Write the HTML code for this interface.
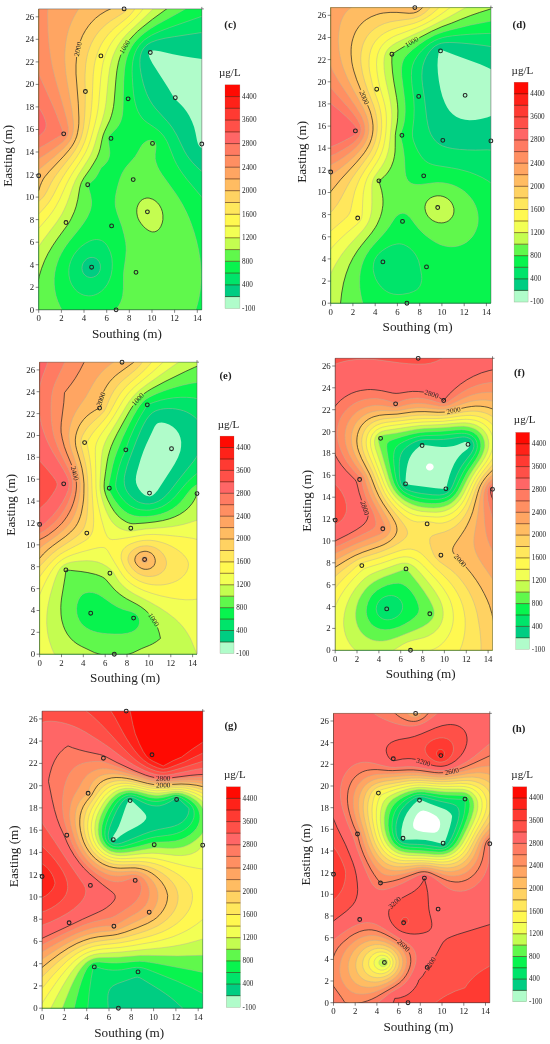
<!DOCTYPE html>
<html><head><meta charset="utf-8"><title>Contour maps</title>
<style>html,body{margin:0;padding:0;background:#fff}svg{display:block}text{font-family:"Liberation Serif",serif;fill:#222}</style>
</head><body>
<svg width="550" height="1044" viewBox="0 0 550 1044">
<rect width="550" height="1044" fill="#fff"/>
<clipPath id="cp0"><rect x="38.7" y="8.9" width="163.1" height="300.9"/></clipPath>
<g clip-path="url(#cp0)">
<rect x="38.7" y="8.9" width="163.1" height="300.9" fill="#fff"/>
<path fill="#b0fcca" fill-rule="evenodd" d="M36.4,311.3L203.8,311.3L203.8,6.1L36.4,6.1Z"/>
<path fill="#00cd82" fill-rule="evenodd" d="M36.4,311.3L203.8,311.3L203.8,149.1L201.5,148L200.4,147.2L199.2,146L198,144L197,140.6L195.5,132.7L194.1,127.1L192,121.4L189.2,115.8L186.7,111.8L183.7,107.8L180.7,104.5L175.3,99.2L174,97.7L167.9,87.5L152.5,63.5L150.3,59.2L149.3,57L148.7,54.7L148.6,53.6L148.8,52.5L149.1,51.9L150.3,50.9L152.5,50.4L154.8,50.5L160,51.3L173,54.3L182.1,56.1L191.3,57.6L203.8,59.3L203.8,6.1L36.4,6.1Z"/>
<path fill="#00e46a" fill-rule="evenodd" d="M36.4,311.3L203.8,311.3L203.8,173.1L199.2,169.2L195.8,166L192.4,162.4L189,158.2L186.7,154.9L184.4,151L176.7,135L172.6,128.2L170.1,124.8L167.3,121.4L156,109L152.5,104.5L150.3,100.9L148,96.6L146.5,93.2L144.9,88.6L143.4,83.9L142.1,78.5L140.9,72.8L140.1,67.2L139.9,62.6L140,59.3L140.4,55.9L141.4,52.5L142.4,50.2L143.9,48L146,45.7L148,44.1L151.4,42.2L157.1,40.1L165.1,38.2L174.2,36.7L203.8,32.2L203.8,6.1L36.4,6.1ZM89.9,277.4L87.7,276.9L86.5,276.3L85.4,275.5L83.9,274L83.1,272.7L82.3,270.6L82,268.3L82.2,266.1L82.8,263.8L83.4,262.7L85.1,260.4L86.5,259.2L87.7,258.4L89.9,257.6L92.2,257.4L93.3,257.5L95.3,258.1L96.8,259L97.9,260L99,261.5L99.6,262.7L100.3,264.9L100.4,268.3L99.9,270.6L99,272.5L98,274L96.8,275.2L95.4,276.2L93.3,277.1L91.1,277.5Z"/>
<path fill="#08f44e" fill-rule="evenodd" d="M36.4,311.3L203.8,311.3L203.8,199.6L186.7,179.1L182.4,173.4L179.4,168.9L176.7,164.4L174.2,159.3L168.6,145.1L167.1,141.7L165.2,138.4L163.7,136.1L160.8,132.7L158.2,130.3L154.8,127.7L147.1,122.5L144.3,120.3L142.1,118L139.7,114.6L137.9,111.2L136.6,107.8L135.3,103.3L134.3,98.8L133.5,93.2L132.8,85.2L132.3,77.3L132.1,71.7L132.3,66L132.8,61.5L133.7,57L134.8,53.6L136.2,50.2L138.2,46.8L140.8,43.4L143,41.2L146.9,38.1L150.3,36L154.8,33.6L159.4,31.6L169.6,27.6L203.8,15.6L203.8,6.1L36.4,6.1ZM85.4,295.5L83.1,294.9L80.8,293.9L77.4,291.7L75.4,289.8L74,288.1L71.7,284.5L70.6,282L69.8,279.6L68.9,275.1L68.8,270.6L69.1,267.2L69.6,264.9L70.6,261.6L71.5,259.3L73.9,254.8L77.4,250.2L80.8,246.8L85.4,243.4L89.9,241L92.2,240.2L94.5,239.7L96.8,239.5L99,239.8L101.3,240.5L102.5,241.1L104.2,242.3L105.9,244L107.2,245.7L108.5,248L110.5,252.5L111.9,258.1L112.3,263.8L112.1,269.4L111.1,275.1L109.6,279.6L107.5,284.1L104.7,288L101.3,291.3L97.9,293.6L95.6,294.6L93.3,295.4L91.1,295.8L88.8,295.9Z"/>
<path fill="#60f84c" fill-rule="evenodd" d="M36.4,311.3L62.7,311.3L60.2,306.7L57.7,301.1L55.9,295.4L54.8,289.8L54.2,284.1L54.2,278.5L54.8,272.8L55.9,267.2L57.3,262.7L59,258.1L61.2,253.6L63.7,249.2L66,245.7L69.3,241.2L79.4,228.8L83.6,223.1L87.2,217.5L89.8,211.8L90.6,209.6L91.3,206.2L91.5,203.9L91.5,200.5L90.6,194.9L87.7,184.7L88.8,184L92.2,181.3L95.4,177.9L97.6,174.5L100.5,168.9L101.3,167.8L104.9,164.4L106.8,162.1L107.6,161L108.7,158.7L109.4,156.4L109.8,153L109.6,149.7L108.3,140.6L108.4,138.4L108.7,137.2L109.3,136.1L110.4,134.6L116.6,128.2L119,124.8L120.2,122.5L121.1,120.3L122.3,115.8L123,109L123.8,80.7L124.6,69.4L125.4,63.8L126.7,58.1L128.2,53.6L130.3,49.1L133,44.6L136.6,40L141.2,35.6L146.9,31.1L151.4,28.1L157.1,24.6L176.3,14.1L190.2,6.1L36.4,6.1ZM115.7,311.3L195.3,311.3L197.4,304.5L199,297.7L200.2,290.9L201,283L201.2,275.1L200.9,267.2L200.1,259.3L198.6,250.2L196.9,242.3L194.4,233.3L191.8,225.4L189.3,218.6L186.3,211.8L182.8,205L179.5,199.4L175.8,193.7L162,174.5L159.2,170L157.5,166.6L155.9,162.1L155.2,158.7L155.2,154.2L156,147.4L156,145.1L155.7,144L155.3,142.9L154.5,141.7L153.7,141.1L152.8,140.6L151.4,140.2L149.1,140.3L146.9,141L144.6,142.4L142.9,144L141.2,146.3L137.4,153L135.2,156.4L132.4,159.8L127.3,165.5L124.7,168.9L122.1,173.4L120.2,177.9L118.1,184.7L116.4,191.5L115.6,196L115.2,200.5L115.2,203.9L115.6,207.3L117.1,212.9L121.8,226L124.1,234.4L125.7,242.3L126.1,246.8L126.2,250.2L125.7,257L123.7,271.7L123.5,276.2L123.4,288.7L122.7,295.4L121.9,298.8L120.7,302.2L118.9,305.6L116.1,309Z"/>
<path fill="#c4fd50" fill-rule="evenodd" d="M36.4,292L36.4,293.1L37.6,284.1L39.5,275.1L42,267.2L44.7,260.4L48,253.6L52.7,245.7L57.3,238.9L67.2,225.4L69.4,222L71.2,218.6L74.3,211.8L76.2,206.2L77.8,199.4L79.7,188.1L80.6,184.7L81.4,182.4L83.9,177.9L90.2,168.9L94.4,162.1L96.9,157.6L98.8,153L100.2,148.5L102,139.5L103.2,135L104.7,131.2L109.8,120.3L111.4,115.8L112.6,111.2L113.5,106.7L114.2,101.1L116,78.5L117.1,69.4L118.2,63.8L119.3,59.3L120.9,54.7L122.3,51.3L124.7,46.8L127.6,42.3L131.2,37.8L135.6,33.3L140,29.2L146.9,23.6L157.1,15.8L167.3,8.4L170,6.1L36.4,6.1ZM149.6,231L151.4,231.7L152.5,231.9L154.8,231.8L157.1,230.8L158.2,229.9L159.4,228.7L160.8,226.5L162.2,223.1L162.9,219.7L162.9,215.2L162.4,211.8L161.2,208.4L159.4,205.1L157.5,202.8L154.8,200.5L152.5,199.2L149.1,198.1L146.9,198L144.6,198.5L142.3,199.6L141.1,200.5L139.2,202.8L138,205L137.2,207.3L136.8,209.6L136.8,212.9L137.4,216.3L138.2,218.6L139.3,220.9L141.2,223.7L143.4,226.4L145.7,228.5L148,230.2Z"/>
<path fill="#f2ff54" fill-rule="evenodd" d="M36.4,249.1L36.4,249.7L43.1,240.1L56.8,222L61.5,214.8L64.2,209.6L66.7,203.9L68.8,198.3L72.6,187L75.5,180.2L78.6,174.5L88,159.8L90.5,155.3L92.5,150.8L94.5,145.1L98.1,132.7L102.2,120.3L104.3,112.4L105.4,106.7L106.2,101.1L108.3,78.5L109.7,68.3L110.7,63.8L111.9,59.3L113.5,54.7L115.5,50.2L117.9,45.7L120.1,42.3L122.6,38.9L125.5,35.5L129.9,31L144.4,17.4L155.9,6.1L36.4,6.1Z"/>
<path fill="#fff850" fill-rule="evenodd" d="M36.4,231L48.1,217.5L52.4,211.8L55.3,207.3L59.6,199.4L66.2,184.7L69.1,179L73,172.3L80.5,161L83.3,156.4L85.8,151.9L88.3,146.3L90.3,140.6L92.3,133.8L95,123.7L96.8,115.8L98,109L98.8,102.2L100.8,77.3L102,68.3L103.1,62.6L104.3,58.1L105.9,53.6L107.9,49.1L109.7,45.7L111.8,42.3L114.2,38.9L117,35.5L122.5,29.9L132.1,21.1L135.8,17.4L140.8,11.8L145.2,6.1L36.4,6.1Z"/>
<path fill="#ffe75c" fill-rule="evenodd" d="M36.4,215.2L36.4,216.2L41,211.6L44.4,207.9L47.7,203.9L50.1,200.5L53.4,194.9L59.1,183.6L63,176.8L67.4,170L76.3,157.6L79.7,152.2L82.2,147.4L84.7,141.7L86.5,136.1L88.2,129.3L89.6,122.5L90.8,114.6L91.6,106.7L92.2,98.8L93.2,75.1L94.2,66L95.3,60.4L96.5,55.9L98.1,51.3L100.1,46.8L101.9,43.4L104,40L106.4,36.7L109.3,33.3L115.1,27.6L126.4,18.4L129.8,15.3L131.9,12.9L133.6,10.7L136.4,6.1L36.4,6.1Z"/>
<path fill="#ffd262" fill-rule="evenodd" d="M36.4,202.8L36.4,203.5L41,199.4L43.3,196.9L44.8,194.9L46.8,191.5L51.4,182.4L54.8,176.8L59.8,170L70.6,156.5L75.1,150.1L78.5,144L80.8,138.4L82.2,133.8L83.4,128.2L84.1,122.5L84.7,115.8L85.1,107.8L85.4,92L85,81.9L85,75.1L85.7,64.9L86.5,59.3L87.7,53.6L89.5,48L91.4,43.4L93.8,38.9L95.9,35.5L99,31.4L102.5,27.7L106.4,24.2L110.4,21.1L122.9,13.2L125.2,11.5L126.9,9.5L128.5,6.1L36.4,6.1Z"/>
<path fill="#ffbc62" fill-rule="evenodd" d="M36.4,191.5L36.4,192.2L37.7,191.5L38.8,190.3L40.2,185.8L42.1,181.3L44,177.9L45.7,175.7L51.7,168.9L64.9,154.9L70.6,148.1L72.9,144.7L74.5,141.7L75.5,139.5L76.8,136.1L77.6,132.7L78.4,128.2L78.8,122.5L78.9,116.9L78.2,102.2L76.1,76.2L75.9,69.4L76.1,63.8L76.6,57L77.7,50.2L79.5,43.4L81.6,37.8L83.8,33.3L86.5,28.7L89.8,24.2L93.3,20.3L96.8,17.2L100.2,14.6L105.9,11.1L111.6,8.4L113.8,6.1L36.4,6.1Z"/>
<path fill="#ffa562" fill-rule="evenodd" d="M36.4,171.1L36.4,171.7L54.6,156.5L63.7,148.3L67.2,144.5L69.4,141.5L71.2,138.4L72.4,135L73.2,131.6L73.5,128.2L73.5,124.8L73.2,120.3L71.7,108.5L67.3,83L65.8,72.8L64.9,61.5L64.8,55.9L65,50.2L65.7,43.4L66.6,37.8L67.9,32.1L69.4,27.3L71.5,22L74,16.8L76.8,11.8L80.4,6.1L36.4,6.1Z"/>
<path fill="#ff8f62" fill-rule="evenodd" d="M36.4,159.8L36.4,160.4L47.8,152.9L56.9,146.4L62.6,141.9L64.9,139.7L66.8,137.2L67.9,135L68.5,131.6L68.3,127.1L66.7,119.1L63.7,107.9L54.9,77.3L52.5,67.2L50.6,57L49,44.6L48,31L47.6,14.1L47.8,9.5L48.2,6.1L36.4,6.1Z"/>
<path fill="#ff7b62" fill-rule="evenodd" d="M36.4,148.5L36.4,149.6L44.4,145.2L56.9,137.7L63.7,133.8L56.9,115.5L53.5,107L41.7,80.7L36.4,68.5Z"/>
<path fill="#ff6666" fill-rule="evenodd" d="M36.4,137.2L36.4,137.5L40.4,135L42.1,133.4L43.8,131.6L44.6,130.4L45.6,128.2L45.9,127.1L46.1,124.8L45.9,122.5L45.3,120.3L43.6,115.8L41,110.9L36.4,103.9Z"/>
<path fill="none" stroke="#b8b49c" stroke-opacity="0.75" stroke-width="0.6" d="M89.9,277.4L87.7,276.9L86.5,276.3L85.4,275.5L83.9,274L83.1,272.7L82.3,270.6L82,268.3L82.2,266.1L82.8,263.8L83.4,262.7L85.1,260.4L86.5,259.2L87.7,258.4L89.9,257.6L92.2,257.4L93.3,257.5L95.3,258.1L96.8,259L97.9,260L99,261.5L99.6,262.7L100.3,264.9L100.4,268.3L99.9,270.6L99,272.5L98,274L96.8,275.2L95.4,276.2L93.3,277.1L91.1,277.5L89.9,277.4M203.8,173.1L199.2,169.2L195.8,166L192.4,162.4L189,158.2L186.7,154.9L184.4,151L176.7,135L172.6,128.2L170.1,124.8L167.3,121.4L156,109L152.5,104.5L150.3,100.9L148,96.6L146.5,93.2L144.9,88.6L143.4,83.9L142.1,78.5L140.9,72.8L140.1,67.2L139.9,62.6L140,59.3L140.4,55.9L141.4,52.5L142.4,50.2L143.9,48L146,45.7L148,44.1L151.4,42.2L157.1,40.1L165.1,38.2L174.2,36.7L203.8,32.2M85.4,295.5L83.1,294.9L80.8,293.9L77.4,291.7L75.4,289.8L74,288.1L71.7,284.5L70.6,282L69.8,279.6L68.9,275.1L68.8,270.6L69.1,267.2L69.6,264.9L70.6,261.6L71.5,259.3L73.9,254.8L77.4,250.2L80.8,246.8L85.4,243.4L89.9,241L92.2,240.2L94.5,239.7L96.8,239.5L99,239.8L101.3,240.5L102.5,241.1L104.2,242.3L105.9,244L107.2,245.7L108.5,248L110.5,252.5L111.9,258.1L112.3,263.8L112.1,269.4L111.1,275.1L109.6,279.6L107.5,284.1L104.7,288L101.3,291.3L97.9,293.6L95.6,294.6L93.3,295.4L91.1,295.8L88.8,295.9L85.4,295.5M203.8,199.6L186.7,179.1L182.4,173.4L179.4,168.9L176.7,164.4L174.2,159.3L168.6,145.1L167.1,141.7L165.2,138.4L163.7,136.1L160.8,132.7L158.2,130.3L154.8,127.7L147.1,122.5L144.3,120.3L142.1,118L139.7,114.6L137.9,111.2L136.6,107.8L135.3,103.3L134.3,98.8L133.5,93.2L132.8,85.2L132.3,77.3L132.1,71.7L132.3,66L132.8,61.5L133.7,57L135.2,52.5L136.8,49.1L138.9,45.7L141.9,42.3L144.6,39.8L148,37.4L151.4,35.3L156,33.1L160.5,31.1L169.6,27.6L203.8,15.6M62.7,311.3L60.2,306.7L57.7,301.1L55.9,295.4L54.8,289.8L54.2,284.1L54.2,278.5L54.8,272.8L55.9,267.2L57.3,262.7L59,258.1L61.2,253.6L63.7,249.2L66,245.7L69.3,241.2L79.4,228.8L83.6,223.1L87.2,217.5L89.8,211.8L90.6,209.6L91.3,206.2L91.5,203.9L91.5,200.5L90.6,194.9L87.7,184.7L88.8,184L92.2,181.3L95.4,177.9L97.6,174.5L100.5,168.9L101.3,167.8L104.9,164.4L106.8,162.1L107.6,161L108.7,158.7L109.4,156.4L109.8,153L109.6,149.7L108.3,140.6L108.4,138.4L108.7,137.2L109.3,136.1L110.4,134.6L116.6,128.2L119,124.8L120.2,122.5L121.1,120.3L122.3,115.8L123,109L123.7,81.9L124.4,70.6L125.2,64.9L126.1,60.4L127.4,55.9L128.7,52.5L131.6,46.8L134.7,42.3L138.9,37.7L144.6,32.8L150.3,28.8L157.1,24.6L176.3,14.1L190.2,6.1M195.3,311.3L198,302.2L199.6,294.3L200.7,286.4L201.2,277.4L201,268.3L200.1,259.3L198.4,249.1L196,238.9L193.4,229.9L190.6,222L187.3,214.1L183.4,206.2L180.2,200.5L176.5,194.6L162,174.5L159.2,170L157.5,166.6L155.9,162.1L155.2,158.7L155.2,154.2L156,147.4L156,145.1L155.7,144L154.8,142.2L153.7,141.1L152.5,140.5L150.3,140.2L148,140.6L146.9,141L144.6,142.4L142.9,144L141.2,146.3L137.4,153L135.2,156.4L132.4,159.8L126.4,166.6L124.1,169.8L121.8,173.9L119.8,179L117.8,185.8L116.2,192.6L115.4,197.1L115.2,200.5L115.2,203.9L115.6,207.3L117.1,212.9L121.8,226L124.1,234.4L125.7,242.3L126.1,246.8L126.2,250.2L125.7,257L123.7,271.7L123.5,276.2L123.4,288.7L122.7,295.4L121.9,298.8L120.7,302.2L118.9,305.6L116.1,309L115.7,311.3M36.4,249.7L43.1,240.1L56.8,222L61.5,214.8L64.2,209.6L66.7,203.9L68.8,198.3L72.6,187L75.5,180.2L78.6,174.5L88,159.8L90.5,155.3L92.5,150.8L94.5,145.1L98.1,132.7L102.2,120.3L104.3,112.4L105.4,106.7L106.2,101.1L108.3,78.5L109.7,68.3L110.7,63.8L111.9,59.3L113.5,54.7L115.5,50.2L117.9,45.7L120.1,42.3L122.6,38.9L125.5,35.5L129.9,31L144.4,17.4L155.9,6.1M36.4,231L48.1,217.5L52.4,211.8L55.3,207.3L59.6,199.4L66.2,184.7L69.1,179L73,172.3L80.5,161L83.3,156.4L85.8,151.9L88.3,146.3L90.3,140.6L92.3,133.8L95,123.7L96.8,115.8L98,109L98.8,102.2L100.8,77.3L102,68.3L103.1,62.6L104.3,58.1L105.9,53.6L107.9,49.1L109.7,45.7L111.8,42.3L114.2,38.9L117,35.5L122.5,29.9L132.1,21.1L135.8,17.4L140.8,11.8L145.2,6.1M36.4,216.2L41,211.6L44.4,207.9L47.7,203.9L50.1,200.5L53.4,194.9L59.1,183.6L63,176.8L67.4,170L76.3,157.6L79.7,152.2L82.2,147.4L84.7,141.7L86.5,136.1L88.2,129.3L89.6,122.5L90.8,114.6L91.6,106.7L92.2,98.8L93.2,75.1L94.2,66L95.3,60.4L96.5,55.9L98.1,51.3L99.5,48L101.2,44.6L103.2,41.2L105.6,37.8L108.3,34.4L111.4,31L115.1,27.6L126.4,18.4L129.8,15.3L131.9,12.9L133.6,10.7L136.4,6.1M36.4,203.5L41,199.4L43.3,196.9L44.8,194.9L46.8,191.5L51.4,182.4L54.8,176.8L59.8,170L70.6,156.5L75.1,150.1L78.5,144L80.8,138.4L82.2,133.8L83.4,128.2L84.1,122.5L84.7,115.8L85.1,107.8L85.4,92L85,81.9L85,75.1L85.7,64.9L86.5,59.3L87.7,53.6L89.5,48L91.4,43.4L93.8,38.9L95.9,35.5L99,31.4L102.5,27.7L106.4,24.2L110.4,21.1L122.9,13.2L125.2,11.5L126.9,9.5L128.5,6.1M36.4,171.7L54.6,156.5L63.7,148.3L67.2,144.5L69.4,141.5L71.2,138.4L72.4,135L73.2,131.6L73.5,128.2L73.5,124.8L73.2,120.3L71.7,108.5L67.3,83L65.8,72.8L64.9,61.5L64.8,55.9L65,50.2L65.7,43.4L66.6,37.8L67.9,32.1L69.4,27.3L71.5,22L74,16.8L76.8,11.8L80.4,6.1M36.4,160.4L52.4,149.7L58.1,145.6L62.6,141.9L64.9,139.7L66.8,137.2L67.9,135L68.5,131.6L68.3,127.1L66.7,119.1L63.7,107.9L54.9,77.3L52.5,67.2L50.6,57L49,44.6L48,31L47.6,14.1L47.8,9.5L48.2,6.1M36.4,149.6L44.4,145.2L56.9,137.7L63.7,133.8L56.9,115.5L53.5,107L41.7,80.7L36.4,68.5M36.4,137.5L40.4,135L42.1,133.4L43.8,131.6L44.6,130.4L45.6,128.2L45.9,127.1L46.1,124.8L45.9,122.5L45.3,120.3L43.6,115.8L41,110.9L36.4,103.9"/>
<path fill="none" stroke="#222" stroke-width="0.7" d="M36.4,293.1L37.4,285.3L39.2,276.2L41.6,268.3L44.7,260.4L48,253.6L52.7,245.7L57.3,238.9L67.2,225.4L69.4,222L71.2,218.6L74.3,211.8L76.2,206.2L77.8,199.4L79.7,188.1L80.6,184.7L81.4,182.4L83.9,177.9L90.2,168.9L94.4,162.1L96.9,157.6L98.8,153L100.2,148.5L102,139.5L103.2,135L104.7,131.2L109.8,120.3L111.4,115.8L112.6,111.2L113.5,106.7L114.2,101.1L115.9,79.6L116.9,70.6L118.4,62.6L119.7,58.1L120.9,54.7M129.3,40L134.4,34.4L137.7,31.2L142.3,27.3L152.5,19.2L167.3,8.4L170,6.1M149.6,231L151.4,231.7L152.5,231.9L154.8,231.8L157.1,230.8L158.2,229.9L159.4,228.7L160.8,226.5L162.2,223.1L162.9,219.7L162.9,215.2L162.4,211.8L161.2,208.4L159.4,205.1L157.5,202.8L154.8,200.5L152.5,199.2L149.1,198.1L146.9,198L144.6,198.5L142.3,199.6L141.1,200.5L139.2,202.8L138,205L137.2,207.3L136.8,209.6L136.8,212.9L137.4,216.3L138.2,218.6L139.3,220.9L141.2,223.7L143.4,226.4L145.7,228.5L148,230.2L149.6,231M36.4,192.2L37.7,191.5L38.8,190.3L40.2,185.8L41.6,182.4L43.3,179L44.8,176.8L49.6,171.1L63.7,156.2L69.4,149.6L71.8,146.3L73.9,142.9L75.5,139.5L76.8,136.1L77.6,132.7L78.4,128.2L78.8,123.7L78.9,118L78.3,103.3L76,73.9L76,64.9L76.6,57M80.3,41.2L82.6,35.5L85.4,30.5L88.8,25.5L92.2,21.5L95.6,18.2L100.2,14.6L105.9,11.1L111.6,8.4L113.8,6.1"/>
<text x="124.7" y="49.2" font-size="7.2" text-anchor="middle" transform="rotate(-60 124.7 46.8)" fill="#222">1000</text>
<text x="78" y="51.5" font-size="7.2" text-anchor="middle" transform="rotate(-77.3 78 49.1)" fill="#222">2000</text>
</g>
<circle cx="124.1" cy="8.9" r="1.9" fill="none" stroke="#222" stroke-width="1.05"/>
<circle cx="150.3" cy="52.5" r="1.9" fill="none" stroke="#222" stroke-width="1.05"/>
<circle cx="100.9" cy="55.9" r="1.9" fill="none" stroke="#222" stroke-width="1.05"/>
<circle cx="85.4" cy="91.5" r="1.9" fill="none" stroke="#222" stroke-width="1.05"/>
<circle cx="128.1" cy="98.8" r="1.9" fill="none" stroke="#222" stroke-width="1.05"/>
<circle cx="175.3" cy="97.7" r="1.9" fill="none" stroke="#222" stroke-width="1.05"/>
<circle cx="63.7" cy="133.8" r="1.9" fill="none" stroke="#222" stroke-width="1.05"/>
<circle cx="111" cy="138.4" r="1.9" fill="none" stroke="#222" stroke-width="1.05"/>
<circle cx="152.5" cy="143.4" r="1.9" fill="none" stroke="#222" stroke-width="1.05"/>
<circle cx="201.8" cy="144" r="1.9" fill="none" stroke="#222" stroke-width="1.05"/>
<circle cx="38.7" cy="175.7" r="1.9" fill="none" stroke="#222" stroke-width="1.05"/>
<circle cx="87.7" cy="184.7" r="1.9" fill="none" stroke="#222" stroke-width="1.05"/>
<circle cx="133.2" cy="179.6" r="1.9" fill="none" stroke="#222" stroke-width="1.05"/>
<circle cx="147.4" cy="211.8" r="1.9" fill="none" stroke="#222" stroke-width="1.05"/>
<circle cx="66" cy="222.5" r="1.9" fill="none" stroke="#222" stroke-width="1.05"/>
<circle cx="111.6" cy="225.9" r="1.9" fill="none" stroke="#222" stroke-width="1.05"/>
<circle cx="91.6" cy="267.2" r="1.9" fill="none" stroke="#222" stroke-width="1.05"/>
<circle cx="136" cy="272.3" r="1.9" fill="none" stroke="#222" stroke-width="1.05"/>
<circle cx="116.1" cy="309.8" r="1.9" fill="none" stroke="#222" stroke-width="1.05"/>
<text x="38.7" y="321.3" font-size="8.8" text-anchor="middle">0</text>
<text x="61.4" y="321.3" font-size="8.8" text-anchor="middle">2</text>
<text x="84" y="321.3" font-size="8.8" text-anchor="middle">4</text>
<text x="106.7" y="321.3" font-size="8.8" text-anchor="middle">6</text>
<text x="129.3" y="321.3" font-size="8.8" text-anchor="middle">8</text>
<text x="152" y="321.3" font-size="8.8" text-anchor="middle">10</text>
<text x="174.6" y="321.3" font-size="8.8" text-anchor="middle">12</text>
<text x="197.3" y="321.3" font-size="8.8" text-anchor="middle">14</text>
<text x="34.2" y="312.7" font-size="8.8" text-anchor="end">0</text>
<text x="34.2" y="290.2" font-size="8.8" text-anchor="end">2</text>
<text x="34.2" y="267.6" font-size="8.8" text-anchor="end">4</text>
<text x="34.2" y="245.1" font-size="8.8" text-anchor="end">6</text>
<text x="34.2" y="222.5" font-size="8.8" text-anchor="end">8</text>
<text x="34.2" y="200" font-size="8.8" text-anchor="end">10</text>
<text x="34.2" y="177.5" font-size="8.8" text-anchor="end">12</text>
<text x="34.2" y="154.9" font-size="8.8" text-anchor="end">14</text>
<text x="34.2" y="132.4" font-size="8.8" text-anchor="end">16</text>
<text x="34.2" y="109.8" font-size="8.8" text-anchor="end">18</text>
<text x="34.2" y="87.3" font-size="8.8" text-anchor="end">20</text>
<text x="34.2" y="64.8" font-size="8.8" text-anchor="end">22</text>
<text x="34.2" y="42.2" font-size="8.8" text-anchor="end">24</text>
<text x="34.2" y="19.7" font-size="8.8" text-anchor="end">26</text>
<path d="M38.7,8.9H201.8V309.8" fill="none" stroke="#555" stroke-width="0.5"/>
<path d="M38.7,8.9V309.8H201.8M38.7,309.8v3M61.4,309.8v3M84,309.8v3M106.7,309.8v3M129.3,309.8v3M152,309.8v3M174.6,309.8v3M197.3,309.8v3M38.7,309.8h-3M38.7,287.3h-3M38.7,264.7h-3M38.7,242.2h-3M38.7,219.6h-3M38.7,197.1h-3M38.7,174.6h-3M38.7,152h-3M38.7,129.5h-3M38.7,106.9h-3M38.7,84.4h-3M38.7,61.9h-3M38.7,39.3h-3M38.7,16.8h-3M201.8,8.9v-2M201.8,8.9h2" fill="none" stroke="#333" stroke-width="0.6"/>
<text x="127" y="337.6" font-size="13.2" text-anchor="middle">Southing (m)</text>
<text x="12.5" y="155.8" font-size="13.2" text-anchor="middle" transform="rotate(-90 12.5 155.8)">Easting (m)</text>
<text x="230.3" y="27.5" font-size="10.8" font-weight="bold" text-anchor="middle">(c)</text>
<rect x="225" y="296.6" width="14.9" height="12" fill="#b0fcca"/>
<rect x="225" y="284.9" width="14.9" height="12" fill="#00cd82"/>
<rect x="225" y="273.1" width="14.9" height="12" fill="#00e46a"/>
<rect x="225" y="261.3" width="14.9" height="12" fill="#08f44e"/>
<rect x="225" y="249.6" width="14.9" height="12" fill="#60f84c"/>
<rect x="225" y="237.8" width="14.9" height="12" fill="#c4fd50"/>
<rect x="225" y="226" width="14.9" height="12" fill="#f2ff54"/>
<rect x="225" y="214.3" width="14.9" height="12" fill="#fff850"/>
<rect x="225" y="202.5" width="14.9" height="12" fill="#ffe75c"/>
<rect x="225" y="190.7" width="14.9" height="12" fill="#ffd262"/>
<rect x="225" y="178.9" width="14.9" height="12" fill="#ffbc62"/>
<rect x="225" y="167.2" width="14.9" height="12" fill="#ffa562"/>
<rect x="225" y="155.4" width="14.9" height="12" fill="#ff8f62"/>
<rect x="225" y="143.6" width="14.9" height="12" fill="#ff7b62"/>
<rect x="225" y="131.9" width="14.9" height="12" fill="#ff6666"/>
<rect x="225" y="120.1" width="14.9" height="12" fill="#ff5048"/>
<rect x="225" y="108.3" width="14.9" height="12" fill="#ff3a32"/>
<rect x="225" y="96.6" width="14.9" height="12" fill="#ff2219"/>
<rect x="225" y="84.8" width="14.9" height="12" fill="#ff0a02"/>
<path d="M225,296.6H239.9M225,284.9H239.9M225,273.1H239.9M225,261.3H239.9M225,249.6H239.9M225,237.8H239.9M225,226H239.9M225,214.3H239.9M225,202.5H239.9M225,190.7H239.9M225,178.9H239.9M225,167.2H239.9M225,155.4H239.9M225,143.6H239.9M225,131.9H239.9M225,120.1H239.9M225,108.3H239.9M225,96.6H239.9" fill="none" stroke="#3a1a08" stroke-opacity="0.8" stroke-width="0.7"/>
<rect x="225" y="84.8" width="14.9" height="223.6" fill="none" stroke="#806050" stroke-opacity="0.5" stroke-width="0.4"/>
<text x="242.1" y="310.7" font-size="7.2">-100</text>
<text x="242.1" y="287.2" font-size="7.2">400</text>
<text x="242.1" y="263.6" font-size="7.2">800</text>
<text x="242.1" y="240.1" font-size="7.2">1200</text>
<text x="242.1" y="216.6" font-size="7.2">1600</text>
<text x="242.1" y="193" font-size="7.2">2000</text>
<text x="242.1" y="169.5" font-size="7.2">2400</text>
<text x="242.1" y="145.9" font-size="7.2">2800</text>
<text x="242.1" y="122.4" font-size="7.2">3600</text>
<text x="242.1" y="98.9" font-size="7.2">4400</text>
<text x="219" y="76.4" font-size="11">µg/L</text>
<clipPath id="cp1"><rect x="330.7" y="7.6" width="160.2" height="295.6"/></clipPath>
<g clip-path="url(#cp1)">
<rect x="330.7" y="7.6" width="160.2" height="295.6" fill="#fff"/>
<path fill="#b0fcca" fill-rule="evenodd" d="M328.6,305.2L493.1,305.2L493.1,5.4L328.6,5.4Z"/>
<path fill="#00cd82" fill-rule="evenodd" d="M328.6,305.2L493.1,305.2L493.1,115.4L487,117.5L480.8,119.1L475.2,119.9L469.6,120.2L465.1,119.8L460.7,118.7L458.4,117.8L456.2,116.7L452.8,114.2L449.6,110.9L447.2,107.5L444.9,103.1L442.4,96.4L440.5,89.4L438.9,80.9L437.9,73.1L437.5,65.3L437.8,58.7L438.6,53.1L439.5,50.9L440.5,50.1L441.6,50.1L444.4,50.9L456.2,55.6L480.2,64.2L487.5,67.4L493.1,70.4L493.1,5.4L328.6,5.4Z"/>
<path fill="#00e46a" fill-rule="evenodd" d="M328.6,305.2L493.1,305.2L493.1,150.3L487.5,149.8L475.2,150.1L467.4,149.9L459.6,149.4L452.8,148.6L447.2,147.4L442.8,146L439.3,144.2L437.2,142.5L435.4,140.9L432.8,137.5L430.9,134.2L429.3,130.3L428,125.3L426.8,118.7L424.5,98.7L422.6,85.3L422,79.8L421.9,75.3L422.2,69.8L423,65.3L424.4,60.9L426.4,56.5L429.2,52L432,48.7L434.9,46.2L438.3,44.3L441.6,43.2L445,42.7L449.5,42.5L454,42.6L461.9,43.1L473.4,44.2L483.1,45.4L493.1,46.9L493.1,5.4L328.6,5.4Z"/>
<path fill="#08f44e" fill-rule="evenodd" d="M328.6,305.2L493.1,305.2L493.1,184.6L487.9,180.8L482.2,177.5L476.3,174.8L469.6,172.2L464,170.6L458.4,169.2L451.7,167.9L436,165.4L432.7,164.6L430.4,163.8L428.2,162.8L426,161.4L423.7,159.4L421.5,156.8L418.4,152L415.9,147L413.5,140.9L412.5,136.4L412.4,132L413.9,118.7L414.2,108.7L413.8,99.8L411.8,83.1L411.4,75.3L411.7,69.8L412.6,65.3L414.3,60.9L417,56.5L418.6,54.2L421.5,50.9L426.1,46.5L430.4,43.1L434.9,40.5L438.3,39L442.8,37.6L447.2,36.6L452.8,35.8L460.7,35L470.7,34.2L493.1,33.2L493.1,5.4L328.6,5.4ZM393.5,294.1L391.3,293.5L389,292.7L386.8,291.5L384.5,290L381.2,287L378,283L375.6,278.6L374.1,274.1L373.4,270.8L373.2,268.6L373.5,264.1L374,261.9L374.7,259.7L376.6,256.4L378.9,253.5L382.3,250.6L386.8,247.7L390.1,246L392.4,245.1L396.9,244L399.1,243.8L401.3,244L403.6,244.6L405.2,245.3L406.9,246.2L409.2,247.7L411.4,249.6L413.5,251.9L415.2,254.1L416.6,256.4L418.6,260.8L420,266.4L421.6,275.2L421.8,278.6L421.6,280.8L420.8,284.1L419.8,286.3L419,287.5L416.8,289.7L413.6,291.5L409.2,293.1L402.5,294.3L398,294.6Z"/>
<path fill="#60f84c" fill-rule="evenodd" d="M328.6,305.2L363.3,305.2L361.6,298.6L360.5,293L359.8,287.5L359.6,281.9L359.8,276.3L360.5,270.8L361.8,265.2L363.4,260.8L364.9,257.5L366.7,254.1L370.5,248.6L373.3,245.2L382.4,235.3L386.2,230.8L389.4,226.4L393.7,219.7L395.7,217L397.6,215.3L399.1,214.2L401.3,213.4L403.6,213.3L404.7,213.6L406.9,214.6L409,216.4L410.3,217.8L415.9,225.3L419.2,229.3L422.6,232.7L426,235.7L430.4,239.1L436,242.6L440.5,244.7L445,246.1L449.5,246.8L454,246.8L458.4,246L461.8,244.8L464,243.7L466.3,242.4L469.6,239.7L472.5,236.4L474.7,233L476.6,228.6L477.3,226.4L478,223L478.2,217.5L477.5,211.9L476.9,209.7L475.8,206.4L474.2,203.1L472.9,200.8L469.6,196.4L467.5,194.2L465.1,191.9L461.8,189.5L457.3,186.9L452.8,185L448.4,183.7L442.8,182.8L437.2,182.6L432.7,183L421.5,184.5L418.1,184.6L415.9,184.5L412.5,183.8L410.3,182.7L408.2,180.8L406.8,178.6L405.8,175.7L405.2,172L404.5,158.6L403.6,150.9L402.7,145.3L400.8,137.5L400.5,135.3L401,133.1L403.2,126.4L404.2,122L404.9,116.4L405.2,110.9L405.1,105.3L404.7,99.8L401.8,76.5L401.5,72L401.6,67.6L402.3,63.1L403.5,59.8L404.8,57.6L407.6,54.2L412.4,49.8L419.5,44.2L426.1,39.8L431.6,36.7L434.9,35.1L439.4,33.3L443.9,31.8L449.5,30.2L470.7,25L493.1,20.7L493.1,5.4L328.6,5.4Z"/>
<path fill="#c4fd50" fill-rule="evenodd" d="M328.6,305.2L340.3,305.2L341.7,293L343.5,283L345,277.5L346.3,273L347.9,268.6L349.8,264.1L353.2,257.5L357.4,250.8L361.5,245.3L371.5,233L375.3,227.5L377.2,224.2L378.8,220.8L380.5,216.4L381.5,213L382.4,208.6L382.9,205.3L383,201.9L382.9,198.6L382.5,195.3L381.7,190.8L378.9,180.8L381.2,179.2L384.3,176.4L386.4,174.2L388.1,172L389.6,169.7L391.3,166.6L393.4,160.9L394.4,156.4L395,152L395.2,147.5L395.3,135.3L395.7,132L397.3,122L397.7,117.5L397.9,110.9L397.4,103.1L396.5,96.4L393.4,78.7L392.2,68.7L391.8,59.8L391.9,55.4L392.2,54.2L393.6,53.1L398.8,49.8L409.9,43.1L421.7,36.5L431.6,31.3L441.6,26.8L451.7,23.1L467.4,16.8L478.6,12.8L492,8.4L493.1,8L493.1,5.4L328.6,5.4ZM435.7,221.9L438.3,222.7L441.6,222.9L443.9,222.7L446.4,221.9L448.5,220.8L451,218.6L452.5,216.4L453.5,214.2L453.9,211.9L453.9,208.6L452.9,205.3L451.8,203.1L450.1,200.8L447.5,198.6L445,197.2L442.8,196.4L440.5,195.9L437.2,195.8L434.9,196.2L432.7,196.9L430.4,198L428.3,199.7L426.5,201.9L425.5,204.2L425,206.4L425,208.6L425.7,211.9L426.7,214.2L428.2,216.5L430.4,218.8L432.7,220.5Z"/>
<path fill="#f2ff54" fill-rule="evenodd" d="M328.6,277.5L328.6,278L331.5,271.9L335,265.2L338.3,259.7L342,254.1L345.4,249.7L349,245.3L363.3,229.7L366.5,225.3L368.4,221.9L369.3,219.7L370.4,216.4L371.1,213L371.6,209.7L371.9,203.1L371.8,187.5L372,184.2L372.7,180.8L373.5,178.6L374.6,176.4L381.7,166.4L384.3,162L386.3,157.5L388,152L389,147.5L389.7,142L391.5,123.1L391.8,115.3L391.5,109.8L390.6,103.1L389.6,97.6L386.1,82L384.9,75.3L384.1,68.7L383.9,63.1L384.1,58.7L384.7,55.4L386,52L387.4,49.8L389.4,47.6L392.4,45.2L395.7,43.1L402.3,39.8L420.4,31.5L432.7,25.4L449.8,16.5L469.5,5.4L328.6,5.4Z"/>
<path fill="#fff850" fill-rule="evenodd" d="M328.6,250.8L328.6,251.4L335,244.1L342.8,236.4L357.7,223.7L359.9,221.2L360.8,219.7L361.7,217.5L362.2,214.2L362.8,199.7L363.3,193.1L364.3,187.5L365.4,183.1L367,178.6L369.2,174.2L376.7,162.5L379.5,157.5L381.9,152L383.6,146.4L384.9,139.8L385.9,132L386.4,124.2L386.4,117.5L386,112L384.9,105.3L383.2,98.7L379.6,86.4L377.9,77.6L376.9,70.9L376.5,64.2L376.8,58.7L377.7,54.2L379.4,49.8L381.3,46.5L383.4,43.8L386.6,40.9L390.1,38.5L393.5,36.6L396.9,35.1L415.9,28L421.5,25.6L426.5,23.1L432.4,19.8L439.3,15.4L445.6,10.9L453,5.4L328.6,5.4Z"/>
<path fill="#ffe75c" fill-rule="evenodd" d="M328.6,231.9L328.6,232.9L345.2,218.6L347.4,216.4L349,214.2L350.1,211.9L350.8,209.7L353.1,198.6L354.7,191.9L356.2,187.5L357.9,183.1L359.9,178.6L362.4,174.2L365.2,169.7L371.9,159.7L375.1,154.2L378,147.5L379.9,140.9L381.1,134.2L381.7,127.5L381.6,120.9L381,114.2L380.1,109.2L378.8,104.2L377,98.7L373.8,89.8L372.6,85.3L370.4,75.3L369.6,70.9L369.1,66.5L369,60.9L369.5,55.4L370.9,49.8L372.7,45.4L374.8,42L377.5,38.7L381.2,35.4L384.5,33.1L388.7,30.9L393.5,29L398.2,27.6L412.5,23.8L417,22.3L421.5,20.4L426.5,17.6L431.3,14.3L436.6,9.8L441.3,5.4L328.6,5.4Z"/>
<path fill="#ffd262" fill-rule="evenodd" d="M328.6,214.2L328.6,214.5L333,209.9L337.4,204.2L340.9,198.4L347.8,185.3L351.8,178.6L356.4,172L366.3,158.6L369.3,154.2L371.8,149.7L373.3,146.4L375,142L376.1,137.5L377,132L377.3,126.4L377,120.9L376,114.2L374.9,109.8L373.5,105.3L367.5,89.8L364.9,82L362.5,73.1L361.2,65.3L360.7,58.7L361.2,52L362.4,46.5L363.3,43.7L364.5,40.9L367,36.5L368.7,34.3L370.7,32L374.5,28.8L378.9,26L384.5,23.5L390.1,21.9L395.7,20.9L410.3,18.9L413.6,18.2L417,17.1L420.8,15.4L424.8,12.7L428.1,9.8L432,5.4L328.6,5.4Z"/>
<path fill="#ffbc62" fill-rule="evenodd" d="M328.6,194.2L328.6,194.3L340.5,179.7L357.7,161L361,157L364.1,153.1L367,148.6L369.4,144.2L371.1,139.8L372.5,134.2L373,129.8L372.9,124.2L372.3,119.8L371,114.2L369.6,109.8L367.8,105.3L360.2,88.7L356.7,79.8L353.8,70.9L352,63.1L351.4,58.7L351.1,54.2L351.1,49.8L351.3,46.5L352,42L352.9,38.7L354,35.4L355.5,32L357.4,28.7L359,26.5L361,24.1L363.2,22L366,19.8L368.9,18L371.8,16.5L374.5,15.3L377.8,14.2L381.2,13.4L384.5,12.8L389,12.4L395.7,12.4L409.2,13.3L413.6,13L416.8,12L419.2,10.6L422.6,7.6L424,5.4L328.6,5.4Z"/>
<path fill="#ffa562" fill-rule="evenodd" d="M328.6,177.5L332.2,174.2L340.9,167.9L347.6,162.5L354.3,156.4L358.8,151.7L363,146.4L365.5,142.2L367.5,137.5L368.6,133.1L368.9,129.8L368.8,125.3L368,120.9L366.6,116.1L365,112L363.3,108.2L351.4,86.4L348.1,79.8L345.7,74.2L343.1,67.6L341.1,60.9L339.6,54.2L338.8,48.7L338.3,40.9L338.6,34.3L339.5,27.6L340.2,24.3L341.2,20.9L343.2,16.5L344.5,14.3L346.2,12L349.5,8.7L353.9,5.4L328.6,5.4ZM414.8,7.6L415,5.4L411.2,5.4L413.6,6.7Z"/>
<path fill="#ff8f62" fill-rule="evenodd" d="M328.6,165.3L328.6,166.2L336.4,161.8L342,158.4L349.8,152.7L355.4,147.9L357.7,145.6L359.9,142.9L362.6,138.6L363.6,136.4L364.3,134.2L364.8,132L364.9,129.8L364.8,126.4L363.8,122L362.1,117.7L360.4,114.2L355.4,106L343.5,88.7L337.8,79.8L332.8,70.9L328.6,62Z"/>
<path fill="#ff7b62" fill-rule="evenodd" d="M328.6,156.4L328.6,157L335.3,153.9L340.9,151L347.6,146.9L353.2,142.9L356.6,139.8L359.2,136.4L359.9,135L360.6,133.1L361.1,129.8L360.8,127.5L359.9,124.2L357.7,119.9L355.4,116.5L352.1,112.1L347.6,106.8L328.6,85.4Z"/>
<path fill="#ff6666" fill-rule="evenodd" d="M328.6,147.5L328.6,147.7L331.9,146.4L337.5,144.1L344.2,140.8L351,137.2L353.2,135.9L355.4,134.2L356.6,132.9L357,132L357.3,130.9L357.2,129.8L356.3,127.5L354.3,124.8L352.1,122.4L346.5,116.9L339.8,110.8L328.6,101.7Z"/>
<path fill="none" stroke="#b8b49c" stroke-opacity="0.75" stroke-width="0.6" d="M493.1,150.3L487.5,149.8L475.2,150.1L467.4,149.9L459.6,149.4L452.8,148.6L447.2,147.4L442.8,146L439.3,144.2L437.2,142.5L435.4,140.9L432.8,137.5L430.9,134.2L429.3,130.3L428,125.3L426.8,118.7L424.5,98.7L422.6,85.3L422,79.8L421.9,75.3L422.2,69.8L423,65.3L424.4,60.9L426.4,56.5L429.2,52L432,48.7L434.9,46.2L438.3,44.3L441.6,43.2L445,42.7L449.5,42.5L454,42.6L461.9,43.1L473.4,44.2L483.1,45.4L493.1,46.9M393.5,294.1L391.3,293.5L389,292.7L386.8,291.5L384.5,290L381.2,287L378,283L375.6,278.6L374.1,274.1L373.4,270.8L373.2,268.6L373.5,264.1L374,261.9L374.7,259.7L376.6,256.4L378.9,253.5L382.3,250.6L386.8,247.7L390.1,246L392.4,245.1L396.9,244L399.1,243.8L401.3,244L403.6,244.6L405.2,245.3L406.9,246.2L409.2,247.7L411.4,249.6L413.5,251.9L415.2,254.1L416.6,256.4L418.6,260.8L420,266.4L421.6,275.2L421.8,278.6L421.6,280.8L420.8,284.1L419.8,286.3L419,287.5L416.8,289.7L413.6,291.5L409.2,293.1L402.5,294.3L398,294.6L393.5,294.1M493.1,184.6L487.9,180.8L482.2,177.5L476.3,174.8L469.6,172.2L464,170.6L458.4,169.2L451.7,167.9L436,165.4L432.7,164.6L430.4,163.8L428.2,162.8L426,161.4L423.7,159.4L421.5,156.8L418.4,152L415.9,147L413.5,140.9L412.5,136.4L412.4,132L413.9,118.7L414.2,108.7L413.8,99.8L411.8,83.1L411.4,75.3L411.7,69.8L412.6,65.3L414.3,60.9L417,56.5L418.6,54.2L421.5,50.9L426.1,46.5L430.4,43.1L434.9,40.5L438.3,39L442.8,37.6L447.2,36.6L452.8,35.8L460.7,35L470.7,34.2L493.1,33.2M363.3,305.2L361.6,298.6L360.5,293L359.8,287.5L359.6,281.9L359.8,276.3L360.3,271.9L361.5,266.4L363,261.9L364.4,258.6L366.1,255.2L369.7,249.7L373.3,245.2L385.3,231.9L388.6,227.5L394.6,218.4L396.4,216.4L398,215L400.2,213.7L402.5,213.2L404.7,213.6L406.9,214.6L409,216.4L410.3,217.8L415.9,225.3L419.6,229.7L422.9,233L427.1,236.6L432.7,240.6L437.2,243.2L441.6,245.1L446.1,246.3L450.6,246.8L455.1,246.6L459.6,245.6L464,243.7L467.4,241.6L470.7,238.5L473.3,235.3L475.8,230.8L477.3,226.4L477.8,224.2L478.2,220.8L478.1,215.3L476.9,209.7L475.8,206.4L474.8,204.2L472.2,199.7L468.6,195.3L466.4,193.1L463.7,190.8L458.4,187.5L454,185.5L449.5,184L443.9,182.9L439.4,182.6L434.9,182.7L420.4,184.5L417,184.6L413.6,184.1L411.4,183.3L409.3,182L408.1,180.7L406.8,178.6L405.8,175.7L405.2,172L404.5,158.6L403.6,150.9L402.7,145.3L400.8,137.5L400.5,135.3L401,133.1L403.2,126.4L404.2,122L404.9,116.4L405.2,110.9L405.1,105.3L404.7,99.8L401.8,76.5L401.5,72L401.6,67.6L402.3,63.1L403.5,59.8L404.8,57.6L407.6,54.2L412.4,49.8L419.5,44.2L426.1,39.8L431.6,36.7L434.9,35.1L439.4,33.3L443.9,31.8L449.5,30.2L470.7,25L493.1,20.7M328.6,278L331.5,271.9L335,265.2L338.3,259.7L342,254.1L345.4,249.7L349,245.3L363.3,229.7L366.5,225.3L368.4,221.9L369.3,219.7L370.4,216.4L371.1,213L371.6,209.7L371.9,203.1L371.8,187.5L372,184.2L372.7,180.8L373.5,178.6L374.6,176.4L381.7,166.4L384.3,162L386.3,157.5L388,152L389,147.5L389.7,142L391.5,123.1L391.8,115.3L391.5,109.8L390.6,103.1L389.6,97.6L386.1,82L384.9,75.3L384.1,68.7L383.9,63.1L384.1,58.7L384.7,55.4L386,52L387.4,49.8L389.4,47.6L392.4,45.2L395.7,43.1L402.3,39.8L420.4,31.5L432.7,25.4L449.8,16.5L469.5,5.4M328.6,251.4L334,245.3L339.4,239.7L346.6,233L357.7,223.7L359.9,221.2L360.8,219.7L361.7,217.5L362.2,214.2L362.8,199.7L363.3,193.1L364.3,187.5L365.4,183.1L367,178.6L369.2,174.2L376.7,162.5L379.5,157.5L381.9,152L383.6,146.4L384.9,139.8L385.9,132L386.4,124.2L386.4,117.5L386,112L384.9,105.3L383.2,98.7L379.6,86.4L377.9,77.6L376.9,70.9L376.5,64.2L376.8,58.7L377.7,54.2L379.4,49.8L381.3,46.5L383.4,43.8L386.6,40.9L390.1,38.5L393.5,36.6L396.9,35.1L415.9,28L421.5,25.6L426.5,23.1L432.4,19.8L439.3,15.4L445.6,10.9L453,5.4M328.6,232.9L345.2,218.6L347.4,216.4L349,214.2L350.1,211.9L350.8,209.7L353.1,198.6L354.7,191.9L356.2,187.5L357.9,183.1L359.9,178.6L362.4,174.2L365.2,169.7L371.9,159.7L375.1,154.2L378,147.5L379.9,140.9L381.1,134.2L381.7,127.5L381.6,120.9L381,114.2L380.1,109.2L378.8,104.2L377,98.7L373.8,89.8L372.6,85.3L370.4,75.3L369.6,70.9L369.1,66.5L369,60.9L369.5,55.4L370.9,49.8L372.7,45.4L374.8,42L377.5,38.7L381.2,35.4L384.5,33.1L388.7,30.9L393.5,29L398.2,27.6L412.5,23.8L417,22.3L421.5,20.4L426.5,17.6L431.3,14.3L436.6,9.8L441.3,5.4M328.6,214.5L333.2,209.7L337.4,204.2L340.9,198.4L347.8,185.3L351.8,178.6L356.4,172L366.3,158.6L369.3,154.2L371.8,149.7L373.3,146.4L375,142L376.1,137.5L377,132L377.3,126.4L377,120.9L376,114.2L374.9,109.8L373.5,105.3L367.5,89.8L364.9,82L362.5,73.1L361.2,65.3L360.7,58.7L361.2,52L362.4,46.5L363.3,43.7L364.5,40.9L367,36.5L368.7,34.3L370.7,32L374.5,28.8L378.9,26L384.5,23.5L390.1,21.9L395.7,20.9L410.3,18.9L413.6,18.2L417,17.1L420.8,15.4L424.8,12.7L428.1,9.8L432,5.4M328.6,177.6L332.2,174.2L340.9,167.9L347.6,162.5L354.3,156.4L358.8,151.7L363,146.4L365.5,142.2L367.5,137.5L368.6,133.1L368.9,129.8L368.8,125.3L368,120.9L366.6,116.1L365,112L363.3,108.2L351.4,86.4L348.1,79.8L345.7,74.2L343.1,67.6L341.1,60.9L339.6,54.2L338.8,48.7L338.3,40.9L338.6,34.3L339.5,27.6L340.2,24.3L341.2,20.9L343.2,16.5L344.5,14.3L346.2,12L349.5,8.7L353.9,5.4M411.2,5.4L413.6,6.7L414.8,7.6L415,5.4M328.6,166.2L337.5,161.2L344.2,156.9L351,151.8L356.6,146.8L359.9,142.9L362.6,138.6L363.6,136.4L364.3,134.2L364.8,132L364.9,129.8L364.8,126.4L363.8,122L362.1,117.7L360.4,114.2L355.4,106L343.5,88.7L337.8,79.8L332.8,70.9L328.6,62M328.6,157L335.3,153.9L342,150.3L348.7,146.2L353.2,142.9L356.6,139.8L359.2,136.4L359.9,135L360.6,133.1L361.1,129.8L360.8,127.5L359.9,124.2L357.7,119.9L355.4,116.5L352.1,112.1L347.6,106.8L328.6,85.4M328.6,147.7L333,146L337.5,144.1L344.2,140.8L351,137.2L353.2,135.9L355.4,134.2L356.6,132.9L357,132L357.3,130.9L357.2,129.8L356.3,127.5L354.3,124.8L352.1,122.4L346.5,116.9L339.8,110.8L328.6,101.7"/>
<path fill="none" stroke="#222" stroke-width="0.7" d="M340.3,305.2L341.7,293L343.5,283L346,274.1L349.3,265.2L353.2,257.5L357.4,250.8L361.5,245.3L371.5,233L375.3,227.5L377.2,224.2L379.2,219.7L380.5,216.4L381.8,211.9L382.4,208.6L382.9,205.3L383,201.9L382.9,198.6L382.5,195.3L381.7,190.8L378.9,180.8L381.2,179.2L384.3,176.4L386.4,174.2L388.1,172L389.6,169.7L391.3,166.6L393.4,160.9L394.4,156.4L395,152L395.2,147.5L395.3,135.3L395.7,132L397.3,122L397.7,117.5L397.9,110.9L397.5,104.2L396.6,97.6L393.7,80.9L392.5,72L391.8,63.1L391.9,55.4L392.4,54L397,50.9L404.7,46.2M419.2,37.8L431.6,31.3L441.6,26.8L451.7,23.1L460.7,19.4L470.7,15.5L479.7,12.4L490.9,8.9L493.1,8M435.7,221.9L438.3,222.7L441.6,222.9L443.9,222.7L446.4,221.9L448.5,220.8L451,218.6L452.5,216.4L453.5,214.2L453.9,211.9L453.9,208.6L452.9,205.3L451.8,203.1L450.1,200.8L447.5,198.6L445,197.2L442.8,196.4L440.5,195.9L437.2,195.8L434.9,196.2L432.7,196.9L430.4,198L428.3,199.7L426.5,201.9L425.5,204.2L425,206.4L425,208.6L425.7,211.9L426.7,214.2L428.2,216.5L430.4,218.8L432.7,220.5L435.7,221.9M328.6,194.3L340.5,179.7L356.6,162.2L361.5,156.4L364.4,152.7L366.6,149.3L368.3,146.4L369.9,143.1L371.5,138.6L372.5,134.2L373,129.8L373,125.3L372.5,120.9L371.3,115.3L370,110.9L367.7,105.2M360.7,89.8L356.7,79.8L353.8,70.9L352.7,66.5L351.8,62L351.1,54.2L351.1,49.8L351.3,46.5L352,42L352.9,38.7L354,35.4L355.4,32.1L356.7,29.8L358.8,26.7L362.1,23L364.4,21L366.6,19.4L371.1,16.8L376.7,14.6L380.1,13.6L383.4,13L390.1,12.4L396.9,12.4L409.2,13.3L413.6,13L416.8,12L419.2,10.6L422.6,7.6L424,5.4"/>
<text x="411.8" y="44.4" font-size="7.2" text-anchor="middle" transform="rotate(-30 411.8 42)" fill="#222">1000</text>
<text x="364.3" y="100" font-size="7.2" text-anchor="middle" transform="rotate(65.7 364.3 97.6)" fill="#222">2000</text>
</g>
<circle cx="414.8" cy="7.6" r="1.9" fill="none" stroke="#222" stroke-width="1.05"/>
<circle cx="440.5" cy="50.9" r="1.9" fill="none" stroke="#222" stroke-width="1.05"/>
<circle cx="391.9" cy="54.2" r="1.9" fill="none" stroke="#222" stroke-width="1.05"/>
<circle cx="376.7" cy="89.2" r="1.9" fill="none" stroke="#222" stroke-width="1.05"/>
<circle cx="418.7" cy="96.4" r="1.9" fill="none" stroke="#222" stroke-width="1.05"/>
<circle cx="465.1" cy="95.3" r="1.9" fill="none" stroke="#222" stroke-width="1.05"/>
<circle cx="355.4" cy="130.9" r="1.9" fill="none" stroke="#222" stroke-width="1.05"/>
<circle cx="401.9" cy="135.3" r="1.9" fill="none" stroke="#222" stroke-width="1.05"/>
<circle cx="442.8" cy="140.3" r="1.9" fill="none" stroke="#222" stroke-width="1.05"/>
<circle cx="490.9" cy="140.9" r="1.9" fill="none" stroke="#222" stroke-width="1.05"/>
<circle cx="330.7" cy="172" r="1.9" fill="none" stroke="#222" stroke-width="1.05"/>
<circle cx="378.9" cy="180.8" r="1.9" fill="none" stroke="#222" stroke-width="1.05"/>
<circle cx="423.7" cy="175.8" r="1.9" fill="none" stroke="#222" stroke-width="1.05"/>
<circle cx="437.7" cy="207.5" r="1.9" fill="none" stroke="#222" stroke-width="1.05"/>
<circle cx="357.7" cy="218" r="1.9" fill="none" stroke="#222" stroke-width="1.05"/>
<circle cx="402.5" cy="221.4" r="1.9" fill="none" stroke="#222" stroke-width="1.05"/>
<circle cx="382.9" cy="261.9" r="1.9" fill="none" stroke="#222" stroke-width="1.05"/>
<circle cx="426.5" cy="266.9" r="1.9" fill="none" stroke="#222" stroke-width="1.05"/>
<circle cx="406.9" cy="303.2" r="1.9" fill="none" stroke="#222" stroke-width="1.05"/>
<text x="330.7" y="314.7" font-size="8.8" text-anchor="middle">0</text>
<text x="352.9" y="314.7" font-size="8.8" text-anchor="middle">2</text>
<text x="375.2" y="314.7" font-size="8.8" text-anchor="middle">4</text>
<text x="397.4" y="314.7" font-size="8.8" text-anchor="middle">6</text>
<text x="419.7" y="314.7" font-size="8.8" text-anchor="middle">8</text>
<text x="441.9" y="314.7" font-size="8.8" text-anchor="middle">10</text>
<text x="464.2" y="314.7" font-size="8.8" text-anchor="middle">12</text>
<text x="486.4" y="314.7" font-size="8.8" text-anchor="middle">14</text>
<text x="326.2" y="306.1" font-size="8.8" text-anchor="end">0</text>
<text x="326.2" y="284" font-size="8.8" text-anchor="end">2</text>
<text x="326.2" y="261.8" font-size="8.8" text-anchor="end">4</text>
<text x="326.2" y="239.7" font-size="8.8" text-anchor="end">6</text>
<text x="326.2" y="217.5" font-size="8.8" text-anchor="end">8</text>
<text x="326.2" y="195.4" font-size="8.8" text-anchor="end">10</text>
<text x="326.2" y="173.2" font-size="8.8" text-anchor="end">12</text>
<text x="326.2" y="151.1" font-size="8.8" text-anchor="end">14</text>
<text x="326.2" y="129" font-size="8.8" text-anchor="end">16</text>
<text x="326.2" y="106.8" font-size="8.8" text-anchor="end">18</text>
<text x="326.2" y="84.7" font-size="8.8" text-anchor="end">20</text>
<text x="326.2" y="62.5" font-size="8.8" text-anchor="end">22</text>
<text x="326.2" y="40.4" font-size="8.8" text-anchor="end">24</text>
<text x="326.2" y="18.2" font-size="8.8" text-anchor="end">26</text>
<path d="M330.7,7.6H490.9V303.2" fill="none" stroke="#555" stroke-width="0.5"/>
<path d="M330.7,7.6V303.2H490.9M330.7,303.2v3M352.9,303.2v3M375.2,303.2v3M397.4,303.2v3M419.7,303.2v3M441.9,303.2v3M464.2,303.2v3M486.4,303.2v3M330.7,303.2h-3M330.7,281.1h-3M330.7,258.9h-3M330.7,236.8h-3M330.7,214.6h-3M330.7,192.5h-3M330.7,170.3h-3M330.7,148.2h-3M330.7,126.1h-3M330.7,103.9h-3M330.7,81.8h-3M330.7,59.6h-3M330.7,37.5h-3M330.7,15.3h-3M490.9,7.6v-2M490.9,7.6h2" fill="none" stroke="#333" stroke-width="0.6"/>
<text x="417.6" y="331" font-size="13.2" text-anchor="middle">Southing (m)</text>
<text x="306" y="151.9" font-size="13.2" text-anchor="middle" transform="rotate(-90 306 151.9)">Easting (m)</text>
<text x="519.2" y="27.5" font-size="10.8" font-weight="bold" text-anchor="middle">(d)</text>
<rect x="514.1" y="290.4" width="14" height="11.8" fill="#b0fcca"/>
<rect x="514.1" y="278.9" width="14" height="11.8" fill="#00cd82"/>
<rect x="514.1" y="267.3" width="14" height="11.8" fill="#00e46a"/>
<rect x="514.1" y="255.7" width="14" height="11.8" fill="#08f44e"/>
<rect x="514.1" y="244.2" width="14" height="11.8" fill="#60f84c"/>
<rect x="514.1" y="232.6" width="14" height="11.8" fill="#c4fd50"/>
<rect x="514.1" y="221" width="14" height="11.8" fill="#f2ff54"/>
<rect x="514.1" y="209.5" width="14" height="11.8" fill="#fff850"/>
<rect x="514.1" y="197.9" width="14" height="11.8" fill="#ffe75c"/>
<rect x="514.1" y="186.3" width="14" height="11.8" fill="#ffd262"/>
<rect x="514.1" y="174.7" width="14" height="11.8" fill="#ffbc62"/>
<rect x="514.1" y="163.2" width="14" height="11.8" fill="#ffa562"/>
<rect x="514.1" y="151.6" width="14" height="11.8" fill="#ff8f62"/>
<rect x="514.1" y="140" width="14" height="11.8" fill="#ff7b62"/>
<rect x="514.1" y="128.5" width="14" height="11.8" fill="#ff6666"/>
<rect x="514.1" y="116.9" width="14" height="11.8" fill="#ff5048"/>
<rect x="514.1" y="105.3" width="14" height="11.8" fill="#ff3a32"/>
<rect x="514.1" y="93.8" width="14" height="11.8" fill="#ff2219"/>
<rect x="514.1" y="82.2" width="14" height="11.8" fill="#ff0a02"/>
<path d="M514.1,290.4H528.1M514.1,278.9H528.1M514.1,267.3H528.1M514.1,255.7H528.1M514.1,244.2H528.1M514.1,232.6H528.1M514.1,221H528.1M514.1,209.5H528.1M514.1,197.9H528.1M514.1,186.3H528.1M514.1,174.7H528.1M514.1,163.2H528.1M514.1,151.6H528.1M514.1,140H528.1M514.1,128.5H528.1M514.1,116.9H528.1M514.1,105.3H528.1M514.1,93.8H528.1" fill="none" stroke="#3a1a08" stroke-opacity="0.8" stroke-width="0.7"/>
<rect x="514.1" y="82.2" width="14" height="219.8" fill="none" stroke="#806050" stroke-opacity="0.5" stroke-width="0.4"/>
<text x="530.3" y="304.3" font-size="7.2">-100</text>
<text x="530.3" y="281.2" font-size="7.2">400</text>
<text x="530.3" y="258" font-size="7.2">800</text>
<text x="530.3" y="234.9" font-size="7.2">1200</text>
<text x="530.3" y="211.8" font-size="7.2">1600</text>
<text x="530.3" y="188.6" font-size="7.2">2000</text>
<text x="530.3" y="165.5" font-size="7.2">2400</text>
<text x="530.3" y="142.3" font-size="7.2">2800</text>
<text x="530.3" y="119.2" font-size="7.2">3600</text>
<text x="530.3" y="96.1" font-size="7.2">4400</text>
<text x="511.6" y="73.6" font-size="11">µg/L</text>
<clipPath id="cp2"><rect x="39.6" y="362.2" width="157.4" height="292"/></clipPath>
<g clip-path="url(#cp2)">
<rect x="39.6" y="362.2" width="157.4" height="292" fill="#fff"/>
<path fill="#b0fcca" fill-rule="evenodd" d="M37.3,656L199,656L199,359.8L37.3,359.8Z"/>
<path fill="#00cd82" fill-rule="evenodd" d="M37.3,656L199,656L199,359.8L37.3,359.8ZM147.3,496.1L146.2,495.8L144.2,494.7L141.6,492.5L139,489.3L137.2,486L136.1,482.7L135.8,479.4L136.1,476.1L137,471.7L140.7,458.9L143.5,450.9L146.2,444.5L154.5,426.7L156.1,424.5L157.2,423.6L158.3,423L159.4,422.7L161.6,422.6L164.9,423L169.1,424.5L172.8,426.7L174.8,428.5L176.3,430L178.6,433.3L179.6,435.5L180.4,437.7L181.2,442.1L181.1,446.5L180.4,450.9L179.3,454.1L178,457.4L174.6,464L171.2,469.5L157.7,490.3L154.9,493.6L152.8,495.3L150.6,496.2L149.5,496.4Z"/>
<path fill="#00e46a" fill-rule="evenodd" d="M37.3,656L199,656L199,452.7L196.2,457.4L192.3,462.9L180.3,477.7L168.8,492.5L165.7,495.8L161.8,499.1L158.3,501.3L155,502.7L152.2,503.5L149.5,503.9L146.2,503.9L144,503.7L140.7,502.8L138.5,502L136.3,500.8L134.1,499.3L131.9,497.5L129.7,495.2L127.7,492.5L126.4,490.3L125.5,488.2L124.8,486L124.4,483.8L124.2,480.5L124.4,477.2L125,473.9L127,466.2L128.9,460.7L137.6,437.7L141.8,428.2L145.1,421.8L148.4,416.9L151.7,413.4L153.9,411.8L156.1,410.7L159.4,409.6L162.7,409L166,408.6L169.3,408.5L173.7,408.7L177,409.2L180.3,409.9L183.6,410.8L186.9,412.1L189.7,413.6L192.4,415.3L194.6,417L196.8,419L199,421.8L199,359.8L37.3,359.8Z"/>
<path fill="#08f44e" fill-rule="evenodd" d="M37.3,656L199,656L199,471.8L192.4,477.3L188,481.4L183.9,486L174.8,496.9L172.6,499.2L169.3,502.1L164.9,505.1L160.5,507.3L156.1,508.9L151.7,509.8L148.4,510.2L145.1,510.2L139.6,509.6L136.3,508.7L134.1,507.9L129.7,505.5L127.1,503.5L124.7,501.3L122,498.3L119.8,495.3L118.1,492.5L116.5,489.3L115.9,487.1L115.7,484.9L115.9,481.6L116.9,476.1L118.1,470.6L119.6,465.1L122.3,457.4L125.8,449.8L127.5,444.3L129.5,438.8L133.3,430L137.6,421.2L141.8,413.6L147.3,404.8L153.9,402.3L160.5,400.3L167.1,398.8L173.7,397.8L180.3,397.3L186.9,397.3L193.5,397.9L199,399L199,359.8L37.3,359.8Z"/>
<path fill="#60f84c" fill-rule="evenodd" d="M37.3,656L199,656L199,483.5L194.6,486.1L191.3,488.8L189,491.4L183.6,498.6L180.3,502.4L176.8,505.7L172.3,509L167.1,511.8L163.8,513.1L160.5,514.2L153.9,515.7L146.2,516.6L139.6,516.6L134.1,515.8L129.7,514.3L127.5,513.2L124.6,511.2L122,509L119.8,506.8L115.4,501.3L113.2,497.9L109.9,492.1L108.8,489.8L108.3,488.2L108.8,484.2L112.5,466.2L114.5,458.5L116.8,452L122.1,438.8L126.7,428.9L134.1,414.7L137.4,409.2L139.5,405.9L142.9,401.7L146.2,399L151.7,395.9L159.4,392.5L169.3,389L180.3,385.7L190.2,383.5L199,382.2L199,359.8L37.3,359.8ZM114.3,634.1L107.7,633.8L102.2,633.2L97.8,632.5L93.4,631.3L90.1,630L86.8,628.2L83.5,625.7L81.3,623.4L79.1,620.1L77.6,616.5L76.8,613.2L76.5,608.8L77,604.4L78.4,600L80.2,596.9L82.4,594.6L84.2,593.5L85.7,592.9L89,592.3L92.3,592.6L94.5,593.1L96.7,593.8L98.9,594.8L102.2,596.8L112.1,603.8L117.6,607.1L123.1,609.4L130.8,611.6L133,612.4L135.2,613.6L137.3,615.4L138.1,616.5L139.1,618.7L139.5,620.9L139.5,623.1L138.9,625.3L138.3,626.4L137.4,627.8L135.6,629.7L134.1,630.7L131.9,631.9L127.5,633.2L122,634Z"/>
<path fill="#c4fd50" fill-rule="evenodd" d="M37.3,656L199,656L199,493.6L196.8,493.6L196.2,495.8L195.3,498L193.5,501.3L191.3,504.6L188.4,507.9L186,510.1L183.1,512.3L179.6,514.5L175.9,516.3L172.4,517.8L168.2,519.2L163.8,520.3L158.3,521.4L151.7,522.3L142.9,523.2L135.2,523.7L131.9,523.7L129.7,523.3L127.5,522.5L125.3,521.4L122.9,520L118.7,516.6L116.5,514.2L114.3,511.5L112.1,508.2L109.9,504.3L106.6,497.3L104.7,491.4L104.3,489.3L104.1,486L104.7,478.3L107.1,461.8L108.7,454.1L110.8,447.6L114,439.9L119.7,428.9L129.4,411.4L132.1,407L135.2,402.6L138.5,398.7L141.8,395.5L146.2,392.2L151.7,388.7L161.6,383.3L175.9,376.1L191.3,368.7L199,365.5L199,359.8L37.3,359.8ZM104.4,654.9L100,654.3L94.5,652.6L81.3,646.3L77.1,643.9L73.6,641.3L70.3,638L67.3,634.1L64.8,629.5L63.2,625.3L61.7,619.8L61,614.3L60.8,607.7L61,603.3L61.6,597.9L65.1,577L65.9,570.4L67,570.1L70.7,570.4L81.3,571.6L89,572.8L93.4,573.8L97,574.8L100,575.9L103.3,577.6L105.5,579.2L106.6,580.3L111.1,585.8L114.3,589.3L119.8,594.2L123.1,596.6L126.4,598.7L139.6,606L142.9,608.2L146.3,611L149.5,614.3L152.1,617.6L154.2,620.9L156.5,625.3L157.9,628.6L159,631.9L160.5,638.4L157.8,640.6L153.9,643.2L149.5,645.4L141.8,648.5L134.1,652.3L131.9,653.2L128.6,654.2L125.3,654.8L122,655L117.6,654.6L114.3,653.8L109.9,654.7L106.6,655Z"/>
<path fill="#f2ff54" fill-rule="evenodd" d="M37.3,656L55.4,656L53.2,651.6L51.4,647.2L49.9,642.8L48.5,637.3L47.6,633L47,627.5L46.7,623.1L46.7,617.6L47.1,612.1L47.8,606.6L48.8,601.1L50.1,595.7L51.9,589.1L54.3,581.4L56.3,575.9L58.3,571.5L60.3,568.2L62.4,566L64.8,564.4L67,563.4L70.3,562.4L75.8,561.4L81.3,560.9L86.8,560.7L92.3,561L97.8,562.1L102.2,563.8L106.6,566.3L109.9,568.7L112.1,570.8L113.5,572.6L116.7,578.1L119,581.4L123,585.8L126.8,589.1L129.9,591.3L134.1,593.9L150.1,602.2L159.7,607.7L167.9,613.2L175,618.7L178.5,622L181.6,625.3L184.3,628.6L186.6,631.9L188.6,635.2L190.9,639.5L197.7,656L199,656L199,519.6L189.1,522.8L183.4,524.4L177,525.8L170.4,526.8L163.8,527.5L145.1,529L131.9,531L129.7,531.1L127.5,530.8L123.1,529.7L120.9,528.9L118.7,527.8L115.4,525.4L112.1,521.9L108.8,516.7L105.5,509.6L102.6,501.3L100.7,493.6L100,487.1L100,479.4L101.4,458.5L102.4,450.9L103.9,445.4L105.7,441L108.5,435.5L117.6,420.7L127,404.8L130,400.4L133.5,396L136.7,392.7L140.7,389.2L147.3,384.2L181.8,359.8L37.3,359.8Z"/>
<path fill="#fff850" fill-rule="evenodd" d="M37.3,600L37.3,601.1L39.7,594.6L42.5,588L45.7,581.4L49.2,574.8L51.9,570.4L54.2,567.1L57.1,563.8L59.3,561.8L62.6,559.4L65.9,557.5L69.2,556L73.6,554.4L81.3,552L92.3,549.1L97.8,547.8L101.1,547.4L103.3,547.5L104.4,547.8L105.5,548.4L106.6,549.4L107.7,550.7L114.7,562.7L119.5,570.4L122.4,574.8L125.3,578.4L127.5,580.6L130.8,583.4L134.1,585.6L137.4,587.5L144,590.6L151.7,593.3L160.5,595.8L170.4,597.9L178.1,599.1L185.8,599.8L192.4,599.7L199,598.9L199,539.9L192.4,538.3L182.5,536.8L164.9,535L153.9,534.4L147.3,534.6L141.8,535.2L127.5,537.7L116.5,539.4L112.1,539.6L109.9,539L108.8,538.3L108,537.5L106.6,535.4L105.5,532.9L103.7,527.6L101.6,520L99.7,512.3L97.9,503.5L96.8,496.9L96.2,491.4L95.9,486L95.7,469.5L95.3,450.9L95.5,447.6L95.8,445.4L96.4,443.2L97.8,439.9L99.6,436.6L101.7,433.3L109.9,422L113.2,417.1L123.1,400.4L126.2,396L128.6,393L131.9,389.4L135.2,386.3L152.5,371.9L158.6,366.4L165.4,359.8L37.3,359.8Z"/>
<path fill="#ffe75c" fill-rule="evenodd" d="M152.1,584.7L156.1,585L160.5,585L164,584.7L168.2,583.9L172.6,582.6L175.6,581.4L178.1,580.1L181,578.1L183.4,575.9L185.3,573.7L186.7,571.5L188,568.2L188.5,564.9L188.3,562.7L187.6,560.6L186.4,558.4L183.8,555.1L181.5,552.9L178.7,550.7L175.4,548.5L171.5,546.3L166.6,544.1L162.7,542.7L158.3,541.5L154.9,540.8L150.6,540.3L146.2,540.3L142.9,540.5L138.5,541.3L135.2,542.2L130.8,543.8L128,545.2L125,547.4L123.1,549.6L121.9,551.8L121.1,555.1L121.2,558.4L122,561.7L123.3,564.9L125,568.2L127.3,571.5L129.7,574.2L133,577.2L136.3,579.4L139.6,581.2L144,582.9L148.4,584.1ZM37.3,579.2L37.3,580.2L42.7,572.6L47.9,566L52.7,560.7L56.4,557.3L60.4,554.2L64.8,551.5L80.2,543.5L84.9,540.8L86.8,539.5L89,537.5L90.1,536.3L91.4,534.2L92.7,530.9L93.4,526.5L93.7,521.1L93.5,514.5L92.2,493.6L91.6,477.2L91.1,469.5L89.8,458.5L87.2,444.3L87.2,443.2L87.4,442.1L89,438.8L92.6,433.3L96.2,428.9L104.4,419.6L108.2,414.7L110.9,410.3L117.6,397.9L120.2,393.8L122.7,390.5L125.6,387.2L128.8,383.9L140.7,373.6L144.9,369.7L149,365.3L153.5,359.8L37.3,359.8Z"/>
<path fill="#ffd262" fill-rule="evenodd" d="M144.3,575.9L148.4,576.5L151.7,576.4L155,575.9L158.3,574.7L161.6,572.7L163.9,570.4L165.3,568.2L166.4,564.9L166.5,561.7L165.6,558.4L163.9,555.1L162.2,552.9L159.9,550.7L156.7,548.5L153.9,547.2L150.6,546.3L147.3,545.8L142.9,546L139.6,546.6L136.3,547.9L133.4,549.6L130.9,551.8L129.3,554L128.6,555.5L128.1,557.3L127.9,559.5L128.1,560.6L128.7,562.7L130.4,566L132,568.2L134.1,570.4L137.4,573L140.7,574.7ZM37.3,568.2L37.3,568.7L48.3,557.3L52.7,553.2L58.2,548.9L72.1,539.7L76.6,536.4L79.2,534.2L81.3,532.1L83.5,528.7L84.6,526.3L85.7,522.8L86.6,518.9L87.2,514.5L87.9,503.5L88,488.2L87.5,477.2L86.4,468.4L84.9,460.7L81.5,447.6L80.9,444.3L80.9,441L81.7,437.7L82.6,435.5L84.4,432.2L86.6,428.9L88.3,426.7L92.5,422.3L101.1,414.5L103.9,411.4L105.8,408.1L109.4,399.3L111.5,394.9L114.1,390.5L117.3,386.1L120.2,382.8L123.6,379.6L135.2,370L137.9,367.5L140.8,364.2L143.7,359.8L37.3,359.8Z"/>
<path fill="#ffbc62" fill-rule="evenodd" d="M145.3,569.3L147.3,569.3L149.5,568.8L150.9,568.2L152.5,567.1L153.9,565.6L154.8,563.8L155.1,562.7L155.3,560.6L154.9,558.4L154,556.2L153.3,555.1L151.7,553.5L150.6,552.8L148.4,551.8L146.2,551.3L144,551.3L140.7,552.1L139.1,552.9L137.4,554.2L136.3,555.4L135.3,557.3L134.8,559.5L134.9,560.6L135.1,561.7L136.2,563.8L137,564.9L138.5,566.5L139.6,567.3L141.8,568.5L144,569.2ZM37.3,559.5L37.3,559.9L39.5,558.4L44.4,552.9L49.3,548.5L65.6,536.4L69.2,533.4L71.8,530.9L74.7,527.6L77,524.4L78.7,521.1L80.3,516.7L82,510.1L83.2,502.4L83.9,493.6L84.1,486L83.6,478.3L82.4,470.5L80.6,462.9L76.4,448.7L75.4,443.2L75.4,438.8L76,434.4L77.4,430L78.8,426.7L80.2,424.2L82.4,421L84.6,418.4L86.8,416.2L89,414.3L92.3,411.9L99.2,408.1L99.6,407L100.2,402.6L101,399.3L102.7,393.8L104.1,390.5L105.9,387.2L108,383.9L109.9,381.5L113.7,377.4L117.5,374.1L134.1,362L134.8,359.8L37.3,359.8Z"/>
<path fill="#ffa562" fill-rule="evenodd" d="M142.4,561.7L142.9,562.1L144,562.6L145.1,562.7L146.2,562.4L147.1,561.7L147.7,560.6L147.8,559.5L147.5,558.4L146.4,557.3L145.1,556.7L144,556.8L142.9,557.2L141.9,558.4L141.5,559.5L141.7,560.6ZM37.3,549.6L37.3,550.4L43.4,545.2L57.3,535.3L63.7,529.8L67,526.5L70.3,522.4L72.5,518.9L74.7,514.5L76,511.2L77.4,506.8L79.1,499.1L80,491.4L80.2,483.8L79.5,477.2L78.1,470.6L76.2,464L71.6,450.9L70.4,446.5L69.7,443.2L69,437.7L69,433.3L69.5,428.9L70.5,424.5L72.7,417.9L75.8,411.7L79.1,406.4L85.7,397.1L93,383.9L96.7,378.2L100.9,373L105.3,368.6L109.9,364.8L116.9,359.8L37.3,359.8Z"/>
<path fill="#ff8f62" fill-rule="evenodd" d="M37.3,540.8L37.3,541.4L39.5,539.7L45,536.8L50.5,533.3L56.2,528.7L61.8,523.3L65.9,518.1L69.4,512.3L72.4,505.7L74.5,499.1L75.7,493.6L76.4,488.2L76.4,482.7L75.8,478.3L74.8,473.9L73.4,469.5L66.3,452L64.3,446.5L63.1,442.1L61.8,436.6L61.1,432.2L61,427.8L61.3,422.3L63.8,402.6L64.5,392.7L71.3,383.9L75.1,378.5L79.7,370.8L84.2,362L86.1,359.8L37.3,359.8Z"/>
<path fill="#ff7b62" fill-rule="evenodd" d="M37.3,534.2L37.3,534.6L42.8,531.7L45.8,529.8L48.7,527.6L54.7,522.2L57.8,518.9L60.4,515.7L64.8,509.2L68.1,502.9L70.8,495.8L71.8,492.5L72.4,489.3L72.7,486L72.7,482.7L72.2,479.4L71,475L68.1,468.2L61.6,455.2L58.5,448.7L55.9,442.1L54.1,436.6L53.1,432.2L52.3,427.8L51.6,422.3L51.2,416.8L51,409.2L51.2,401.5L51.7,396L52.7,390.4L54,386.1L55.7,381.7L62.4,367.5L65.7,359.8L37.3,359.8Z"/>
<path fill="#ff6666" fill-rule="evenodd" d="M37.3,527.6L37.3,528.3L39.5,527.4L41.7,526.1L43.9,524.4L47.4,521.1L51.7,516.7L54.9,513L58.1,509L62.6,502.1L65.9,495.8L68.1,490.3L68.9,487.1L69.1,484.9L69,482.7L68.6,480.5L67.9,478.3L66.4,475L63.7,470L52.8,452L49.8,446.5L46.7,439.9L44.6,434.4L42.4,427.8L41,422.3L39.7,415.8L38.7,408.1L38.4,401.5L38.6,394.9L39.2,389.4L40,385L41.2,380.6L42.6,376.3L46.7,365.3L48.2,359.8L37.3,359.8Z"/>
<path fill="#ff5048" fill-rule="evenodd" d="M37.3,510.1L40.6,507.7L43.9,504.8L47.2,501.4L49.4,498.7L52.3,494.7L55,490.3L56.6,487.1L57.1,484.9L57.1,483.8L56.4,481.6L55.1,479.4L52.7,476.1L46.1,468L37.3,458.3Z"/>
<path fill="none" stroke="#b8b49c" stroke-opacity="0.75" stroke-width="0.6" d="M199,452.7L196.2,457.4L193.1,461.8L180.3,477.7L169.7,491.4L166.8,494.7L163.8,497.5L161.6,499.3L158.3,501.3L153.9,503.1L149.5,503.9L145.1,503.8L140.7,502.8L138.5,502L136.3,500.8L132.5,498L129.3,494.7L127.7,492.5L126.4,490.3L125.5,488.2L124.8,486L124.4,483.8L124.2,480.5L124.4,477.2L125,473.9L127,466.2L128.6,461.4L136.3,441L140.7,430.5L143.6,424.5L146.1,420.1L148.4,416.9L150.6,414.4L152.8,412.5L155,411.2L157.2,410.3L160.5,409.4L163.8,408.8L168.2,408.5L172.6,408.6L175.9,409L180.3,409.9L183.6,410.8L186.9,412.1L189.7,413.6L192.4,415.3L194.6,417L196.8,419L199,421.8M199,471.8L192.4,477.3L188,481.4L183.9,486L175.8,495.8L172.6,499.1L170.2,501.3L166,504.4L161.7,506.8L157.2,508.5L152.8,509.6L149.5,510.1L146.2,510.2L140.7,509.8L137.4,509.1L135.2,508.3L130.8,506.2L128.6,504.7L126.4,502.9L124.2,500.8L121.8,498L119.4,494.7L117.5,491.4L116.5,489.3L115.9,487.1L115.7,484.9L115.8,482.7L117.1,475L119.3,466.2L121.9,458.5L125.8,449.8L127.5,444.3L129.5,438.8L134.3,427.8L137.4,421.6L140.6,415.8L147.3,404.8L153.9,402.3L160.5,400.3L167.1,398.8L173.7,397.8L180.3,397.3L186.9,397.3L193.5,397.9L199,399M114.3,634.1L107.7,633.8L102.2,633.2L97.8,632.5L93.4,631.3L90.1,630L86.8,628.2L83.5,625.7L81.3,623.4L79.1,620.1L77.6,616.5L76.8,613.2L76.5,608.8L77,604.4L78.4,600L80.2,596.9L82.4,594.6L84.2,593.5L85.7,592.9L89,592.3L92.3,592.6L94.5,593.1L96.7,593.8L98.9,594.8L102.2,596.8L112.1,603.8L117.6,607.1L123.1,609.4L130.8,611.6L133,612.4L135.2,613.6L137.3,615.4L138.1,616.5L139.1,618.7L139.5,620.9L139.5,623.1L138.9,625.3L138.3,626.4L137.4,627.8L135.6,629.7L134.1,630.7L131.9,631.9L127.5,633.2L122,634L114.3,634.1M199,483.5L194.6,486.1L191.3,488.8L189,491.4L183.6,498.6L180.3,502.4L176.8,505.7L172.3,509L167.1,511.8L163.8,513.1L160.5,514.2L153.9,515.7L146.2,516.6L139.6,516.6L134.1,515.8L129.7,514.3L127.5,513.2L124.6,511.2L122,509L119.8,506.8L115.4,501.3L113.2,497.9L109.9,492.1L108.8,489.8L108.3,488.2L108.8,484.2L112.7,465.1L114.9,457.4L117.6,449.9L123.1,436.6L129.4,423.4L133,416.7L136.7,410.3L139.5,405.9L141.8,402.9L145.1,399.8L149.5,397L156.1,393.9L163.8,390.9L173.7,387.6L182.5,385.2L191.3,383.3L199,382.2M55.4,656L53.7,652.7L51.8,648.3L49.3,640.6L48.2,636.2L47.5,631.9L47,627.5L46.7,623.1L46.9,614.3L47.4,609.9L48.2,604.4L50.4,594.6L53.6,583.6L55.9,577L58.3,571.5L60.4,568.2L62.4,566L63.7,565L67,563.4L69.2,562.7L72.5,561.9L79.1,561.1L86.8,560.7L92.3,561L97.8,562.1L102.2,563.8L106.6,566.3L109.9,568.7L112.1,570.8L113.5,572.6L116.7,578.1L119,581.4L123,585.8L126.8,589.1L129.9,591.3L134.1,593.9L150.1,602.2L159.7,607.7L167.9,613.2L175,618.7L178.5,622L181.6,625.3L184.3,628.6L187.3,633L189.8,637.3L191.4,640.6L197.7,656M199,519.6L189.1,522.8L183.4,524.4L177,525.8L171.5,526.7L163.8,527.5L145.1,529L131.9,531L128.6,531L124.2,530.1L119.8,528.4L116.5,526.3L113.2,523.2L111.5,521.1L109.9,518.6L106.6,512.2L103.7,504.6L101.5,496.9L100.2,490.3L99.9,486L100,481.6L101.1,461.8L102,453.1L102.6,449.8L103.5,446.5L105.2,442.1L107.9,436.6L117.6,420.7L126.3,405.9L129.7,400.8L133,396.6L136.7,392.7L140.7,389.2L147.3,384.2L181.8,359.8M37.3,601.1L39.7,594.6L42.5,588L45.7,581.4L48.6,575.9L51.2,571.5L54.2,567.1L57.1,563.8L59.3,561.8L62.6,559.4L65.9,557.5L69.2,556L73.6,554.4L81.3,552L92.3,549.1L97.8,547.8L101.1,547.4L103.3,547.5L104.4,547.8L105.5,548.4L106.6,549.4L107.7,550.7L114.7,562.7L119.5,570.4L122.4,574.8L125.3,578.4L127.5,580.6L130.8,583.4L134.1,585.6L137.4,587.5L144,590.6L151.7,593.3L160.5,595.8L170.4,597.9L178.1,599.1L185.8,599.8L192.4,599.7L199,598.9M199,539.9L192.4,538.3L182.5,536.8L164.9,535L153.9,534.4L147.3,534.6L141.8,535.2L127.5,537.7L116.5,539.4L112.1,539.6L109.9,539L108.8,538.3L107.2,536.4L105.5,532.9L104.4,529.8L101.1,518.2L97.9,503.5L96.7,495.8L96,488.2L95.7,468.4L95.3,453.1L95.4,448.7L95.8,445.4L96.4,443.2L97.8,439.9L99.6,436.6L101.7,433.3L109.9,422L113.2,417.1L123.1,400.4L126.2,396L128.6,393L131.9,389.4L135.2,386.3L152.5,371.9L158.6,366.4L165.4,359.8M152.1,584.7L156.1,585L160.5,585L164,584.7L168.2,583.9L172.6,582.6L175.6,581.4L178.1,580.1L181,578.1L183.4,575.9L185.3,573.7L186.7,571.5L188,568.2L188.5,564.9L188.3,562.7L187.6,560.6L186.4,558.4L183.8,555.1L181.5,552.9L178.7,550.7L175.4,548.5L171.5,546.3L166.6,544.1L162.7,542.7L158.3,541.5L154.9,540.8L150.6,540.3L146.2,540.3L142.9,540.5L138.5,541.3L135.2,542.2L130.8,543.8L128,545.2L125,547.4L123.1,549.6L121.9,551.8L121.1,555.1L121.2,558.4L122,561.7L123.3,564.9L125,568.2L127.3,571.5L129.7,574.2L133,577.2L136.3,579.4L139.6,581.2L144,582.9L148.4,584.1L152.1,584.7M37.3,580.2L42.7,572.6L47.9,566L51.7,561.7L56,557.6L60.4,554.2L64.8,551.5L80.2,543.5L84.9,540.8L86.8,539.5L89,537.5L90.1,536.3L91.4,534.2L92.7,530.9L93.4,526.5L93.7,521.1L93.5,514.5L92.2,493.6L91.6,477.2L91.1,469.5L89.8,458.5L87.2,444.3L87.2,443.2L87.4,442.1L89,438.8L92.6,433.3L96.2,428.9L104.4,419.6L108.2,414.7L110.9,410.3L117.6,397.9L120.2,393.8L122.7,390.5L125.6,387.2L128.8,383.9L140.7,373.6L144.9,369.7L149,365.3L153.5,359.8M144.3,575.9L148.4,576.5L151.7,576.4L155,575.9L158.3,574.7L161.6,572.7L163.9,570.4L165.3,568.2L166.4,564.9L166.5,561.7L165.6,558.4L163.9,555.1L162.2,552.9L159.9,550.7L156.7,548.5L153.9,547.2L150.6,546.3L147.3,545.8L142.9,546L139.6,546.6L136.3,547.9L133.4,549.6L130.9,551.8L129.3,554L128.6,555.5L128.1,557.3L127.9,559.5L128.1,560.6L128.7,562.7L130.4,566L132,568.2L134.1,570.4L137.4,573L140.7,574.7L144.3,575.9M37.3,568.7L48.3,557.3L52.7,553.2L58.2,548.9L72.1,539.7L76.6,536.4L79.2,534.2L81.3,532.1L83.5,528.7L84.6,526.3L85.7,522.8L86.6,518.9L87.2,514.5L87.9,503.5L88,488.2L87.5,477.2L86.4,468.4L84.9,460.7L81.5,447.6L80.9,444.3L80.9,441L81.7,437.7L82.6,435.5L84.4,432.2L86.6,428.9L88.3,426.7L92.5,422.3L101.1,414.5L103.9,411.4L105.8,408.1L109.4,399.3L111.5,394.9L114.1,390.5L117.3,386.1L120.2,382.8L123.6,379.6L135.2,370L137.9,367.5L140.8,364.2L143.7,359.8M142.4,561.7L142.9,562.1L144,562.6L145.1,562.7L146.2,562.4L147.1,561.7L147.7,560.6L147.8,559.5L147.5,558.4L146.4,557.3L145.1,556.7L144,556.8L142.9,557.2L141.9,558.4L141.5,559.5L141.7,560.6L142.4,561.7M37.3,550.4L43.4,545.2L57.3,535.3L63.7,529.8L67,526.5L70.3,522.4L72.5,518.9L74.7,514.5L76,511.2L77.4,506.8L79.1,499.1L80,491.4L80.2,483.8L79.5,477.2L78.1,470.6L76.2,464L71.6,450.9L70.4,446.5L69.7,443.2L69,437.7L69,433.3L69.5,428.9L70.5,424.5L72.7,417.9L75.8,411.7L79.1,406.4L85.7,397.1L93,383.9L96.7,378.2L100.9,373L105.3,368.6L109.9,364.8L116.9,359.8M37.3,534.6L43.9,531.1L48.7,527.6L54.7,522.2L57.8,518.9L60.4,515.7L64.8,509.2L68.1,502.9L70.8,495.8L71.8,492.5L72.4,489.3L72.7,486L72.7,482.7L72.2,479.4L71,475L68.1,468.2L61.6,455.2L58.5,448.7L55.9,442.1L54.1,436.6L53.1,432.2L52.3,427.8L51.6,422.3L51.2,416.8L51,409.2L51.2,401.5L51.7,396L52.7,390.4L54,386.1L55.7,381.7L62.4,367.5L65.7,359.8M37.3,528.3L41,526.5L42.6,525.5L45.1,523.3L52.7,515.6L58.2,508.8L62.6,502.1L65.9,495.8L68.1,490.3L68.9,487.1L69.1,484.9L69,482.7L68.6,480.5L67.9,478.3L66.4,475L63.7,470L52.8,452L49.8,446.5L46.7,439.9L44.6,434.4L42.4,427.8L41,422.3L39.7,415.8L38.7,408.1L38.4,401.5L38.6,394.9L39.2,389.4L40,385L41.2,380.6L42.6,376.3L46.7,365.3L48.2,359.8M37.3,510.1L40.6,507.7L43.9,504.8L47.2,501.4L49.4,498.7L52.3,494.7L55,490.3L56.6,487.1L57.1,484.9L57.1,483.8L56.4,481.6L55.1,479.4L52.7,476.1L46.1,468L37.3,458.3"/>
<path fill="none" stroke="#222" stroke-width="0.7" d="M104.4,654.9L100,654.3L94.5,652.6L81.3,646.3L77.1,643.9L73.6,641.3L70.3,638L67.3,634.1L64.8,629.5L63.2,625.3L61.7,619.8L61,614.3L60.8,607.7L61,603.3L61.6,597.9L65.1,577L65.9,570.4L67,570.1L70.7,570.4L80.9,571.5L87.9,572.6L95.6,574.4L98.9,575.5L102.2,576.9L104.1,578.1L105.5,579.2L114.1,589.1L116.5,591.4L119.8,594.2L123.1,596.6L126.4,598.7L137,604.4L140.6,606.6L145,609.9L148.5,613.2M157.5,627.5L159.3,633L160.5,638.4L156.3,641.7L152.6,643.9L149.5,645.4L141.8,648.5L133,652.7L128.6,654.2L125.3,654.8L122,655L117.6,654.6L114.3,653.8L109.9,654.7L106.6,655L104.4,654.9M199,493.6L196.8,493.6L196.2,495.8L195.3,498L194.2,500.2L192.1,503.5L188.4,507.9L184.6,511.2L179.6,514.5L174.8,516.8L169.2,518.9L162.7,520.6L155,521.9L145.1,523L135.2,523.7L133,523.8L130.8,523.5L128.6,522.9L126.4,522L122,519.3L119.8,517.6L117.7,515.6L114.3,511.5L111,506.3L107.7,499.8L105.5,494.3L104.3,489.3L104.1,486L104.3,481.6L105.6,471.7L107.1,461.8L108.2,456.3L109.7,450.9L111.2,446.5L113.5,441L117.3,433.3L124.5,420.1L129.4,411.4L133,405.7M143.9,393.8L147.3,391.4L151.7,388.7L164.9,381.6L185.8,371.3L194.6,367.3L199,365.5M145.3,569.3L147.3,569.3L149.5,568.8L150.9,568.2L152.5,567.1L153.9,565.6L154.8,563.8L155.1,562.7L155.3,560.6L154.9,558.4L154,556.2L153.3,555.1L151.7,553.5L150.6,552.8L148.4,551.8L146.2,551.3L144,551.3L140.7,552.1L139.1,552.9L137.4,554.2L136.3,555.4L135.3,557.3L134.8,559.5L134.9,560.6L135.1,561.7L136.2,563.8L137,564.9L138.5,566.5L139.6,567.3L141.8,568.5L144,569.2L145.3,569.3M37.3,559.9L39.5,558.4L43.3,554L48.3,549.3L52.7,545.8L65.6,536.4L70.7,532L73.6,529L75.6,526.5L77.6,523.3L79.1,520L80.3,516.7L81.3,513.3L82.9,504.6L83.6,499.1L83.9,493.6L84,483.8L83.3,476.1L82,468.4L80.3,461.8L76.7,449.8L75.7,445.4L75.4,442.1L75.3,439.9L75.8,435.5L77,431.1L78.8,426.7L80.7,423.4L83.5,419.6L86.8,416.2L90.1,413.5L94.5,410.6L99.2,408.1M103.6,391.6L105.3,388.3L107.3,385L109.7,381.7L112.6,378.5L115.4,375.8L118.9,373L134.1,362L134.8,359.8M37.3,541.4L39.5,539.7L43.9,537.5L48.3,534.8L54.9,529.8L58.6,526.5L61.8,523.3L64.5,520L67,516.4L69.4,512.3L71.4,508.2L73.2,503.5L74.5,499.1L75.5,494.7L76.2,490.3L76.5,486L76.3,481.6M71.7,465.1L66.7,453.1L64.3,446.5L62.3,438.8L61.1,432.2L61,427.8L61.3,422.3L63.8,402.6L64.5,392.7L71.3,383.9L75.1,378.5L79.7,370.8L84.2,362L86.1,359.8"/>
<text x="137.9" y="401.7" font-size="7.2" text-anchor="middle" transform="rotate(-47.3 137.9 399.3)" fill="#222">1000</text>
<text x="153.6" y="622.2" font-size="7.2" text-anchor="middle" transform="rotate(57.5 153.6 619.8)" fill="#222">1000</text>
<text x="101" y="401.7" font-size="7.2" text-anchor="middle" transform="rotate(-69.4 101 399.3)" fill="#222">2000</text>
<text x="74.7" y="475.9" font-size="7.2" text-anchor="middle" transform="rotate(76.1 74.7 473.5)" fill="#222">2400</text>
</g>
<circle cx="122" cy="362.2" r="1.9" fill="none" stroke="#222" stroke-width="1.05"/>
<circle cx="147.3" cy="404.8" r="1.9" fill="none" stroke="#222" stroke-width="1.05"/>
<circle cx="99.6" cy="408.1" r="1.9" fill="none" stroke="#222" stroke-width="1.05"/>
<circle cx="84.6" cy="442.6" r="1.9" fill="none" stroke="#222" stroke-width="1.05"/>
<circle cx="125.8" cy="449.8" r="1.9" fill="none" stroke="#222" stroke-width="1.05"/>
<circle cx="171.5" cy="448.7" r="1.9" fill="none" stroke="#222" stroke-width="1.05"/>
<circle cx="63.7" cy="483.8" r="1.9" fill="none" stroke="#222" stroke-width="1.05"/>
<circle cx="109.3" cy="488.2" r="1.9" fill="none" stroke="#222" stroke-width="1.05"/>
<circle cx="149.5" cy="493.1" r="1.9" fill="none" stroke="#222" stroke-width="1.05"/>
<circle cx="197" cy="493.6" r="1.9" fill="none" stroke="#222" stroke-width="1.05"/>
<circle cx="39.6" cy="524.4" r="1.9" fill="none" stroke="#222" stroke-width="1.05"/>
<circle cx="86.8" cy="533.1" r="1.9" fill="none" stroke="#222" stroke-width="1.05"/>
<circle cx="130.8" cy="528.2" r="1.9" fill="none" stroke="#222" stroke-width="1.05"/>
<circle cx="144.6" cy="559.5" r="1.9" fill="none" stroke="#222" stroke-width="1.05"/>
<circle cx="65.9" cy="569.9" r="1.9" fill="none" stroke="#222" stroke-width="1.05"/>
<circle cx="109.9" cy="573.2" r="1.9" fill="none" stroke="#222" stroke-width="1.05"/>
<circle cx="90.7" cy="613.2" r="1.9" fill="none" stroke="#222" stroke-width="1.05"/>
<circle cx="133.6" cy="618.1" r="1.9" fill="none" stroke="#222" stroke-width="1.05"/>
<circle cx="114.3" cy="654.2" r="1.9" fill="none" stroke="#222" stroke-width="1.05"/>
<text x="39.6" y="665.7" font-size="8.8" text-anchor="middle">0</text>
<text x="61.5" y="665.7" font-size="8.8" text-anchor="middle">2</text>
<text x="83.3" y="665.7" font-size="8.8" text-anchor="middle">4</text>
<text x="105.2" y="665.7" font-size="8.8" text-anchor="middle">6</text>
<text x="127" y="665.7" font-size="8.8" text-anchor="middle">8</text>
<text x="148.9" y="665.7" font-size="8.8" text-anchor="middle">10</text>
<text x="170.8" y="665.7" font-size="8.8" text-anchor="middle">12</text>
<text x="192.6" y="665.7" font-size="8.8" text-anchor="middle">14</text>
<text x="35.1" y="657.1" font-size="8.8" text-anchor="end">0</text>
<text x="35.1" y="635.2" font-size="8.8" text-anchor="end">2</text>
<text x="35.1" y="613.4" font-size="8.8" text-anchor="end">4</text>
<text x="35.1" y="591.5" font-size="8.8" text-anchor="end">6</text>
<text x="35.1" y="569.6" font-size="8.8" text-anchor="end">8</text>
<text x="35.1" y="547.7" font-size="8.8" text-anchor="end">10</text>
<text x="35.1" y="525.9" font-size="8.8" text-anchor="end">12</text>
<text x="35.1" y="504" font-size="8.8" text-anchor="end">14</text>
<text x="35.1" y="482.1" font-size="8.8" text-anchor="end">16</text>
<text x="35.1" y="460.2" font-size="8.8" text-anchor="end">18</text>
<text x="35.1" y="438.4" font-size="8.8" text-anchor="end">20</text>
<text x="35.1" y="416.5" font-size="8.8" text-anchor="end">22</text>
<text x="35.1" y="394.6" font-size="8.8" text-anchor="end">24</text>
<text x="35.1" y="372.8" font-size="8.8" text-anchor="end">26</text>
<path d="M39.6,362.2H197V654.2" fill="none" stroke="#555" stroke-width="0.5"/>
<path d="M39.6,362.2V654.2H197M39.6,654.2v3M61.5,654.2v3M83.3,654.2v3M105.2,654.2v3M127,654.2v3M148.9,654.2v3M170.8,654.2v3M192.6,654.2v3M39.6,654.2h-3M39.6,632.3h-3M39.6,610.5h-3M39.6,588.6h-3M39.6,566.7h-3M39.6,544.8h-3M39.6,523h-3M39.6,501.1h-3M39.6,479.2h-3M39.6,457.3h-3M39.6,435.5h-3M39.6,413.6h-3M39.6,391.7h-3M39.6,369.9h-3M197,362.2v-2M197,362.2h2" fill="none" stroke="#333" stroke-width="0.6"/>
<text x="125.1" y="682" font-size="13.2" text-anchor="middle">Southing (m)</text>
<text x="15" y="504.7" font-size="13.2" text-anchor="middle" transform="rotate(-90 15 504.7)">Easting (m)</text>
<text x="225.5" y="378.8" font-size="10.8" font-weight="bold" text-anchor="middle">(e)</text>
<rect x="220" y="642" width="14" height="11.6" fill="#b0fcca"/>
<rect x="220" y="630.5" width="14" height="11.6" fill="#00cd82"/>
<rect x="220" y="619.1" width="14" height="11.6" fill="#00e46a"/>
<rect x="220" y="607.7" width="14" height="11.6" fill="#08f44e"/>
<rect x="220" y="596.2" width="14" height="11.6" fill="#60f84c"/>
<rect x="220" y="584.8" width="14" height="11.6" fill="#c4fd50"/>
<rect x="220" y="573.3" width="14" height="11.6" fill="#f2ff54"/>
<rect x="220" y="561.9" width="14" height="11.6" fill="#fff850"/>
<rect x="220" y="550.5" width="14" height="11.6" fill="#ffe75c"/>
<rect x="220" y="539" width="14" height="11.6" fill="#ffd262"/>
<rect x="220" y="527.6" width="14" height="11.6" fill="#ffbc62"/>
<rect x="220" y="516.2" width="14" height="11.6" fill="#ffa562"/>
<rect x="220" y="504.7" width="14" height="11.6" fill="#ff8f62"/>
<rect x="220" y="493.3" width="14" height="11.6" fill="#ff7b62"/>
<rect x="220" y="481.8" width="14" height="11.6" fill="#ff6666"/>
<rect x="220" y="470.4" width="14" height="11.6" fill="#ff5048"/>
<rect x="220" y="459" width="14" height="11.6" fill="#ff3a32"/>
<rect x="220" y="447.5" width="14" height="11.6" fill="#ff2219"/>
<rect x="220" y="436.1" width="14" height="11.6" fill="#ff0a02"/>
<path d="M220,642H234M220,630.5H234M220,619.1H234M220,607.7H234M220,596.2H234M220,584.8H234M220,573.3H234M220,561.9H234M220,550.5H234M220,539H234M220,527.6H234M220,516.2H234M220,504.7H234M220,493.3H234M220,481.8H234M220,470.4H234M220,459H234M220,447.5H234" fill="none" stroke="#3a1a08" stroke-opacity="0.8" stroke-width="0.7"/>
<rect x="220" y="436.1" width="14" height="217.3" fill="none" stroke="#806050" stroke-opacity="0.5" stroke-width="0.4"/>
<text x="236.2" y="655.7" font-size="7.2">-100</text>
<text x="236.2" y="632.8" font-size="7.2">400</text>
<text x="236.2" y="610" font-size="7.2">800</text>
<text x="236.2" y="587.1" font-size="7.2">1200</text>
<text x="236.2" y="564.2" font-size="7.2">1600</text>
<text x="236.2" y="541.3" font-size="7.2">2000</text>
<text x="236.2" y="518.5" font-size="7.2">2400</text>
<text x="236.2" y="495.6" font-size="7.2">2800</text>
<text x="236.2" y="472.7" font-size="7.2">3600</text>
<text x="236.2" y="449.8" font-size="7.2">4400</text>
<text x="217.7" y="427.7" font-size="11">µg/L</text>
<clipPath id="cp3"><rect x="335.2" y="358.3" width="157.3" height="292"/></clipPath>
<g clip-path="url(#cp3)">
<rect x="335.2" y="358.3" width="157.3" height="292" fill="#fff"/>
<path fill="#b0fcca" fill-rule="evenodd" d="M333,651.7L495.7,651.7L495.7,355.5L333,355.5ZM427.1,469.6L426.3,468.5L426,467.4L426.1,466.3L427.1,464.7L428.2,463.8L429.3,463.4L430.4,463.4L431.5,463.7L432.6,464.4L433.2,465.2L433.6,466.3L433.6,467.4L433.2,468.5L432.3,469.6L431.5,470.1L430.4,470.4L429.3,470.5L428.2,470.2Z"/>
<path fill="#00cd82" fill-rule="evenodd" d="M333,651.7L495.7,651.7L495.7,355.5L333,355.5ZM435.9,488.3L410.8,485L406,484.1L405.7,483.9L405.4,482.8L406,474.1L406.7,468.5L407.6,464.1L408.3,461.5L409.4,458.5L411.1,455.3L412.6,453.1L415.5,449.8L419.3,446.6L421.5,445L422.7,444.8L435.9,446.5L441.5,446.9L445.9,446.9L450.3,446.6L453.6,446L457,445.1L461.3,443.3L464.7,442.1L466.9,442L468,442.3L469.1,443.1L469.8,444.4L469.8,445.5L469.1,447.1L468,448.5L466.9,449.5L462.3,453.1L459.2,456.2L456.6,459.7L454.1,464.1L451.7,469.6L449.7,475.1L447.8,481.7L446.2,488.2L445.9,488.7L444.8,489Z"/>
<path fill="#00e46a" fill-rule="evenodd" d="M333,651.7L495.7,651.7L495.7,355.5L333,355.5ZM386.1,609.5L385.7,608.9L386.1,608.1L387.4,607.8L388,608.9L387.2,609.8ZM432.6,494.8L421.5,493.5L416,492.5L411.6,491.4L408.3,490.2L406,489.2L403.8,487.7L402.3,486L401.6,485L400.7,482.8L399.9,479.5L399.4,474L399.2,466.3L399.4,461.5L400,457.5L401,454.2L402.8,450.9L405.7,447.7L410.2,444.4L412.7,443L416,441.4L419.3,440.3L421.5,439.8L426,439.5L437,439.7L443.7,439.4L449.2,438.8L459.2,437.3L462.5,437L464.7,437L466.9,437.4L469.1,438.2L470.3,438.8L471.4,439.7L472.5,440.9L473.6,443.3L473.8,444.4L473.9,446.6L473,449.8L471.3,453.1L463.8,463L461.5,466.3L459.6,469.6L456.9,475.1L452.5,486L450.8,489.3L449.2,491.4L448.1,492.3L447,493.1L444.8,494L442.6,494.6L439.3,495Z"/>
<path fill="#08f44e" fill-rule="evenodd" d="M333,651.7L495.7,651.7L495.7,355.5L333,355.5ZM382.8,618.9L380.6,617.6L378.4,615.5L377.1,613.3L376.5,611.1L376.2,608.9L376.7,605.6L377.6,603.4L379,601.2L380.6,599.5L382.8,597.8L385,596.7L388.3,595.7L391.7,595.6L393.9,595.9L396.1,596.7L398.2,597.9L399.5,599L401.1,601.2L402.1,603.4L402.6,605.6L402.6,607.8L402.1,610L401.1,612.2L400.4,613.3L398.4,615.5L397.1,616.6L395,617.9L391.7,619.3L389.4,619.7L387.2,619.8L385,619.6ZM430.4,499.3L424.9,498.7L419.3,497.8L414.9,496.7L410.5,495.2L407.2,493.7L403.8,491.7L401.6,489.8L399.4,487.1L397.7,483.9L396.9,481.7L396,478.4L394.8,471.8L393.9,464.1L393.6,458.6L393.8,454.2L394.3,450.9L395,449.2L395.8,447.7L397.2,446L399.1,444.4L401.6,442.8L404.9,441.1L409.4,439.2L413.5,437.8L417.1,436.8L420.4,436.1L426,435.6L442.6,435.1L457,433.5L461.4,433.3L464.7,433.4L466.9,433.8L469.1,434.4L471.5,435.6L473.1,436.7L474.7,438.3L475.9,440L476.8,442.2L477.3,445.5L477.2,447.7L476.7,449.8L475.5,453.1L473.6,456.4L466.7,466.3L463.3,471.8L460.5,477.3L456,487.1L454.1,490.4L452.5,492.6L450.3,494.8L448.1,496.4L444.8,497.9L441.5,498.8L438.2,499.3L434.8,499.4Z"/>
<path fill="#60f84c" fill-rule="evenodd" d="M333,651.7L495.7,651.7L495.7,355.5L333,355.5ZM385,629.8L380.6,629.2L378.4,628.6L376.1,627.6L373.9,626.3L371.7,624.4L370.6,623.2L369.1,621L367.9,618.8L367.1,616.6L366.6,614.4L366.3,612.2L366.3,610L366.7,606.7L367.9,602.3L370,597.9L371.5,595.7L373.4,593.6L377.3,590.1L381.7,587.4L387.2,585.1L390.5,584.2L393.9,583.5L398.3,583.3L400.5,583.6L402.7,584.3L406,586.3L409.3,589.2L412,592.5L414.9,596.8L417.1,601.2L418.6,605.6L419.1,608.9L418.8,611.1L418.5,612.2L417.3,614.4L414.2,617.7L410,621L404.5,624.3L399.4,626.7L393.9,628.6L389.4,629.5ZM431.5,503.6L426,503.2L420.4,502.4L414.9,501L410.5,499.4L406,497.2L402.7,494.9L399.4,491.9L397.3,489.3L395.3,486L393.8,482.8L392.4,478.4L390.8,471.8L388.4,459.7L387,450.9L386.7,446.6L386.9,444.4L387.3,443.3L388.1,442.2L389.6,441.1L392,440L395,438.9L402,436.7L410,434.5L414.9,433.4L420.4,432.5L426,432L441.5,431.3L455.9,430L461.4,429.7L464.7,429.9L468,430.4L471.4,431.5L473.6,432.6L475.8,434.2L477.2,435.6L478.8,437.8L479.9,440L480.5,442.2L480.8,444.4L480.8,446.6L480.3,449.8L479.2,453.1L477.6,456.4L475.7,459.7L469,469.6L466.3,474L458,490.4L455.8,493.7L452.9,497L450.3,499.1L447,501L443.7,502.3L440.4,503.1L435.9,503.6Z"/>
<path fill="#c4fd50" fill-rule="evenodd" d="M333,651.7L495.7,651.7L495.7,355.5L333,355.5ZM376.2,640.8L372.8,640.1L370.6,639.3L367.3,637.6L365.1,636L362.9,634L361.1,631.9L359.6,629.7L357.9,626.5L356.8,623.2L356,619.9L355.7,616.6L355.7,613.3L356,610L356.6,606.7L357.5,603.4L358.7,600.1L361.6,594.7L365.1,589.8L367.3,587.3L369.5,585.2L373.9,581.9L378.4,579.4L383.9,576.9L404.6,569.4L406,569.2L407.2,570.1L410.5,573.8L418.5,583.7L424.1,591.4L429,599L431.8,604.5L432.8,606.7L433.7,609.6L434,611.1L434.1,613.3L433.8,615.5L433.4,616.6L432.6,618.2L431.5,619.8L430.4,621L428,623.2L426,624.6L422.9,626.5L416,629.7L397.2,637.2L390.5,639.5L386.1,640.5L382.8,641L379.5,641.1ZM421.5,506.9L417.1,506L412.7,504.6L408.3,502.6L404.9,500.7L401.6,498.3L398.3,495.3L395.9,492.6L393.6,489.3L391.3,485L388.9,478.4L379.5,445.6L378.7,442.2L378.5,440L378.6,438.9L379,437.8L379.5,437.1L380.6,436.2L381.7,435.7L383.9,435.1L396.1,433.2L410.5,430.4L417.1,429.3L424.9,428.6L442.6,427.8L458.1,426.4L463.6,426.3L469.1,427L473.6,428.4L475.8,429.5L478,431L479.5,432.3L481.4,434.5L482.8,436.7L484,440L484.5,442.2L484.7,445.5L484.5,447.7L483.7,450.9L482.5,454.2L480.9,457.5L478.9,460.8L472.5,470.4L469.6,475.1L466.6,480.6L461.4,491L458.1,496.3L454.8,500.1L451.4,502.9L448.1,504.9L443.7,506.6L439.3,507.5L433.7,507.9L428.2,507.7Z"/>
<path fill="#f2ff54" fill-rule="evenodd" d="M333,651.7L357.3,651.7L354.6,649.5L351.8,646.6L349.6,643.6L347.4,639.6L345.6,635.2L344.5,630.9L343.8,626.5L343.6,622.1L343.8,617.7L344.5,613.3L345.8,607.8L347.2,603.4L349.1,599L351.4,594.7L354.2,590.3L357.4,585.9L361.3,581.5L364.9,578.2L368.4,575.7L371.9,573.8L379.9,570.5L395.2,565L400.5,563.5L402.7,563.2L404.9,563.1L408.3,563.5L410.5,564.4L413.4,566.1L416,568.3L419.3,571.8L424.9,578.2L430.1,584.8L434.2,590.3L437,594.7L438.9,597.9L440.5,601.2L441.7,604.5L442.6,607.8L443.1,611.1L443.2,614.4L442.9,617.7L441.7,622.1L440.7,624.3L439.3,626.7L437.8,628.7L435.9,630.7L433.7,632.7L431.6,634.1L428.2,636L423.8,637.7L411.6,640.7L407.2,642.2L402.7,644.4L391.2,651.7L495.7,651.7L495.7,355.5L333,355.5ZM421.5,511.4L417.1,510.5L412.7,509.2L408.3,507.2L403.8,504.5L399.4,501L396.1,497.7L392.8,493.7L390.7,490.4L388.4,486L386.2,480.6L375.5,448.8L374.6,444.4L374.4,441.1L375.1,437.8L376.2,435.6L377.3,434.3L379.5,432.6L381.7,431.5L385,430.5L411.6,426.5L420.4,425.5L441.5,424.5L458.1,423L464.7,422.8L469.1,423.2L473.6,424.2L476.9,425.5L480.2,427.4L482.4,429.1L484.6,431.5L486.6,434.5L487.5,436.7L488.4,440L488.8,443.3L488.6,446.6L488,449.8L486.9,453.1L484.8,457.5L482.2,461.9L475.3,471.8L472.5,476.3L469.5,481.7L463.6,493.7L460.3,499.2L457,503.2L453.6,506.3L451.4,507.8L449.2,509.1L444.8,510.9L440.4,511.9L435.9,512.3L429.3,512.1Z"/>
<path fill="#fff850" fill-rule="evenodd" d="M409.7,651.7L421.5,651.7L416,651.2L411.6,650L410.5,649.5ZM421.8,651.7L495.7,651.7L495.7,355.5L333,355.5L333,612L335.5,605.6L338.1,600.1L341.2,594.7L344.8,589.2L349,583.7L353.8,578.2L359.6,572.4L362.9,569.6L365.1,568.4L367.3,567.6L380.6,563.5L393.9,559L399.4,557.5L403.8,556.8L407.2,556.9L410.5,557.4L413.8,558.6L416,559.8L418.2,561.2L420.4,563L423.7,566.1L436,579.3L439.7,583.7L443.1,588.1L447.3,594.7L450,600.1L451.2,603.4L452.1,606.7L452.8,610L453.2,613.3L453.4,617.7L453.2,621L452.7,624.3L451.9,627.6L450.8,630.9L449.2,634.3L447.4,637.4L444.9,640.7L442.6,643.2L440.4,645.1L438.2,646.8L434.8,648.7L431.5,650.1L428.2,651L424.9,651.5ZM431.5,516.8L421.5,516.1L417.1,515.6L412.7,514.3L409.4,512.9L407.2,511.7L403.8,509.5L399.4,505.9L395,501.6L390.5,496L387.1,490.4L384,483.9L373.6,456.4L371.8,450.9L370.7,446.6L370.4,442.2L370.5,440L371,437.8L372.4,434.5L374,432.3L376.4,430.1L379.5,428.3L382.8,427.1L389.4,425.8L413.8,422.7L422.7,422L442.6,421.3L459.2,419.6L465.8,419.3L470.3,419.5L474.7,420.2L478,421.2L481.3,422.7L483.5,424L485.7,425.7L488.9,429L490.9,432.3L491.9,434.5L492.6,436.7L493.3,441.1L493.3,443.3L493,446.6L491.8,450.9L489.5,456.4L486.2,461.9L479,471.8L475.4,477.3L471.8,483.9L466.9,494.4L464.5,499.2L461.4,504.1L458.1,508.1L455.9,510.2L452.5,512.7L449.2,514.5L445.9,515.8L442.6,516.6L439.3,517L435.9,517.1Z"/>
<path fill="#ffe75c" fill-rule="evenodd" d="M459.4,651.7L495.7,651.7L495.7,452.8L493.9,456.4L491.2,460.8L481.3,473.6L478,478.5L476.2,481.7L474,486L468.4,499.2L465.8,504.7L463.6,508.3L461.4,511.3L459.2,513.9L457,516L453.6,518.6L450.3,520.5L447,521.9L442.6,523L439.3,523.2L435.9,523L427.1,521.3L420.4,521.9L417.1,521.9L413.8,521.2L410.5,519.9L407.2,517.9L402.7,514.5L398.3,510.4L393.9,505.7L389.5,500.3L386.5,495.9L384.1,491.5L381.5,486L375.5,470.7L368.6,454.2L367.2,449.8L366.5,446.6L366.2,443.3L366.3,440L367,436.7L367.7,434.5L368.8,432.3L370.4,430.1L371.7,428.7L373.9,426.8L376.2,425.5L378.4,424.4L382.8,423.1L387.2,422.3L416,419L423.8,418.5L437,418.5L442.6,418.2L448.1,417.7L460.3,416L465.8,415.5L470.3,415.4L474.7,415.8L478,416.4L481.3,417.4L484.6,418.8L487.2,420.2L490.1,422.4L492.4,424.6L494.1,426.8L495.7,429.4L495.7,355.5L333,355.5L333,590.9L338.8,583.7L346.1,576L355.6,567.2L358.3,565L360.7,563.5L364,562.3L379.5,557.8L397.2,551.5L402.7,549.9L407.2,549.2L410.5,549.1L413.8,549.7L417.1,550.9L420.4,552.9L423.8,555.8L432.6,565.2L444,576L448.2,580.4L451.9,584.8L455,589.2L457.6,593.6L460.3,599L462.7,605.6L464.2,612.2L465.1,618.8L465.2,625.4L464.8,631.9L463.6,638.9L461.9,645.1Z"/>
<path fill="#ffd262" fill-rule="evenodd" d="M481,651.7L495.7,651.7L495.7,461.1L483.9,475.1L481.5,478.4L479.4,481.7L477.7,485L475.8,489.3L471.1,502.5L468.4,509.1L466.9,512L464.8,515.7L461.4,520.4L459.2,522.8L455.9,525.8L453.6,527.4L450.3,529.4L444.8,531.8L436,534.3L432.6,535.6L431.3,536.5L430.4,537.6L429.9,538.7L429.7,539.8L429.8,543.1L431.3,548.6L433.5,554.1L435.4,557.4L437.3,559.5L439.3,561.4L450.4,569.4L454.8,573.2L458.6,577.1L462.2,581.5L465.8,586.5L468.8,591.4L471.5,596.8L473.8,602.3L475.6,607.8L477.1,613.3L478.3,619.9L479.7,628.7L480.5,636.3L481,644ZM333,578.2L333,578.5L339.4,572.7L344.8,568.3L350.8,563.9L355.9,560.6L359.6,558.7L362.9,557.4L376.9,553L383.1,550.8L388.4,548.6L393,546.4L398.8,543.1L403.3,539.8L405.6,537.6L406.4,536.5L407.4,534.3L407.6,533.2L407.3,531L406.5,528.8L404.6,525.5L400.6,520.1L391.7,509.1L388.3,504.7L385,499.9L382.1,494.8L378.9,488.2L372.3,471.8L366.5,459.7L364.7,455.3L363.1,450.9L362.3,447.7L361.8,443.3L361.8,440L362.2,436.7L363.2,433.4L364.8,430.1L366.2,428L367.3,426.7L369.5,424.6L372.8,422.3L377.3,420.4L382.8,419L387.2,418.5L398.3,417.5L411.6,415.8L417.1,415.3L424.9,415.1L438.2,415.4L444.8,415.1L450.3,414.4L463.6,411.9L469.1,411.3L473.6,411.1L476.9,411.3L480.2,411.7L483.7,412.5L486.9,413.6L490.2,415.2L493,416.9L495.7,419.1L495.7,355.5L333,355.5Z"/>
<path fill="#ffbc62" fill-rule="evenodd" d="M495.5,625.4L495.7,626L495.7,467L490.2,472.5L486.7,476.2L483.5,480.3L481.3,483.9L479.8,487.1L478.1,491.5L473.1,510.2L471.4,515.5L469.5,520.1L467.5,524.4L464.7,529.5L454.2,545.3L453.1,547.5L452.6,549.7L452.9,551.9L454.2,554.1L456,556.3L464.7,565.6L470.7,572.7L476.4,580.4L481.9,589.2L485.9,596.8L489.1,604.5L491.8,613.3L493.5,621ZM333,568.3L333,568.9L335.2,567.2L345.8,560.6L351.5,557.4L356.2,554.9L362.9,552.2L379.5,546.5L383.9,544.6L386.7,543.1L390.5,540.6L393.7,537.6L395.3,535.4L396.7,532.1L397,529.9L396.8,527.7L396.4,525.5L395.1,522.2L392,516.8L382.8,503.1L378.7,495.9L375.7,489.3L371.5,478.4L369.6,474L361.6,458.6L358.9,452L357.6,447.7L357.1,444.4L356.8,441.1L357,437.8L357.5,434.5L358.5,431.2L360,427.9L361.8,425.3L363.2,423.5L365.5,421.3L368.4,419.3L370.6,418L373.2,416.9L376.2,416L381.7,415L397.2,414.1L411.6,412.1L418.2,411.6L424.9,411.6L438.2,412.3L444.8,412.1L451.4,411L466.9,407.2L471.4,406.5L475.8,406.1L481.3,406.2L486.6,407.1L491.3,408.4L495.7,410.4L495.7,355.5L333,355.5Z"/>
<path fill="#ffa562" fill-rule="evenodd" d="M495,582.6L495.7,583.7L495.7,472.1L490.2,476.8L486.7,480.6L485.1,482.8L483.8,485L482.8,487.1L481.6,490.4L480.7,493.7L479.9,498.1L477.6,515.7L474.4,534.3L473.8,540.9L474.1,545.3L474.7,548.6L475.7,551.9L477.6,556.3L479.4,559.5L482.2,563.9ZM333,560.6L333,561.3L347.4,553.7L356.2,549.5L362.9,546.8L376.2,542L381.7,539.6L385,537.6L387.5,535.4L389.1,533.2L389.7,532.1L390.4,529.9L390.6,527.7L390.3,525.5L389.7,523.3L388.9,521.2L386.5,516.8L378.6,503.6L375.7,498.1L372.7,491.5L368.8,480.6L367.1,476.2L365.1,472.4L359.3,463L356.8,458.6L354.7,454.2L353.1,449.8L352.2,446.6L351.5,442.2L351.4,437.8L351.6,434.5L352.3,431.2L353.4,427.9L355,424.6L357.2,421.3L360.7,417.8L362.9,416.1L365.1,414.7L367.3,413.5L370.6,412.2L376.2,410.9L379.5,410.6L382.8,410.5L392.8,410.8L396.1,410.8L400.5,410.2L410.5,408.4L418.2,407.7L424.9,407.9L438.2,409.2L443.7,409.3L447,408.8L449.8,408.2L466.9,402.4L471.4,401.3L475.8,400.5L481.3,400L485.8,400.1L491.3,400.8L495.7,401.9L495.7,355.5L333,355.5Z"/>
<path fill="#ff8f62" fill-rule="evenodd" d="M495.2,555.2L495.7,556L495.7,476.6L492.4,479L490.2,480.9L488,483.4L486.3,486L484.9,489.3L484.1,492.6L483.7,495.9L483.5,500.3L483.8,509.1L484.5,521.2L485.3,528.8L486.2,534.3L487.6,539.8L489.7,545.3L492.4,550.6ZM333,554.1L333,554.5L356.2,543.7L379.5,534.4L381.7,533.2L383.9,531.4L384.9,529.9L385.2,528.8L385.2,526.6L383.9,523L379.3,513.5L372.9,501.4L370.3,495.9L367.9,489.3L365.3,480.6L364,477.3L361.8,473.6L355.5,465.2L352,459.7L349.1,454.2L346.7,447.7L345.6,443.3L345.1,438.9L345,434.5L345.4,431.2L346.4,426.8L347.6,423.5L349.4,420.2L351.7,416.9L353.6,414.7L356.1,412.5L358.4,410.8L360.7,409.5L363.3,408.2L366.2,407.1L371.7,405.8L376.2,405.3L380.6,405.4L385,405.9L392.8,407.2L396.1,407.3L398.3,406.9L406,404.9L410.5,404L414.9,403.4L419.3,403.3L422.7,403.5L427.1,404L439.3,406.2L443.7,406.3L447,405.8L449.7,404.9L464.7,397.7L470.3,395.5L474.7,394.2L480.2,393L485.8,392.4L491.3,392.3L495.7,392.7L495.7,355.5L333,355.5Z"/>
<path fill="#ff7b62" fill-rule="evenodd" d="M333,547.5L333,548L339.6,545.3L365.2,533.2L369.5,531L372.8,528.9L374.2,527.7L375.1,526.6L375.6,525.5L375.9,524.4L375.8,521.2L374.5,515.7L372.8,511.3L368.4,502.5L365.6,495.9L363.5,489.3L361.4,479.5L360.7,478.1L359.6,476.7L351.9,468.5L349.3,465.2L347,461.9L344.3,457.5L342.2,453.1L340.3,448.8L338.9,444.4L337.8,440L337.3,435.6L337.3,431.2L337.8,426.8L338.9,422.4L340.7,418L342.6,414.7L345.2,411.2L348.1,408.2L350.7,406L352.9,404.4L356.2,402.6L359.6,401.1L362.9,400L366.2,399.2L370.6,398.7L376.2,398.6L379.5,398.9L382.8,399.5L388.3,400.9L395,403.4L396.1,403.5L401.6,400.9L407.2,399.3L411.6,398.5L417.1,398.1L422.7,398.5L427.1,399.2L431.5,400.3L438.8,402.7L441.5,403.3L443.7,403.4L445.9,402.9L448.6,401.6L457,395.7L462.5,392.1L468,389.1L472.5,387.1L478,385.1L483.5,383.6L490.2,382.6L495.7,382.2L495.7,355.5L333,355.5ZM495.6,525.5L495.7,525.9L495.7,480.8L492.4,482.9L490.2,485L489.4,486L488.7,487.1L487.8,489.3L487.4,491.5L487.2,493.7L487.6,499.2L489.2,506.9L492.4,517.4Z"/>
<path fill="#ff6666" fill-rule="evenodd" d="M333,540.9L333,541.5L335.2,540.9L344.1,536.5L354.2,531L361,526.6L364,524.1L366.3,521.2L367.7,517.9L368.4,514.6L364.8,508L361.6,500.3L359.1,492.6L357,483.9L356.2,481.5L354.8,479.5L346.1,470.7L341.5,465.2L337.8,459.7L333,451ZM495.1,503.6L495.7,504.6L495.7,484.8L493.5,485.8L491.9,487.1L491.1,488.2L490.5,490.4L490.6,492.6L491.3,495.6L492.4,498.4ZM333,409.3L336.2,404.9L339.2,401.6L342.9,398.4L347.4,395.4L351.8,393.2L356.2,391.6L360.7,390.5L366.2,389.7L371.7,389.6L377.3,390L382.8,390.9L391.7,393L395,393.4L398.3,393.3L407.2,391.9L412.7,391.4L418.2,391.5L422.7,391.9L428.2,393.1L433.7,395L439.3,397.6L443.7,400.5L449.2,394.1L454.8,388.8L460.3,384.3L466.9,379.8L473.6,376.2L481.3,372.9L489.1,370.6L495.7,369.3L495.7,355.5L333,355.5Z"/>
<path fill="#ff5048" fill-rule="evenodd" d="M333,524.4L333,525.5L335.2,524.7L337.4,523.6L340.6,521.2L342.7,519L344.2,516.8L345.7,513.5L346.3,511.3L346.6,508L346.3,504.7L345.6,501.4L344.6,498.1L342.9,494.4L341.3,491.5L338.8,488.2L336.3,485.4L333,482.3ZM333,364.3L333,364.9L340.7,362.3L345.2,361.1L349.6,360.3L356.2,359.5L364,359.1L370.6,359.3L377.3,359.8L399.4,362.8L408.3,363.7L417.1,364.2L424.9,364L430.4,363.2L435.9,361.5L441.5,358.9L446.9,355.5L333,355.5Z"/>
<path fill="none" stroke="#b8b49c" stroke-opacity="0.75" stroke-width="0.6" d="M386.1,609.5L385.7,608.9L386.1,608.1L387.4,607.8L388,608.9L387.2,609.8L386.1,609.5M432.6,494.8L421.5,493.5L416,492.5L411.6,491.4L408.3,490.2L406,489.2L403.8,487.7L402.3,486L401.6,485L400.7,482.8L399.9,479.5L399.4,474L399.2,466.3L399.4,461.5L400,457.5L401,454.2L402.8,450.9L405.7,447.7L410.2,444.4L412.7,443L416,441.4L419.3,440.3L421.5,439.8L426,439.5L437,439.7L443.7,439.4L449.2,438.8L459.2,437.3L462.5,437L464.7,437L466.9,437.4L469.1,438.2L470.3,438.8L471.4,439.7L472.5,440.9L473.6,443.3L473.8,444.4L473.9,446.6L473,449.8L471.3,453.1L463.8,463L461.5,466.3L459.6,469.6L456.9,475.1L452.5,486L450.8,489.3L449.2,491.4L448.1,492.3L447,493.1L444.8,494L442.6,494.6L439.3,495L432.6,494.8M382.8,618.9L380.6,617.6L378.4,615.5L377.1,613.3L376.5,611.1L376.2,608.9L376.7,605.6L377.6,603.4L379,601.2L380.6,599.5L382.8,597.8L385,596.7L388.3,595.7L391.7,595.6L393.9,595.9L396.1,596.7L398.2,597.9L399.5,599L401.1,601.2L402.1,603.4L402.6,605.6L402.6,607.8L402.1,610L401.1,612.2L400.4,613.3L398.4,615.5L397.1,616.6L395,617.9L391.7,619.3L389.4,619.7L387.2,619.8L385,619.6L382.8,618.9M430.4,499.3L424.9,498.7L419.3,497.8L414.9,496.7L410.5,495.2L407.2,493.7L403.8,491.7L401.6,489.8L399.4,487.1L397.7,483.9L396.9,481.7L396,478.4L394.8,471.8L393.9,464.1L393.6,458.6L393.8,454.2L394.3,450.9L395,449.2L395.8,447.7L397.2,446L399.1,444.4L401.6,442.8L404.9,441.1L409.4,439.2L413.5,437.8L417.1,436.8L420.4,436.1L426,435.6L442.6,435.1L457,433.5L461.4,433.3L464.7,433.4L466.9,433.8L469.1,434.4L471.5,435.6L473.1,436.7L474.7,438.3L475.9,440L476.8,442.2L477.3,445.5L477.2,447.7L476.7,449.8L475.5,453.1L473.6,456.4L466.7,466.3L463.3,471.8L460.5,477.3L456,487.1L454.1,490.4L452.5,492.6L450.3,494.8L448.1,496.4L444.8,497.9L441.5,498.8L438.2,499.3L434.8,499.4L430.4,499.3M385,629.8L380.6,629.2L378.4,628.6L376.1,627.6L373.9,626.3L371.7,624.4L370.6,623.2L369.1,621L367.9,618.8L367.1,616.6L366.6,614.4L366.3,612.2L366.3,610L366.7,606.7L367.9,602.3L370,597.9L371.5,595.7L373.4,593.6L377.3,590.1L381.7,587.4L387.2,585.1L390.5,584.2L393.9,583.5L398.3,583.3L400.5,583.6L402.7,584.3L406,586.3L409.3,589.2L412,592.5L414.9,596.8L417.1,601.2L418.6,605.6L419.1,608.9L418.8,611.1L418.5,612.2L417.3,614.4L414.2,617.7L410,621L404.5,624.3L399.4,626.7L393.9,628.6L389.4,629.5L385,629.8M431.5,503.6L426,503.2L420.4,502.4L414.9,501L410.5,499.4L406,497.2L402.7,494.9L399.4,491.9L397.3,489.3L395.3,486L393.8,482.8L392.4,478.4L390.8,471.8L388.4,459.7L387,450.9L386.7,446.6L386.9,444.4L387.3,443.3L388.1,442.2L389.6,441.1L392,440L395,438.9L402,436.7L410,434.5L414.9,433.4L420.4,432.5L426,432L441.5,431.3L455.9,430L461.4,429.7L464.7,429.9L468,430.4L471.4,431.5L473.6,432.6L475.8,434.2L477.2,435.6L478.8,437.8L479.9,440L480.5,442.2L480.8,444.4L480.8,446.6L480.3,449.8L479.2,453.1L477.6,456.4L475.7,459.7L469,469.6L466.3,474L458,490.4L455.8,493.7L452.9,497L450.3,499.1L447,501L443.7,502.3L440.4,503.1L435.9,503.6L431.5,503.6M376.2,640.8L372.8,640.1L370.6,639.3L367.3,637.6L365.1,636L362.9,634L361.1,631.9L359.6,629.7L357.9,626.5L356.8,623.2L356,619.9L355.7,616.6L355.7,613.3L356,610L356.6,606.7L357.5,603.4L358.7,600.1L361.6,594.7L365.1,589.8L367.3,587.3L369.5,585.2L373.9,581.9L378.4,579.4L383.9,576.9L404.6,569.4L406,569.2L407.2,570.1L410.5,573.8L418.5,583.7L424.1,591.4L429,599L431.8,604.5L432.8,606.7L433.7,609.6L434,611.1L434.1,613.3L433.8,615.5L433.4,616.6L432.6,618.2L431.5,619.8L430.4,621L428,623.2L426,624.6L422.9,626.5L416,629.7L397.2,637.2L390.5,639.5L386.1,640.5L382.8,641L379.5,641.1L376.2,640.8M421.5,506.9L417.1,506L412.7,504.6L408.3,502.6L404.9,500.7L401.6,498.3L398.3,495.3L395.9,492.6L393.6,489.3L391.3,485L388.9,478.4L379.5,445.6L378.7,442.2L378.5,440L378.6,438.9L379,437.8L379.5,437.1L380.6,436.2L381.7,435.7L383.9,435.1L396.1,433.2L410.5,430.4L417.1,429.3L424.9,428.6L442.6,427.8L458.1,426.4L463.6,426.3L469.1,427L473.6,428.4L475.8,429.5L478,431L479.5,432.3L481.4,434.5L482.8,436.7L484,440L484.5,442.2L484.7,445.5L484.5,447.7L483.7,450.9L482.5,454.2L480.9,457.5L478.9,460.8L472.5,470.4L469.6,475.1L466.6,480.6L461.4,491L458.1,496.3L454.8,500.1L451.4,502.9L448.1,504.9L443.7,506.6L439.3,507.5L433.7,507.9L428.2,507.7L421.5,506.9M357.3,651.7L354.6,649.5L351.8,646.6L349.6,643.6L347.9,640.7L346.4,637.4L345.3,634.1L344.5,630.9L343.8,626.5L343.6,623.2L343.8,618.8L344.3,614.4L345.2,610L346.5,605.6L347.7,602.3L349.7,597.9L351.4,594.7L355.7,588.1L360.3,582.6L364.9,578.2L369.5,575L372.8,573.4L377.3,571.5L397.2,564.4L400.5,563.5L402.7,563.2L404.9,563.1L407.2,563.3L409.4,563.9L411.7,565L414.7,567.2L417.1,569.4L421.1,573.8L427.5,581.5L431.8,587L435.7,592.5L439.5,599L440.9,602.3L442.1,605.6L442.8,608.9L443.2,612.2L443.1,615.5L442.9,617.7L441.7,622.1L440.7,624.3L439.3,626.7L437.8,628.7L435.9,630.7L433.7,632.7L431.6,634.1L428.2,636L423.8,637.7L411.6,640.7L407.2,642.2L402.7,644.4L391.2,651.7M421.5,511.4L417.1,510.5L412.7,509.2L408.3,507.2L403.8,504.5L399.4,501L396.1,497.7L392.8,493.7L390.7,490.4L388.4,486L386.2,480.6L375.5,448.8L374.6,444.4L374.4,441.1L375.1,437.8L376.2,435.6L377.3,434.3L379.5,432.6L381.7,431.5L385,430.5L411.6,426.5L420.4,425.5L441.5,424.5L458.1,423L464.7,422.8L469.1,423.2L473.6,424.2L476.9,425.5L480.2,427.4L482.4,429.1L484.6,431.5L486.6,434.5L487.5,436.7L488.4,440L488.8,443.3L488.6,446.6L488,449.8L486.9,453.1L484.8,457.5L482.2,461.9L475.3,471.8L472.5,476.3L469.5,481.7L463.6,493.7L460.3,499.2L457,503.2L453.6,506.3L451.4,507.8L449.2,509.1L444.8,510.9L440.4,511.9L435.9,512.3L429.3,512.1L421.5,511.4M421.5,651.7L416,651.2L411.6,650L410.5,649.5L409.7,651.7M333,612L335.5,605.6L338.1,600.1L341.2,594.7L344.8,589.2L349,583.7L353.8,578.2L359.6,572.4L362.9,569.6L365.1,568.4L367.3,567.6L380.6,563.5L393.9,559L399.4,557.5L403.8,556.8L407.2,556.9L410.5,557.4L413.8,558.6L416,559.8L418.2,561.2L420.4,563L423.7,566.1L436,579.3L439.7,583.7L443.1,588.1L447.3,594.7L450,600.1L451.2,603.4L452.1,606.7L452.8,610L453.2,613.3L453.4,617.7L453.2,621L452.7,624.3L451.9,627.6L450.8,630.9L449.2,634.3L447.4,637.4L444.9,640.7L442.6,643.2L440.4,645.1L438.2,646.8L434.8,648.7L431.5,650.1L428.2,651L424.9,651.5L421.8,651.7M431.5,516.8L421.5,516.1L417.1,515.6L412.7,514.3L409.4,512.9L407.2,511.7L403.8,509.5L399.4,505.9L395,501.6L390.5,496L387.1,490.4L384,483.9L373.6,456.4L371.8,450.9L370.7,446.6L370.4,442.2L370.5,440L371,437.8L372.4,434.5L374,432.3L376.4,430.1L379.5,428.3L382.8,427.1L389.4,425.8L413.8,422.7L422.7,422L442.6,421.3L459.2,419.6L465.8,419.3L470.3,419.5L474.7,420.2L478,421.2L481.3,422.7L483.5,424L485.7,425.7L488.9,429L490.9,432.3L491.9,434.5L492.6,436.7L493.3,441.1L493.3,443.3L493,446.6L491.8,450.9L489.5,456.4L486.2,461.9L479,471.8L475.4,477.3L471.8,483.9L466.9,494.4L464.5,499.2L461.4,504.1L458.1,508.1L455.9,510.2L452.5,512.7L449.2,514.5L445.9,515.8L442.6,516.6L439.3,517L435.9,517.1L431.5,516.8M333,590.9L338.8,583.7L346.1,576L355.6,567.2L358.3,565L360.7,563.5L364,562.3L379.5,557.8L397.2,551.5L402.7,549.9L407.2,549.2L410.5,549.1L413.8,549.7L417.1,550.9L420.4,552.9L423.8,555.8L432.6,565.2L444,576L448.2,580.4L451.9,584.8L455,589.2L457.6,593.6L460.3,599L462.7,605.6L464.2,612.2L465.1,618.8L465.2,625.4L464.8,631.9L463.6,638.9L461.9,645.1L459.4,651.7M495.7,452.8L493.9,456.4L491.2,460.8L481.3,473.6L478,478.5L476.2,481.7L474,486L468.4,499.2L465.8,504.7L463.6,508.3L461.4,511.3L459.2,513.9L457,516L453.6,518.6L450.3,520.5L447,521.9L442.6,523L439.3,523.2L435.9,523L427.1,521.3L420.4,521.9L417.1,521.9L413.8,521.2L410.5,519.9L407.2,517.9L403.8,515.4L399.4,511.5L395,507L390.5,501.7L387.2,497L384.6,492.6L382,487.1L375.5,470.7L369,455.3L366.9,448.8L366.4,445.5L366.2,442.2L366.5,438.9L367,436.7L367.7,434.5L368.8,432.3L370.4,430.1L372.6,427.9L375.1,426.1L377.3,424.9L381.7,423.3L386.1,422.4L413.8,419.2L422.7,418.6L437,418.5L443.7,418.2L449.2,417.6L461.4,415.9L465.8,415.5L470.3,415.4L474.7,415.8L478,416.4L481.3,417.4L484.6,418.8L487.2,420.2L490.1,422.4L492.4,424.6L494.1,426.8L495.7,429.4M333,578.5L338.1,573.8L343.4,569.4L350.8,563.9L355.9,560.6L359.6,558.7L362.9,557.4L376.9,553L383.1,550.8L388.4,548.6L393,546.4L398.8,543.1L403.3,539.8L405.6,537.6L406.4,536.5L407.4,534.3L407.6,533.2L407.3,531L406.5,528.8L404.6,525.5L400.6,520.1L391.7,509.1L388.3,504.7L385,499.9L382.1,494.8L378.9,488.2L372.3,471.8L366.5,459.7L364.2,454.2L362.8,449.8L362,445.5L361.7,441.1L362,437.8L362.8,434.5L364.2,431.2L366.2,428L368.3,425.7L371.7,423L375.1,421.2L379.5,419.7L383.9,418.8L398.3,417.5L411.6,415.8L417.1,415.3L424.9,415.1L438.2,415.4L444.8,415.1L450.3,414.4L463.6,411.9L470.3,411.2L474.7,411.2L478,411.4L481.3,412L484.6,412.8L488,414.1L490.2,415.2L493,416.9L495.7,419.1M495.7,461.1L483.9,475.1L481.5,478.4L479.4,481.7L477.7,485L475.8,489.3L471.1,502.5L468.4,509.1L466.9,512L464.8,515.7L461.4,520.4L459.2,522.8L455.9,525.8L453.6,527.4L450.3,529.4L444.8,531.8L436,534.3L432.6,535.6L431.3,536.5L430.4,537.6L429.9,538.7L429.7,539.8L429.8,543.1L431.3,548.6L433.5,554.1L435.4,557.4L437.3,559.5L439.3,561.4L450.4,569.4L454.8,573.2L458.6,577.1L462.2,581.5L465.8,586.5L468.8,591.4L471.5,596.8L473.8,602.3L475.6,607.8L477.1,613.3L478.3,619.9L479.7,628.7L480.5,636.3L481,644L481,651.7M333,561.3L346.6,554.1L355.1,549.9L362.9,546.8L377.3,541.6L382.8,539L386.1,536.7L388.3,534.4L389.7,532.1L390.4,529.9L390.6,527.7L390.3,525.5L389.7,523.3L388.9,521.2L386.5,516.8L378.6,503.6L375.7,498.1L372.7,491.5L368.8,480.6L367.1,476.2L365.1,472.4L359.3,463L356.8,458.6L354.3,453.1L352.8,448.8L351.8,444.4L351.4,440L351.5,435.6L352,432.3L353,429L354.4,425.7L356.4,422.4L359.2,419.1L362.9,416.1L367.3,413.5L371.7,411.9L377.3,410.8L382.8,410.5L392.8,410.8L396.1,410.8L400.5,410.2L410.5,408.4L418.2,407.7L424.9,407.9L438.2,409.2L443.7,409.3L447,408.8L449.8,408.2L466.9,402.4L471.4,401.3L475.8,400.5L481.3,400L485.8,400.1L491.3,400.8L495.7,401.9M495.7,472.1L490.2,476.8L486.7,480.6L485.1,482.8L483.8,485L482.8,487.1L481.6,490.4L480.1,497L477.6,515.7L474.6,533.2L474,537.6L473.8,542L474.2,546.4L475,549.7L476.1,553L477.6,556.3L479.4,559.5L482.2,563.9L495.7,583.7M333,554.5L356.2,543.7L379.5,534.4L381.7,533.2L383.9,531.4L384.9,529.9L385.2,528.8L385.2,526.6L383.9,523L379.3,513.5L372.9,501.4L370.3,495.9L367.9,489.3L365.3,480.6L364,477.3L361.8,473.6L355.5,465.2L352,459.7L348.7,453.1L346.4,446.6L345.4,442.2L345,437.8L345.1,433.4L345.8,429L347.2,424.6L348.7,421.3L350.8,418L353.6,414.7L357.3,411.6L361.8,408.9L366.2,407.1L371.7,405.8L376.2,405.3L380.6,405.4L385,405.9L392.8,407.2L396.1,407.3L398.3,406.9L406,404.9L410.5,404L414.9,403.4L419.3,403.3L422.7,403.5L427.1,404L439.3,406.2L443.7,406.3L447,405.8L449.7,404.9L464.7,397.7L470.3,395.5L474.7,394.2L480.2,393L485.8,392.4L491.3,392.3L495.7,392.7M495.7,476.6L492.4,479L490.2,480.9L488,483.4L486.3,486L484.9,489.3L484.1,492.6L483.6,497L483.5,501.4L483.9,511.3L484.6,522.9L485.5,529.9L486.5,535.4L488,540.8L489.7,545.3L492.4,550.6L495.7,556M333,548L340.7,544.8L365.2,533.2L369.5,531L372.8,528.9L374.2,527.7L375.1,526.6L375.6,525.5L375.9,524.4L375.8,521.2L374.5,515.7L372.8,511.3L368.4,502.5L365.6,495.9L363.5,489.3L361.4,479.5L360.7,478.1L359.6,476.7L354.8,471.8L351,467.4L348.5,464.1L346.3,460.8L343.8,456.4L341.7,452L339.9,447.7L338.6,443.3L337.7,438.9L337.2,433.4L337.5,429L338.3,424.6L339.7,420.2L341.8,416L344.1,412.5L347,409.3L349.3,407.1L351.8,405.2L354,403.8L357.3,402L360.7,400.7L364,399.7L367.3,399.1L370.6,398.7L376.2,398.6L381.7,399.3L387.2,400.6L391.7,402.1L395,403.4L396.1,403.5L401.6,400.9L407.2,399.3L412.7,398.4L416,398.2L419.3,398.2L423.8,398.6L428.2,399.5L440.4,403.1L442.6,403.4L444.8,403.2L446.5,402.7L448.6,401.6L458.1,394.9L463.6,391.4L468,389.1L472.5,387.1L478,385.1L483.5,383.6L490.2,382.6L495.7,382.2M495.7,480.8L492.4,482.9L490.2,485L489.4,486L488.7,487.1L487.8,489.3L487.4,491.5L487.2,493.7L487.4,497L487.8,500.3L489.5,508L492.4,517.4L495.7,525.9M333,525.5L336.3,524.2L338.5,522.8L340.6,521.2L342.7,519L344.2,516.8L345.7,513.5L346.3,511.3L346.6,508L346.3,504.7L345.6,501.4L344.6,498.1L342.9,494.4L341.3,491.5L338.8,488.2L336.3,485.4L333,482.3M333,364.9L339.6,362.6L347.4,360.7L355.1,359.6L362.9,359.1L369.5,359.2L376.2,359.7L399.4,362.8L408.3,363.7L417.1,364.2L424.9,364L430.4,363.2L435.9,361.5L441.5,358.9L446.9,355.5"/>
<path fill="none" stroke="#222" stroke-width="0.7" d="M333,568.9L335.2,567.2L345.8,560.6L350.7,557.8L355.1,555.5L362.9,552.2L379.7,546.4L383.9,544.6L387.2,542.8L390.5,540.6L393.7,537.6L395.3,535.4L396.7,532.1L397,529.9L396.8,527.7L396.4,525.5L395.1,522.2L392,516.8L382.8,503.1L378.7,495.9L375.7,489.3L371.5,478.4L369.6,474L361.6,458.6L358.9,452L357.6,447.7L357.1,444.4L356.8,441.1L357,437.8L357.5,434.5L358.5,431.2L360,427.9L361.4,425.7L364.3,422.4L366.2,420.8L368.6,419.1L371.7,417.5L373.9,416.7L379.5,415.3L385,414.7L397.2,414.1L411.6,412.1L417.1,411.7L424.9,411.6L438.2,412.3L444.8,412.1M461.4,408.4L466.9,407.2L471.4,406.5L475.8,406.1L480.2,406.2L484.6,406.7L488,407.4L492.4,408.9L495.7,410.4M495.7,467L489.1,473.6L485.8,477.3L482.6,481.7L480.2,486L478.9,489.3L477.5,493.7L472.8,511.3L471.3,515.7L469.1,521L466.9,525.5L464.7,529.5L461.4,534.6L455.5,543.1L454.2,545.3L453.1,547.5L452.6,549.7L452.7,550.8L452.9,551.9L454.2,554.1M465.8,566.8L471.4,573.5L476.4,580.4L480.6,587L484.2,593.6L487.3,600.1L489.5,605.6L491.8,613.3L493.5,621L495.7,626M333,541.5L335.2,540.9L348.3,534.3L356.1,529.9L361,526.6L364,524.1L366.2,521.3L367.4,519L368.2,515.7M361.6,500.3L359.1,492.6L357,483.9L356.2,481.5L354.8,479.5L346.1,470.7L341.5,465.2L337.8,459.7L333,451M495.7,484.8L493.5,485.8L491.9,487.1L491.1,488.2L490.7,489.3L490.5,491.5L490.8,493.7L491.8,497L493.5,500.7L495.7,504.6M333,409.3L335.3,406L338.1,402.7L340.7,400.2L344.6,397.2L348.2,395L351.8,393.2L356.2,391.6L360.7,390.5L367.3,389.6L370.6,389.5L375.1,389.8L381.7,390.7L392.8,393.1L396.1,393.4L399.4,393.2L408.3,391.8L412.7,391.4L418.2,391.5L423.8,392.1M439.3,397.6L443.7,400.5L449.2,394.1L454.8,388.8L460.3,384.3L466.9,379.8L473.6,376.2L481.3,372.9L489.1,370.6L495.7,369.3"/>
<text x="453.6" y="412.9" font-size="7.2" text-anchor="middle" transform="rotate(-11.3 453.6 410.5)" fill="#222">2000</text>
<text x="460.2" y="563" font-size="7.2" text-anchor="middle" transform="rotate(48.1 460.2 560.6)" fill="#222">2000</text>
<text x="431.5" y="396.5" font-size="7.2" text-anchor="middle" transform="rotate(18.7 431.5 394.1)" fill="#222">2800</text>
<text x="364.8" y="510.4" font-size="7.2" text-anchor="middle" transform="rotate(70.7 364.8 508)" fill="#222">2800</text>
</g>
<circle cx="418.2" cy="358.3" r="1.9" fill="none" stroke="#222" stroke-width="1.05"/>
<circle cx="443.7" cy="400.5" r="1.9" fill="none" stroke="#222" stroke-width="1.05"/>
<circle cx="395.6" cy="403.8" r="1.9" fill="none" stroke="#222" stroke-width="1.05"/>
<circle cx="380.6" cy="438.3" r="1.9" fill="none" stroke="#222" stroke-width="1.05"/>
<circle cx="422.1" cy="445.5" r="1.9" fill="none" stroke="#222" stroke-width="1.05"/>
<circle cx="468" cy="444.4" r="1.9" fill="none" stroke="#222" stroke-width="1.05"/>
<circle cx="359.6" cy="479.5" r="1.9" fill="none" stroke="#222" stroke-width="1.05"/>
<circle cx="405.5" cy="483.9" r="1.9" fill="none" stroke="#222" stroke-width="1.05"/>
<circle cx="445.9" cy="488.8" r="1.9" fill="none" stroke="#222" stroke-width="1.05"/>
<circle cx="492.5" cy="489.3" r="1.9" fill="none" stroke="#222" stroke-width="1.05"/>
<circle cx="335.2" cy="520.1" r="1.9" fill="none" stroke="#222" stroke-width="1.05"/>
<circle cx="382.8" cy="528.8" r="1.9" fill="none" stroke="#222" stroke-width="1.05"/>
<circle cx="427.1" cy="523.9" r="1.9" fill="none" stroke="#222" stroke-width="1.05"/>
<circle cx="440.9" cy="555.2" r="1.9" fill="none" stroke="#222" stroke-width="1.05"/>
<circle cx="361.8" cy="565.6" r="1.9" fill="none" stroke="#222" stroke-width="1.05"/>
<circle cx="406" cy="568.9" r="1.9" fill="none" stroke="#222" stroke-width="1.05"/>
<circle cx="386.7" cy="608.9" r="1.9" fill="none" stroke="#222" stroke-width="1.05"/>
<circle cx="429.8" cy="613.8" r="1.9" fill="none" stroke="#222" stroke-width="1.05"/>
<circle cx="410.5" cy="650.3" r="1.9" fill="none" stroke="#222" stroke-width="1.05"/>
<text x="335.2" y="661.8" font-size="8.8" text-anchor="middle">0</text>
<text x="357" y="661.8" font-size="8.8" text-anchor="middle">2</text>
<text x="378.9" y="661.8" font-size="8.8" text-anchor="middle">4</text>
<text x="400.7" y="661.8" font-size="8.8" text-anchor="middle">6</text>
<text x="422.6" y="661.8" font-size="8.8" text-anchor="middle">8</text>
<text x="444.4" y="661.8" font-size="8.8" text-anchor="middle">10</text>
<text x="466.3" y="661.8" font-size="8.8" text-anchor="middle">12</text>
<text x="488.1" y="661.8" font-size="8.8" text-anchor="middle">14</text>
<text x="330.7" y="653.2" font-size="8.8" text-anchor="end">0</text>
<text x="330.7" y="631.3" font-size="8.8" text-anchor="end">2</text>
<text x="330.7" y="609.5" font-size="8.8" text-anchor="end">4</text>
<text x="330.7" y="587.6" font-size="8.8" text-anchor="end">6</text>
<text x="330.7" y="565.7" font-size="8.8" text-anchor="end">8</text>
<text x="330.7" y="543.8" font-size="8.8" text-anchor="end">10</text>
<text x="330.7" y="522" font-size="8.8" text-anchor="end">12</text>
<text x="330.7" y="500.1" font-size="8.8" text-anchor="end">14</text>
<text x="330.7" y="478.2" font-size="8.8" text-anchor="end">16</text>
<text x="330.7" y="456.3" font-size="8.8" text-anchor="end">18</text>
<text x="330.7" y="434.5" font-size="8.8" text-anchor="end">20</text>
<text x="330.7" y="412.6" font-size="8.8" text-anchor="end">22</text>
<text x="330.7" y="390.7" font-size="8.8" text-anchor="end">24</text>
<text x="330.7" y="368.9" font-size="8.8" text-anchor="end">26</text>
<path d="M335.2,358.3H492.5V650.3" fill="none" stroke="#555" stroke-width="0.5"/>
<path d="M335.2,358.3V650.3H492.5M335.2,650.3v3M357,650.3v3M378.9,650.3v3M400.7,650.3v3M422.6,650.3v3M444.4,650.3v3M466.3,650.3v3M488.1,650.3v3M335.2,650.3h-3M335.2,628.4h-3M335.2,606.6h-3M335.2,584.7h-3M335.2,562.8h-3M335.2,540.9h-3M335.2,519.1h-3M335.2,497.2h-3M335.2,475.3h-3M335.2,453.4h-3M335.2,431.6h-3M335.2,409.7h-3M335.2,387.8h-3M335.2,366h-3M492.5,358.3v-2M492.5,358.3h2" fill="none" stroke="#333" stroke-width="0.6"/>
<text x="420.7" y="677.6" font-size="13.2" text-anchor="middle">Southing (m)</text>
<text x="310.8" y="500.8" font-size="13.2" text-anchor="middle" transform="rotate(-90 310.8 500.8)">Easting (m)</text>
<text x="519.4" y="375.8" font-size="10.8" font-weight="bold" text-anchor="middle">(f)</text>
<rect x="515.8" y="637.8" width="13.8" height="11.6" fill="#b0fcca"/>
<rect x="515.8" y="626.4" width="13.8" height="11.6" fill="#00cd82"/>
<rect x="515.8" y="615" width="13.8" height="11.6" fill="#00e46a"/>
<rect x="515.8" y="603.6" width="13.8" height="11.6" fill="#08f44e"/>
<rect x="515.8" y="592.1" width="13.8" height="11.6" fill="#60f84c"/>
<rect x="515.8" y="580.7" width="13.8" height="11.6" fill="#c4fd50"/>
<rect x="515.8" y="569.3" width="13.8" height="11.6" fill="#f2ff54"/>
<rect x="515.8" y="557.9" width="13.8" height="11.6" fill="#fff850"/>
<rect x="515.8" y="546.5" width="13.8" height="11.6" fill="#ffe75c"/>
<rect x="515.8" y="535.1" width="13.8" height="11.6" fill="#ffd262"/>
<rect x="515.8" y="523.7" width="13.8" height="11.6" fill="#ffbc62"/>
<rect x="515.8" y="512.3" width="13.8" height="11.6" fill="#ffa562"/>
<rect x="515.8" y="500.9" width="13.8" height="11.6" fill="#ff8f62"/>
<rect x="515.8" y="489.5" width="13.8" height="11.6" fill="#ff7b62"/>
<rect x="515.8" y="478" width="13.8" height="11.6" fill="#ff6666"/>
<rect x="515.8" y="466.6" width="13.8" height="11.6" fill="#ff5048"/>
<rect x="515.8" y="455.2" width="13.8" height="11.6" fill="#ff3a32"/>
<rect x="515.8" y="443.8" width="13.8" height="11.6" fill="#ff2219"/>
<rect x="515.8" y="432.4" width="13.8" height="11.6" fill="#ff0a02"/>
<path d="M515.8,637.8H529.6M515.8,626.4H529.6M515.8,615H529.6M515.8,603.6H529.6M515.8,592.1H529.6M515.8,580.7H529.6M515.8,569.3H529.6M515.8,557.9H529.6M515.8,546.5H529.6M515.8,535.1H529.6M515.8,523.7H529.6M515.8,512.3H529.6M515.8,500.9H529.6M515.8,489.5H529.6M515.8,478H529.6M515.8,466.6H529.6M515.8,455.2H529.6M515.8,443.8H529.6" fill="none" stroke="#3a1a08" stroke-opacity="0.8" stroke-width="0.7"/>
<rect x="515.8" y="432.4" width="13.8" height="216.8" fill="none" stroke="#806050" stroke-opacity="0.5" stroke-width="0.4"/>
<text x="531.8" y="651.5" font-size="7.2">-100</text>
<text x="531.8" y="628.7" font-size="7.2">400</text>
<text x="531.8" y="605.9" font-size="7.2">800</text>
<text x="531.8" y="583" font-size="7.2">1200</text>
<text x="531.8" y="560.2" font-size="7.2">1600</text>
<text x="531.8" y="537.4" font-size="7.2">2000</text>
<text x="531.8" y="514.6" font-size="7.2">2400</text>
<text x="531.8" y="491.8" font-size="7.2">2800</text>
<text x="531.8" y="468.9" font-size="7.2">3600</text>
<text x="531.8" y="446.1" font-size="7.2">4400</text>
<text x="513.8" y="423" font-size="11">µg/L</text>
<clipPath id="cp4"><rect x="42.1" y="711.1" width="160.6" height="297.1"/></clipPath>
<g clip-path="url(#cp4)">
<rect x="42.1" y="711.1" width="160.6" height="297.1" fill="#fff"/>
<path fill="#b0fcca" fill-rule="evenodd" d="M40,1010.4L204.6,1010.4L204.6,709.1L40,709.1Z"/>
<path fill="#00cd82" fill-rule="evenodd" d="M40,1010.4L204.6,1010.4L204.6,709.1L40,709.1ZM112.8,839.8L112.6,839.7L112.5,838.5L112.8,837.3L113.9,835L116.6,830.7L118.8,826.3L120.9,820.7L125.1,808.4L126.4,805.1L127.5,802.8L129,800.6L129.6,800.3L130.7,800.2L131.6,800.6L132.9,801.7L141.2,809.5L144.4,812.9L145.8,815.1L146.2,816.2L146.3,817.3L146.1,818.5L145.6,819.6L143.8,821.8L141,824L137.4,826.3L127.3,831.5L124,833.4L120.6,835.8L115.9,839.7L113.9,840.3Z"/>
<path fill="#00e46a" fill-rule="evenodd" d="M40,1010.4L108.3,1010.4L107.8,1000.4L107.9,995.9L108.2,993.7L108.8,991.5L109.4,990L110.6,988.1L111.6,987L113,985.9L115,984.8L117.5,983.6L133,978.1L135.2,977.4L137.4,977.1L139.7,977.7L142.5,979.2L158.8,989.2L165.5,993.7L170.1,997L175.5,1001.5L180.4,1006L184.9,1010.4L204.6,1010.4L204.6,709.1L40,709.1ZM112.8,843.4L111.7,842.9L110.5,842L109.6,840.8L109,839.7L108.4,837.4L108.2,835.2L108.4,833L109.7,827.4L111.7,821.9L113.9,816.6L116.7,810.6L119.2,806.2L121.5,802.8L123.4,800.6L125.1,799.2L127.3,797.9L129.6,797.3L131,797.2L132.9,797.6L135.2,798.4L143,802.4L147.5,804.3L152,805.6L156.5,806L159.8,805.8L164.3,804.5L168.8,802.4L174.4,799L175.5,798.5L176.6,798.3L177.8,798.6L178.9,799.2L180.7,800.6L189,808.4L188.9,810.6L188.5,812.9L187.8,815.1L186.6,817.3L184.9,819.6L182.5,821.8L180,823.5L177.8,824.7L174.4,826L171,827L157.6,829.7L150.9,831.5L143,834.3L127.5,840.8L121.6,843L118.4,843.8L116.1,844L113.9,843.8Z"/>
<path fill="#08f44e" fill-rule="evenodd" d="M40,1010.4L87.5,1010.4L89.3,991.5L91.2,978.1L92.6,970.5L93.3,968L93.8,966.9L94.9,966.5L101.6,968.5L104.9,969.3L108.3,969.8L112.8,970.2L117.3,970.1L121.7,969.8L132.9,967.7L136.3,967.3L139.7,967.4L143,968L146.6,969.1L152.6,971.4L177.6,981.4L192.3,988.1L204.6,994.4L204.6,709.1L40,709.1ZM113.9,846.5L111.7,845.7L109.2,844.1L107.2,841.9L106,839.7L105.3,837.4L104.9,834.1L105,830.7L105.5,827.4L106.6,822.9L108.3,818.3L110.7,812.9L113.8,807.3L116,803.9L118.8,800.6L121.3,798.4L124,796.6L126.2,795.7L128.5,795.1L130.7,795L132.9,795.2L136.4,796.1L147.5,800.2L152,801.2L156.5,801.5L159.8,801.2L162.1,800.8L165.4,799.9L173.3,797L175.5,796.5L177.8,796.6L180,797.2L181.1,797.7L185.8,800.6L190.1,804L191.2,805.2L192.7,807.3L193.9,810.6L194.2,814L193.9,817.3L192.7,820.7L190.8,824L187.8,827.3L184.5,829.8L181.1,831.7L176.6,833.4L172.2,834.6L167.7,835.3L156.5,836.7L150.9,837.8L145.3,839.4L131,844.1L124,846.1L120.6,846.7L118.4,846.9L116.1,846.8Z"/>
<path fill="#60f84c" fill-rule="evenodd" d="M40,1010.4L73.7,1010.4L76.6,998.2L79.3,988.1L81.8,980.3L84.4,973.6L86.6,969.1L89,965.8L90.2,964.7L91.7,963.6L93.7,962.6L94.9,962.3L97.1,962L99.3,962L110.5,962.9L116.1,963L121.7,962.7L136.3,961.4L139.7,961.3L144.1,961.6L149.7,962.3L157.2,963.6L191.2,970L204.6,972.7L204.6,709.1L40,709.1ZM117.3,849.7L113.9,849.2L110.5,848L107.9,846.4L105.6,844.1L103.5,840.8L102.2,837.4L101.6,834.1L101.6,829.6L102.1,825.1L103.6,819.6L105.8,814L108.3,809.1L111.6,803.9L114.2,800.6L117.8,797.2L121.2,795L123.7,793.9L126.2,793.1L128.5,792.8L131.8,792.8L136.3,793.6L148.6,797.3L153.1,798L156.5,798.2L159.8,798L163.2,797.5L172.2,795.2L174.4,794.8L176.6,794.7L178.9,794.9L181.1,795.4L184.5,796.8L187.6,798.4L191,800.6L194.7,803.9L196.5,806.2L197.8,808.4L198.7,810.6L199.4,812.9L199.8,815.1L199.9,817.3L199.8,819.6L199.4,821.8L198.3,825.1L196.4,828.5L193.4,831.9L190.1,834.8L185.6,837.6L181.1,839.5L175.5,841L168.8,841.8L154.2,842.3L150.9,843L138.1,846.4L128.5,848.6L121.7,849.7Z"/>
<path fill="#c4fd50" fill-rule="evenodd" d="M40,1010.4L61.5,1010.4L66.7,997L70.8,987L74.5,979.2L78.2,972.5L82.1,966.9L85.1,963.6L87,962L89.3,960.5L92.6,959L96,958.1L99.3,957.7L118.4,957.3L140.8,955.5L148.6,955.4L177.8,956L204.6,955.3L204.6,829.7L203.5,831.8L201.3,834.8L198.7,837.4L195.7,840.1L192.3,842.6L189.8,844.1L186.7,845.6L183.4,846.8L178.9,847.7L173.3,848.2L167.7,848.2L157.6,847.7L154.2,847.7L129.2,851.9L124,852.6L120.6,852.7L116.1,852.4L111.7,851.4L109.4,850.4L107.2,849.1L104,846.4L101.5,843L100.3,840.8L99.5,838.5L98.5,834.1L98.2,829.6L98.7,824L99.4,820.7L100.4,817.3L101.7,814L103.3,810.6L105.1,807.3L107.2,803.9L109.4,801L111.7,798.4L115.6,795L118.4,793.3L120.6,792.2L125.1,790.9L129.6,790.5L134.1,790.9L137.4,791.6L148.6,794.5L152,795.1L155.3,795.4L158.7,795.4L162.1,795.1L172.2,793.2L175.5,792.9L178.9,793L182.2,793.6L185.6,794.7L189,796.1L193,798.4L196.1,800.6L198.5,802.8L201.4,806.2L203.5,809.5L204.6,812.1L204.6,709.1L40,709.1Z"/>
<path fill="#f2ff54" fill-rule="evenodd" d="M40,1010.4L49.7,1010.4L56.6,997L62.1,987L67.5,978.1L72,971.4L76.5,965.8L80.3,962L84.8,958.6L89.3,956.1L91.5,955.3L94.9,954.3L100.5,953.4L121.7,952L140.8,949.9L160.9,947.9L171,946.6L178.9,945.2L186.8,943.5L195.2,941.2L204.6,938.4L204.6,844.3L202.4,845.2L201.7,846.4L199.9,848.6L197.9,850.4L195.7,851.9L193.4,853.1L191.2,854L189,854.6L185.6,855.2L181.1,855.6L175.5,855.4L158.7,853.5L152,853.2L143,853.7L125.1,855.6L120.6,855.7L116.1,855.3L111.7,854.3L109.4,853.4L107.2,852.3L103.5,849.7L100.5,846.5L98.2,843L96.3,838.5L95.2,834.1L94.8,828.5L95.2,822.9L95.9,819.6L96.9,816.2L98.2,812.9L99.8,809.5L103.7,802.8L106.1,799.6L108.1,797.2L111.7,793.9L113.9,792.3L116.1,791L118.4,790L121.7,789L126.2,788.3L131.8,788.4L137.4,789.4L148.6,792.1L155.3,792.9L158.7,793L162.1,792.8L172.2,791.4L175.5,791.1L178.9,791.2L182.2,791.6L185.6,792.4L189,793.5L194.8,796.1L200.1,799.5L202.7,801.7L204.6,803.6L204.6,709.1L40,709.1Z"/>
<path fill="#fff850" fill-rule="evenodd" d="M40,1006L40,1006.5L48.4,993.7L56.1,982.5L61.1,975.8L65.6,970.3L70.7,964.7L74.7,960.8L79.2,957.3L83.7,954.4L87,952.8L90.4,951.5L93.7,950.5L97.1,949.8L102.7,949L120.6,947.4L132.2,945.7L154.2,941.8L161.7,940.1L167.7,938.4L172.7,936.8L178.4,934.5L183.2,932.3L187.5,930.1L191.3,927.8L196.3,924.5L200.7,921.1L204.6,917.7L204.6,869.4L196.8,868.2L187.8,866.5L180,864.6L163.2,860.2L154.2,858.4L148.6,857.9L143,857.7L137.4,857.9L125.1,858.6L120.6,858.6L115,858.1L111.7,857.3L109.4,856.5L104.9,854.3L101.8,851.9L98.5,848.6L96.1,845.2L93.8,840.8L92.4,836.3L91.6,831.8L91.3,827.4L91.4,824L91.9,820.7L93.3,815.1L94.6,811.8L96.2,808.4L100.2,801.7L104.4,796.1L106.5,793.9L109,791.7L111.7,789.8L113.9,788.6L118.4,786.9L120.6,786.4L124,785.9L127.3,785.8L130.7,786L136.3,786.9L149.7,790L156.5,790.8L162.1,790.7L175.5,789.4L178.9,789.4L182.2,789.7L187.8,790.7L194.2,792.8L199,795L204.6,798.4L204.6,709.1L40,709.1Z"/>
<path fill="#ffe75c" fill-rule="evenodd" d="M40,990.3L40,990.7L47.7,981.4L54.5,973.6L63.1,964.7L68,960.2L72.1,956.9L76.9,953.5L80.7,951.3L87,948.4L93.7,946.3L101.6,944.9L119.5,942.9L128.5,941.3L137.4,939.4L146.4,937.2L153.1,935.2L158.4,933.4L163.8,931.2L168.3,929L172.2,926.7L176.6,923.6L179.7,921.1L183.1,917.8L185.9,914.4L188.2,911.1L190.5,906.6L191.9,902.2L192.5,897.7L192.3,893.2L191.8,891L191,888.8L189.3,885.4L186.9,882.1L183.6,878.7L181,876.5L177.8,874.3L174.2,872L170.1,869.8L162.1,866.1L154.2,863.5L148.6,862.3L141.9,861.5L135.2,861.4L122.9,861.7L116.1,861.3L112.8,860.7L109.4,859.7L106.1,858.3L103.8,857L99.9,854.2L96.5,850.8L93.9,847.5L91.4,843L89.6,838.5L88.3,833L87.7,827.4L87.8,822.9L88.2,819.6L88.9,816.2L90.9,810.6L92.6,807.3L94.5,803.9L99.8,796.1L103.5,791.7L107.2,788.4L109.4,787L111.7,785.8L116.1,784.3L119.5,783.6L122.9,783.4L126.2,783.4L129.6,783.6L135.2,784.5L149.7,787.9L156.5,788.7L163.2,788.7L176.6,787.6L183.4,787.8L189,788.7L194.6,790.1L199,791.7L204.6,794.2L204.6,709.1L40,709.1Z"/>
<path fill="#ffd262" fill-rule="evenodd" d="M40,978.1L40,978.8L52.3,966.9L57.3,962.4L62.7,958L67.1,954.6L71.3,951.7L75.8,949L79.2,947.3L85.9,944.4L92.6,942.3L99.3,941L115,939.2L122.2,937.9L134.9,934.5L142,932.3L148.4,930.1L153.1,928.1L156.5,926.5L160,924.5L163.3,922.3L166.6,919.7L169.7,916.7L171.6,914.4L174,911.1L175.8,907.7L177.4,903.3L178.1,898.8L178.1,895.5L177.2,891L175.8,887.7L174.6,885.4L173.1,883.2L170.2,879.8L167.9,877.6L165.2,875.4L160.3,872L154.2,868.8L148.6,866.7L143,865.4L137.4,864.8L132.9,864.6L121.7,864.9L118.4,864.7L115,864.4L110.5,863.4L107.2,862.2L103.8,860.6L100.5,858.5L96.5,855.3L92.6,851L89.6,846.4L87.4,841.9L85.5,836.3L84.7,833L84.1,829.6L83.8,824L84.2,818.5L85.6,812.9L86.4,810.6L88,807.3L90.7,802.8L99.3,790.4L102.7,786.8L106.1,784.4L109.4,782.7L113.9,781.3L117.3,780.8L120.6,780.6L127.3,781L134.1,782.1L148.6,785.6L153.1,786.4L156.5,786.8L163.2,786.8L177.8,785.8L185.7,786.1L191.2,786.8L195.7,787.8L200.2,789L204.6,790.5L204.6,709.1L40,709.1Z"/>
<path fill="#ffbc62" fill-rule="evenodd" d="M40,968L40,969.1L51,960.2L60,953.5L68.6,947.9L76.9,943.4L83.7,940.6L90.4,938.4L98.2,936.8L112.8,935.2L117.3,934.4L124.8,932.3L137.1,927.8L147.5,923.4L153.5,920L156.5,917.8L158.9,915.6L160.9,913.3L163.3,910L165.7,905.5L167.1,901L167.7,896.6L167.7,895.5L167.2,893.2L166.2,889.9L165.2,887.7L162.5,883.2L158.7,878.7L154.9,875.4L151.7,873.1L147.5,870.9L144.1,869.6L139.7,868.5L136.3,868L132.9,867.9L121.7,868.2L117.3,868L112.8,867.4L108.3,866.2L103.8,864.3L99.3,861.7L95.4,858.6L91.5,854.7L88.1,850.2L85.2,845.2L83.3,840.8L81.5,835.2L80.3,829.6L79.7,824L79.8,818.5L80.5,814L81.9,809.5L84,805.1L86.3,801.7L91.5,795.2L94.9,789.2L97.1,785.9L99.3,783.5L102.7,781L106.1,779.4L109.8,778.3L112.8,777.8L117.3,777.5L120.6,777.6L125.1,778.1L132.9,779.6L148.6,783.7L153.1,784.5L156.5,784.9L163.2,785.1L177.8,784.1L185.6,784L190.1,784.4L194.6,785L200.2,786L204.6,787.1L204.6,709.1L40,709.1Z"/>
<path fill="#ffa562" fill-rule="evenodd" d="M40,960.2L40,960.7L52.1,952.4L62.4,946L70.2,941.7L76.9,938.5L81.4,936.6L85.9,935L93.7,932.9L101.6,931.7L112.8,930.8L115,930.4L118.4,929.4L124.8,926.7L134.6,922.3L145.3,916.9L148.6,914.8L150.6,913.3L153.3,910L155.8,905.5L157.4,901L158,896.6L157.8,893.2L156.8,888.8L154.7,884.3L153.3,882.1L151.5,879.8L148,876.5L145.3,874.6L143,873.4L140.8,872.4L137.4,871.5L135.2,871.2L131.8,871.1L121.7,871.8L117.3,871.8L111.7,871L107.2,869.7L101.6,867.2L98.5,865.3L96,863.5L91.5,859.6L87,854.5L83.8,849.7L80.8,844.1L78.6,838.5L76.7,831.8L75.5,825.1L75.1,819.6L75.4,814L76.2,809.5L77.8,805.1L78.9,802.8L80.3,800.6L83.1,797.2L84.8,795.7L87.2,793.9L88.1,792.9L89,789.4L89.7,787.2L91.4,783.9L93,781.6L95.1,779.4L98.2,777.1L101.6,775.4L104.9,774.4L108.3,773.9L112.8,773.8L117.3,774.1L121.7,774.7L130.7,776.7L148.6,781.7L153.1,782.6L156.5,783.1L159.8,783.3L164.3,783.3L178.9,782.2L186.7,782L195.7,782.6L204.6,783.9L204.6,709.1L40,709.1Z"/>
<path fill="#ff8f62" fill-rule="evenodd" d="M40,952.4L40,953.1L55.6,943.9L67,937.9L75.8,933.8L83.7,930.7L91.5,928.3L98.2,926.9L104.9,926.1L113.9,926L114.8,925.6L137.8,912.2L142.4,908.9L144.1,907.1L145.4,905.5L147.4,902.2L148.6,898.8L149.3,895.5L149.4,893.2L149.3,891L148.9,888.8L148.3,886.5L146.9,883.2L144.6,879.8L142.3,877.6L140.8,876.5L138.6,875.4L135.2,874.5L131.8,874.5L121.7,875.9L117.3,876.1L112.8,875.7L109.4,874.9L107.2,874.2L103.8,872.8L100.5,871L97.1,868.9L93.7,866.4L91.1,864.2L88.1,861.3L85.8,858.6L83.2,855.3L79.6,849.7L76.3,843L73.8,836.3L71,826.3L69.9,819.6L69.6,814L70,808.4L71.2,802.8L72.8,798.4L74.7,794.6L78.5,788.3L82.8,780.5L85.3,777.2L88.1,774.3L91.5,772L94.9,770.4L99.3,769.1L102.7,768.7L106.1,768.8L110.5,769.3L116.1,770.3L127.3,773.2L147.5,779.6L152,780.6L156.5,781.3L160.9,781.7L165.4,781.6L181.1,780.3L189,779.9L196.8,780.1L204.6,780.7L204.6,709.1L40,709.1Z"/>
<path fill="#ff7b62" fill-rule="evenodd" d="M40,945.7L40,946.1L55.8,937.9L65.7,933L75.8,928.4L82.5,925.6L88.1,923.5L93.7,921.8L110.5,917.9L112.8,917.1L115.9,915.6L121.4,912.2L128.1,907.7L131.8,905L135,902.2L137.4,899.3L139.2,896.6L140.2,894.4L141.1,891L141.4,887.7L140.9,884.3L140.1,882.1L139.5,881L138.7,879.8L137.4,878.7L136.3,878.2L135.2,877.9L132.9,877.9L122.9,881.2L120.6,881.6L117.3,881.9L113.9,881.6L111.7,881.1L109.4,880.5L106.1,879.2L101.6,876.8L97.1,873.9L92.6,870.6L89.3,867.7L85.9,864.4L82.5,860.5L79.4,856.4L76.6,851.9L74.1,847.5L72,843L66.3,827.4L64.1,819.6L63.3,815.1L62.8,810.6L62.5,805.1L62.6,799.5L63.2,793.9L64.1,788.3L65.2,783.9L66.7,779.4L68.2,776L70.2,772.6L72.8,769.3L75.3,767.1L78,765.3L81.4,763.8L84.8,762.8L89.3,762L94.9,761.4L99.3,761.4L102.7,761.8L104.9,762.4L122.9,768.8L143,776.2L149.7,778.3L155.3,779.5L159.8,780L165.4,780L189,777.7L196.8,777.4L204.6,777.6L204.6,709.1L40,709.1Z"/>
<path fill="#ff6666" fill-rule="evenodd" d="M40,939L40,939.3L69.4,925.6L82.5,919.3L98.3,912.2L102.8,910L106.5,907.7L110.7,904.4L113.7,901L115,898.8L115.2,897.7L115.2,896.6L115,895.5L114.4,894.4L113.5,893.2L110.9,891L102.7,884.7L89.3,873.5L83.7,868L79.2,862.6L74,855.3L69.5,847.5L67.3,843L59.5,825.1L56.7,817.3L54.1,808.4L51.9,798.4L48.5,781.6L48.9,778.3L49.9,773.8L51.8,767.1L54.5,760.8L56,758.2L57.9,755.3L60,752.6L62.4,750.2L64.7,748.1L68,745.9L72.4,747.7L79.2,749.8L85.8,751.5L99.3,754.4L103.8,755.7L117.1,762.6L134,770.5L145.3,775L149.7,776.4L154.2,777.5L159.8,778.3L163.2,778.4L166.6,778.3L171,777.9L190.1,775.4L197.9,774.7L204.6,774.4L204.6,709.1L40,709.1Z"/>
<path fill="#ff5048" fill-rule="evenodd" d="M40,925.6L40,926.1L44.4,924.5L51.2,921.7L57.9,918.5L65.7,914.3L70.2,911.4L73.7,908.9L78.9,904.4L80.9,902.2L82.6,899.9L84,897.7L85,895.5L85.6,893.2L85.8,891L85.6,888.8L85.3,887.7L83.6,884.3L70.2,864.9L54.5,841.1L40,819.7ZM158.5,774.9L160.9,775.2L164.3,775.3L169.9,774.7L193.4,769.9L204.6,767.9L204.6,709.1L40,709.1L40,723.2L43.3,722L46.7,721.3L51.2,721.2L55.6,721.5L60.1,722.2L65.7,723.5L71.3,725.3L75.8,727.1L80.3,729.2L85.9,732.3L99.3,740.7L108.3,746.8L125,759.3L130,762.6L135.6,766L141.9,769.3L147.5,771.8L153.1,773.7Z"/>
<path fill="#ff3a32" fill-rule="evenodd" d="M40,912.2L40,912.8L45.6,910.8L50,908.7L55.5,905.5L60.1,901.9L63.5,898.3L64.7,896.6L66,894.4L67.2,891L67.6,888.8L67.7,886.5L67.2,882.1L65.8,877.6L63.2,872L60.1,867L55.6,860.7L51.2,855.4L45.6,849.5L40,844.2ZM158.2,771.6L160.9,772L164.3,772.1L166.6,771.9L169.9,771.3L184.6,767.1L204.6,760.7L204.6,709.1L84,709.1L91.5,715.2L99.3,722.6L107.2,730.7L124.1,749.2L128.5,753.7L133.4,758.2L139.1,762.6L145.3,766.5L152,769.6L155.3,770.8Z"/>
<path fill="#ff2219" fill-rule="evenodd" d="M40,897.7L40,898.6L43.3,897.2L46.2,895.5L49.1,893.2L51.2,891L52.8,888.8L54.4,885.4L55,883.2L54.6,881L53.5,877.6L52,874.3L50,871.2L47.8,868.5L45.6,866.3L43.3,864.5L40,862.2ZM158.7,768.2L160.9,768.8L163.2,769.1L165.4,768.8L168.8,767.9L185.3,761.5L204.6,752.2L204.6,709.1L109.7,709.1L115,717.6L123,732.5L126.9,739.2L131.2,745.9L136.2,752.6L141.3,758.2L143.9,760.4L146.4,762.3L148.8,763.8L152,765.5Z"/>
<path fill="#ff0a02" fill-rule="evenodd" d="M163.2,766L173.3,760.6L181.5,757.1L192.3,749.1L204.6,741L204.6,709.1L129.6,709.1L130.4,712.4L132.9,724.7L135.2,733.6L139.3,743.7L143.2,751.5L146.2,755.9L148.4,758.2L149.7,759.2L153.1,761.2Z"/>
<path fill="none" stroke="#b8b49c" stroke-opacity="0.75" stroke-width="0.6" d="M108.3,1010.4L107.8,1000.4L107.9,995.9L108.2,993.7L108.8,991.5L109.4,990L110.6,988.1L111.6,987L113,985.9L115,984.8L117.5,983.6L133,978.1L135.2,977.4L137.4,977.1L139.7,977.7L142.5,979.2L158.8,989.2L165.5,993.7L170.1,997L175.5,1001.5L180.4,1006L184.9,1010.4M112.8,843.4L111.7,842.9L110.5,842L109.6,840.8L109,839.7L108.4,837.4L108.2,835.2L108.4,833L109.7,827.4L111.7,821.9L113.9,816.6L116.7,810.6L119.2,806.2L121.5,802.8L123.4,800.6L125.1,799.2L127.3,797.9L129.6,797.3L131,797.2L132.9,797.6L135.2,798.4L143,802.4L147.5,804.3L152,805.6L156.5,806L159.8,805.8L164.3,804.5L168.8,802.4L174.4,799L175.5,798.5L176.6,798.3L177.8,798.6L178.9,799.2L180.7,800.6L189,808.4L188.9,810.6L188.5,812.9L187.8,815.1L186.6,817.3L184.9,819.6L182.5,821.8L180,823.5L177.8,824.7L174.4,826L171,827L157.6,829.7L150.9,831.5L143,834.3L127.5,840.8L121.6,843L118.4,843.8L116.1,844L113.9,843.8L112.8,843.4M87.5,1010.4L89.3,991.5L91.2,978.1L92.6,970.5L93.3,968L93.8,966.9L94.9,966.5L101.6,968.5L104.9,969.3L108.3,969.8L112.8,970.2L117.3,970.1L121.7,969.8L132.9,967.7L136.3,967.3L139.7,967.4L143,968L146.6,969.1L152.6,971.4L177.6,981.4L192.3,988.1L204.6,994.4M113.9,846.5L111.7,845.7L109.2,844.1L107.2,841.9L106,839.7L105.3,837.4L104.9,834.1L105,830.7L105.5,827.4L106.6,822.9L108.3,818.3L110.7,812.9L113.8,807.3L116,803.9L118.8,800.6L121.3,798.4L124,796.6L126.2,795.7L128.5,795.1L130.7,795L132.9,795.2L136.4,796.1L147.5,800.2L152,801.2L156.5,801.5L159.8,801.2L162.1,800.8L165.4,799.9L173.3,797L175.5,796.5L177.8,796.6L180,797.2L181.1,797.7L185.8,800.6L190.1,804L191.2,805.2L192.7,807.3L193.9,810.6L194.2,814L193.9,817.3L192.7,820.7L190.8,824L187.8,827.3L184.5,829.8L181.1,831.7L176.6,833.4L172.2,834.6L167.7,835.3L156.5,836.7L150.9,837.8L145.3,839.4L131,844.1L124,846.1L120.6,846.7L118.4,846.9L116.1,846.8L113.9,846.5M73.7,1010.4L76.6,998.2L79,989.2L81.4,981.4L83.9,974.7L86,970.3L88.1,966.9L90.4,964.5L91.7,963.6L93.7,962.6L96,962.2L99.3,962L110.5,962.9L117.3,963L122.9,962.6L135.2,961.4L139.7,961.3L144.1,961.6L149.7,962.3L157.2,963.6L191.2,970L204.6,972.7M117.3,849.7L113.9,849.2L110.5,848L107.9,846.4L105.6,844.1L103.5,840.8L102.2,837.4L101.6,834.1L101.6,829.6L102.1,825.1L103.6,819.6L105.8,814L108.3,809.1L111.6,803.9L114.2,800.6L117.8,797.2L121.2,795L123.7,793.9L126.2,793.1L128.5,792.8L131.8,792.8L136.3,793.6L148.6,797.3L153.1,798L156.5,798.2L159.8,798L163.2,797.5L172.2,795.2L174.4,794.8L176.6,794.7L178.9,794.9L181.1,795.4L184.5,796.8L187.6,798.4L191,800.6L194.7,803.9L196.5,806.2L197.8,808.4L198.7,810.6L199.4,812.9L199.8,815.1L199.9,817.3L199.8,819.6L199.4,821.8L198.3,825.1L196.4,828.5L193.4,831.9L190.1,834.8L185.6,837.6L181.1,839.5L175.5,841L168.8,841.8L154.2,842.3L150.9,843L138.1,846.4L128.5,848.6L121.7,849.7L117.3,849.7M61.5,1010.4L66.2,998.2L70.4,988.1L74,980.3L77.5,973.6L80.4,969.1L84,964.7L85.9,962.9L87.9,961.3L91.5,959.4L94.9,958.3L99.3,957.7L118.4,957.3L140.8,955.5L148.6,955.4L177.8,956L204.6,955.3M204.6,829.7L203.5,831.8L201.3,834.8L198.7,837.4L195.7,840.1L192.3,842.6L189.8,844.1L186.7,845.6L183.4,846.8L178.9,847.7L173.3,848.2L167.7,848.2L157.6,847.7L154.2,847.7L129.2,851.9L124,852.6L120.6,852.7L116.1,852.4L111.7,851.4L109.4,850.4L107.2,849.1L104,846.4L101.5,843L100.3,840.8L99.5,838.5L98.5,834.1L98.2,829.6L98.7,824L99.4,820.7L100.4,817.3L101.7,814L103.3,810.6L105.1,807.3L107.2,803.9L109.4,801L111.7,798.4L115.6,795L118.4,793.3L120.6,792.2L125.1,790.9L129.6,790.5L134.1,790.9L137.4,791.6L148.6,794.5L152,795.1L155.3,795.4L158.7,795.4L162.1,795.1L172.2,793.2L175.5,792.9L178.9,793L182.2,793.6L185.6,794.7L189,796.1L193,798.4L196.1,800.6L198.5,802.8L201.4,806.2L203.5,809.5L204.6,812.1M49.7,1010.4L56.6,997L62.1,987L66.8,979.2L71.2,972.5L75.6,966.9L79.8,962.4L84,959.1L88.1,956.6L90.4,955.7L93.7,954.6L99.3,953.5L121.7,952L140.8,949.9L160.9,947.9L171,946.6L178.9,945.2L186.8,943.5L195.2,941.2L204.6,938.4M204.6,844.3L202.4,845.2L201.7,846.4L199.9,848.6L197.9,850.4L195.7,851.9L193.4,853.1L191.2,854L189,854.6L185.6,855.2L181.1,855.6L175.5,855.4L158.7,853.5L152,853.2L143,853.7L125.1,855.6L120.6,855.7L116.1,855.3L111.7,854.3L109.4,853.4L107.2,852.3L103.5,849.7L100.5,846.5L98.2,843L96.3,838.5L95.2,834.1L94.8,828.5L95.2,822.9L95.9,819.6L96.9,816.2L98.2,812.9L99.8,809.5L103.7,802.8L106.1,799.6L108.1,797.2L111.7,793.9L113.9,792.3L116.1,791L118.4,790L121.7,789L126.2,788.3L131.8,788.4L137.4,789.4L148.6,792.1L155.3,792.9L158.7,793L162.1,792.8L172.2,791.4L175.5,791.1L178.9,791.2L182.2,791.6L185.6,792.4L189,793.5L194.8,796.1L200.1,799.5L202.7,801.7L204.6,803.6M40,1006.5L48.4,993.7L54.5,984.8L60.2,976.9L65.6,970.3L70.7,964.7L74.7,960.8L79.2,957.3L83.7,954.4L87,952.8L90.4,951.5L93.7,950.5L97.1,949.8L102.7,949L120.6,947.4L132.2,945.7L154.2,941.8L161.7,940.1L167.7,938.4L172.7,936.8L178.4,934.5L183.2,932.3L187.5,930.1L191.3,927.8L196.3,924.5L200.7,921.1L204.6,917.7M204.6,869.4L196.8,868.2L187.8,866.5L180,864.6L163.2,860.2L154.2,858.4L148.6,857.9L143,857.7L137.4,857.9L125.1,858.6L120.6,858.6L115,858.1L111.7,857.3L109.4,856.5L104.9,854.3L101.8,851.9L98.5,848.6L96.1,845.2L93.8,840.8L92.4,836.3L91.6,831.8L91.3,827.4L91.4,824L91.9,820.7L93.3,815.1L94.6,811.8L96.2,808.4L100.2,801.7L104.4,796.1L106.5,793.9L109,791.7L111.7,789.8L113.9,788.6L118.4,786.9L120.6,786.4L124,785.9L127.3,785.8L130.7,786L136.3,786.9L149.7,790L156.5,790.8L162.1,790.7L175.5,789.4L178.9,789.4L182.2,789.7L187.8,790.7L194.2,792.8L199,795L204.6,798.4M40,990.7L52.5,975.8L62,965.8L66.7,961.3L70.7,958L75.2,954.6L79.2,952.1L82.5,950.3L85.9,948.8L89.3,947.6L93.7,946.3L101.6,944.9L119.5,942.9L130.7,940.9L140.8,938.6L149.7,936.3L156.5,934.1L162.1,932L167.7,929.3L172.2,926.7L177,923.4L180.9,920L184.1,916.7L187.5,912.2L189.5,908.9L191.3,904.4L192.3,899.9L192.5,895.5L191.8,891L191,888.8L190,886.5L188.6,884.3L186.9,882.1L183.6,878.7L179.5,875.4L174.2,872L167.9,868.7L162.1,866.1L155.3,863.8L149.7,862.5L145.3,861.8L139.7,861.4L134.1,861.4L124,861.7L119.5,861.6L115,861.1L111.7,860.4L107.2,858.8L102.7,856.3L98.6,853.1L95.6,849.7L93.2,846.4L91.4,843L90,839.7L89,836.3L88.3,833L87.7,828.5L87.7,825.1L87.9,821.8L88.4,818.5L89.2,815.1L91.4,809.5L93.2,806.2L95.2,802.8L99,797.2L101.6,793.9L103.8,791.3L106.1,789.3L109,787.2L111.7,785.8L115,784.6L118.2,783.9L121.7,783.4L125.1,783.3L128.5,783.5L132.9,784.1L148.6,787.7L155.3,788.6L162.1,788.7L176.6,787.6L181.1,787.7L185.6,788.1L191.2,789.2L195.7,790.5L200.2,792.2L204.6,794.2M40,978.8L52.3,966.9L57.3,962.4L62.7,958L67.1,954.6L72,951.3L76.9,948.4L81.4,946.2L88.1,943.6L94.9,941.8L101.6,940.7L117.3,938.8L122.9,937.7L128.5,936.3L138.5,933.4L146.4,930.8L152,928.6L157.6,925.9L160.9,923.9L164.3,921.5L167.4,918.9L169.7,916.7L171.6,914.4L174,911.1L175.8,907.7L177.1,904.4L178,899.9L178.1,895.5L177.2,891L175.8,887.7L174.6,885.4L173.1,883.2L170.2,879.8L166.6,876.5L162.1,873.1L157.6,870.5L153.1,868.4L148.6,866.7L144.1,865.6L140.8,865.1L136.3,864.7L122.9,864.9L118.4,864.7L113.9,864.2L109.4,863L106.1,861.7L103.8,860.6L99.1,857.5L94.9,853.6L92.6,851L90.9,848.6L89,845.2L87.4,841.9L86.1,838.5L84.9,834.1L84.1,829.6L83.9,826.3L83.9,821.8L84.2,818.5L85.6,812.9L86.4,810.6L88,807.3L90,803.9L97.1,793.5L100.5,789.1L102.7,786.8L104.9,785.1L107.2,783.7L109.4,782.7L111.7,781.9L115,781.1L118.4,780.7L121.7,780.6L126.2,780.8L131.8,781.7L148.6,785.6L155.3,786.7L158.7,786.9L163.2,786.8L174.4,786L178.9,785.8L183.4,785.9L187.8,786.3L192.3,787L196.8,788L204.6,790.5M40,960.7L52.1,952.4L62.4,946L71,941.2L79.2,937.5L87,934.7L94.9,932.7L101.6,931.7L112.8,930.8L116.4,930.1L122.3,927.8L139.2,920L146.4,916.2L148.6,914.8L150.6,913.3L152.5,911.1L154.7,907.7L155.8,905.5L157.1,902.2L157.8,898.8L158,895.5L157.7,892.1L156.8,888.8L155.3,885.4L153.3,882.1L150.5,878.7L147.5,876.1L144.8,874.3L142.6,873.1L139.7,872.1L137.4,871.5L135.2,871.2L131.8,871.1L121.7,871.8L116.1,871.7L110.5,870.8L104.9,868.9L101.6,867.2L98.2,865.1L94.9,862.6L91.6,859.8L88.5,856.4L86,853.1L83.8,849.7L81.9,846.4L80.3,843L78.6,838.5L77.3,834.1L76,828.5L75.4,824L75.1,819.6L75.2,815.1L75.7,811.8L76.9,807.2L77.8,805.1L79.2,802.4L81.1,799.5L82.5,797.9L84.3,796.1L87.2,793.9L88.1,792.9L89,789.4L90.2,786.1L92.2,782.7L94,780.5L97.1,777.8L99.3,776.4L101.6,775.4L103.8,774.7L107.2,774.1L112.8,773.8L118.4,774.2L125.1,775.4L131.8,777L147.5,781.5L152,782.5L156.5,783.1L159.8,783.3L164.3,783.3L178.9,782.2L186.7,782L195.7,782.6L204.6,783.9M40,953.1L52.5,945.7L63.5,939.7L73.6,934.8L82.5,931.1L90.4,928.6L97.1,927.1L104.9,926.1L113.9,926L114.8,925.6L134.2,914.4L137.8,912.2L141,910L143.5,907.7L145.4,905.5L147.4,902.2L148.6,898.8L149.3,895.5L149.4,892.1L148.9,888.8L148.3,886.5L146.9,883.2L145.5,881L143.6,878.7L141.9,877.3L140.8,876.5L138.5,875.4L135.2,874.5L131.8,874.5L121.7,875.9L116.1,876.1L112.8,875.7L109.4,874.9L103.8,872.8L99.3,870.4L96,868.1L92.6,865.5L89.3,862.4L85.9,858.7L83.2,855.3L81,851.9L78.4,847.5L76.3,843L74.6,838.5L72.5,831.8L71,826.3L70.2,821.8L69.7,817.3L69.6,812.9L69.9,809.5L70.4,806.2L71.2,802.8L72.3,799.5L73.6,796.7L82.8,780.5L84.4,778.3L86.3,776L88.1,774.3L90.3,772.7L92.6,771.3L94.9,770.4L99.3,769.1L101.6,768.8L104.9,768.7L111.7,769.4L119.5,771.1L128.5,773.5L146.4,779.2L152,780.6L156.5,781.3L160.9,781.7L165.4,781.6L181.1,780.3L189,779.9L196.8,780.1L204.6,780.7M40,946.1L62.5,934.5L73.6,929.4L81.4,926L87,923.9L93.7,921.8L110.5,917.9L112.8,917.1L115.9,915.6L121.4,912.2L128.1,907.7L131.8,905L135,902.2L137.4,899.3L139.2,896.6L140.2,894.4L141.1,891L141.4,888.8L141.3,886.5L140.6,883.2L139.5,881L138.7,879.8L137.4,878.7L136.3,878.2L135.2,877.9L132.9,877.9L122.9,881.2L119.5,881.8L116.1,881.8L112.8,881.4L108.3,880.1L103.8,878.1L100.5,876.1L97.1,873.9L92.6,870.6L89.3,867.7L85.9,864.4L82.8,860.9L80.2,857.5L78,854.2L75.3,849.7L73,845.2L71.1,840.8L66.6,828.5L65.2,824L64.1,819.6L63.3,815.1L62.8,810.6L62.5,806.2L62.6,800.6L63,795L63.9,789.4L65.2,783.9L66.7,779.4L68.2,776L70.2,772.6L72.8,769.3L75.3,767.1L78,765.3L80.3,764.3L83.7,763.1L87,762.3L91.5,761.7L96,761.4L100.5,761.4L102.7,761.8L106.1,762.8L144.1,776.6L149.8,778.3L155.3,779.5L159.8,780L165.4,780L189,777.7L196.8,777.4L204.6,777.6M40,926.1L50,922.2L59.4,917.8L67.3,913.3L73.7,908.9L78.9,904.4L80.9,902.2L82.6,899.9L84,897.7L85,895.5L85.6,893.2L85.8,891L85.6,888.8L85.3,887.7L83.6,884.3L70.2,864.9L54.5,841.1L40,819.7M40,723.2L43.3,722L46.7,721.3L51.2,721.2L55.6,721.5L60.1,722.2L65.7,723.5L71.3,725.3L75.8,727.1L80.3,729.2L85.9,732.3L99.3,740.7L108.3,746.8L123.4,758.2L128.3,761.5L133.7,764.9L139.7,768.2L144.3,770.5L149.7,772.6L154.2,774L157.6,774.8L160.9,775.2L164.3,775.3L167.7,775L173.3,774.1L193.4,769.9L204.6,767.9M40,912.8L45.6,910.8L51.2,908.1L55.6,905.4L60.1,901.9L63.5,898.3L64.7,896.6L66,894.4L67.2,891L67.6,888.8L67.7,886.5L67.2,882.1L65.8,877.6L63.2,872L60.1,867L55.6,860.7L51.2,855.4L45.6,849.5L40,844.2M84,709.1L92.6,716.2L100.5,723.7L107.2,730.7L123,748.1L130.9,755.9L136.1,760.4L140.8,763.8L146.4,767.1L150.9,769.2L155.3,770.8L159.8,771.9L163.2,772.2L166.6,771.9L171,771L180.8,768.2L204.6,760.7M40,898.6L43.3,897.2L45.6,895.9L47.8,894.3L50,892.3L52,889.9L53.4,887.7L54.4,885.4L55,883.2L54.6,881L53.5,877.6L52,874.3L50,871.2L47.8,868.5L45.6,866.3L43.3,864.5L40,862.2M109.7,709.1L115,717.6L122.4,731.4L126.2,738.1L130.5,744.8L134.5,750.4L139.1,755.9L143.9,760.4L148.6,763.7L153.1,766L157.6,767.8L160.9,768.8L163.2,769.1L166.6,768.6L170.9,767.1L184.5,761.9L204.6,752.2M129.6,709.1L130.4,712.4L132.9,724.7L135.2,733.6L139.3,743.7L143.2,751.5L146.2,755.9L148.4,758.2L149.7,759.2L153.1,761.2L163.2,766L173.3,760.6L181.5,757.1L192.3,749.1L204.6,741"/>
<path fill="none" stroke="#222" stroke-width="0.7" d="M40,969.1L51,960.2L60,953.5L68.6,947.9L76.9,943.4L83.7,940.6L90.4,938.4L98.2,936.8L112.8,935.2L117.3,934.4L124.8,932.3L137.1,927.8L147.5,923.4L153.5,920L156.5,917.8L158.9,915.6L160.9,913.3L163.3,910L165.2,906.6L166.5,903.3L167.3,899.9L167.7,895.5L166.6,891L164.6,886.5L161.7,882.1L158.7,878.7L154.9,875.4L151.7,873.1L147.5,870.9L143,869.3L139.7,868.5L135.2,867.9L130.7,867.9L120.6,868.2L117.3,868L113.9,867.6L109.4,866.6L106.1,865.4L102.7,863.8L99.3,861.7L95.4,858.6L92,855.3L88.5,850.8L85.8,846.4L83.7,841.9L81.8,836.3L80.5,830.7L79.8,825.1L79.8,819.6L80.3,815.1L81.5,810.6L83.4,806.2L86.3,801.7L91.5,795.2L94.9,789.2L97,786.1L98.2,784.7L100.3,782.7L103.6,780.5L107.2,779L111.7,777.9L116.1,777.5L121.7,777.7L126.2,778.3L130.7,779.1L147.5,783.4L154.2,784.7M172.2,784.4L181.1,784L189,784.3L196.8,785.3L204.6,787.1M40,939.3L69.4,925.6L82.5,919.3L98.3,912.2L102.8,910L106.5,907.7L110.7,904.4L113.7,901L115,898.8L115.2,897.7L115.2,896.6L115,895.5L114.4,894.4L113.5,893.2L110.9,891L102.7,884.7L89.3,873.5L83.7,868L79.2,862.6L74,855.3L70.1,848.6L67.3,843L64.5,836.3L59.9,826.3L57,818.5L54.4,809.5L52.1,799.5L48.5,781.6L48.9,778.3L49.9,773.8L51.8,767.1L54.5,760.8L57.4,755.9L60,752.6L62.2,750.4L64.7,748.1L68,745.9L72.4,747.7L79.2,749.8L85.8,751.5L99.3,754.4L103.8,755.7L117.1,762.6L134,770.5L145.3,775L149.7,776.4L154.2,777.5M172.2,777.7L190.1,775.4L197.9,774.7L204.6,774.4"/>
<text x="163.2" y="787.5" font-size="7.2" text-anchor="middle" transform="rotate(0.1 163.2 785.1)" fill="#222">2000</text>
<text x="163.2" y="780.8" font-size="7.2" text-anchor="middle" transform="rotate(0.6 163.2 778.4)" fill="#222">2800</text>
</g>
<circle cx="126.2" cy="711.1" r="1.9" fill="none" stroke="#222" stroke-width="1.05"/>
<circle cx="152" cy="754.8" r="1.9" fill="none" stroke="#222" stroke-width="1.05"/>
<circle cx="103.4" cy="758.2" r="1.9" fill="none" stroke="#222" stroke-width="1.05"/>
<circle cx="88.1" cy="793.3" r="1.9" fill="none" stroke="#222" stroke-width="1.05"/>
<circle cx="130.1" cy="800.6" r="1.9" fill="none" stroke="#222" stroke-width="1.05"/>
<circle cx="176.6" cy="799.5" r="1.9" fill="none" stroke="#222" stroke-width="1.05"/>
<circle cx="66.8" cy="835.2" r="1.9" fill="none" stroke="#222" stroke-width="1.05"/>
<circle cx="113.3" cy="839.7" r="1.9" fill="none" stroke="#222" stroke-width="1.05"/>
<circle cx="154.2" cy="844.7" r="1.9" fill="none" stroke="#222" stroke-width="1.05"/>
<circle cx="202.7" cy="845.2" r="1.9" fill="none" stroke="#222" stroke-width="1.05"/>
<circle cx="42.1" cy="876.5" r="1.9" fill="none" stroke="#222" stroke-width="1.05"/>
<circle cx="90.4" cy="885.4" r="1.9" fill="none" stroke="#222" stroke-width="1.05"/>
<circle cx="135.2" cy="880.4" r="1.9" fill="none" stroke="#222" stroke-width="1.05"/>
<circle cx="149.2" cy="912.2" r="1.9" fill="none" stroke="#222" stroke-width="1.05"/>
<circle cx="69.1" cy="922.8" r="1.9" fill="none" stroke="#222" stroke-width="1.05"/>
<circle cx="113.9" cy="926.2" r="1.9" fill="none" stroke="#222" stroke-width="1.05"/>
<circle cx="94.3" cy="966.9" r="1.9" fill="none" stroke="#222" stroke-width="1.05"/>
<circle cx="138" cy="971.9" r="1.9" fill="none" stroke="#222" stroke-width="1.05"/>
<circle cx="118.4" cy="1008.2" r="1.9" fill="none" stroke="#222" stroke-width="1.05"/>
<text x="42.1" y="1019.7" font-size="8.8" text-anchor="middle">0</text>
<text x="64.4" y="1019.7" font-size="8.8" text-anchor="middle">2</text>
<text x="86.7" y="1019.7" font-size="8.8" text-anchor="middle">4</text>
<text x="109" y="1019.7" font-size="8.8" text-anchor="middle">6</text>
<text x="131.3" y="1019.7" font-size="8.8" text-anchor="middle">8</text>
<text x="153.6" y="1019.7" font-size="8.8" text-anchor="middle">10</text>
<text x="175.9" y="1019.7" font-size="8.8" text-anchor="middle">12</text>
<text x="198.2" y="1019.7" font-size="8.8" text-anchor="middle">14</text>
<text x="37.6" y="1011.1" font-size="8.8" text-anchor="end">0</text>
<text x="37.6" y="988.8" font-size="8.8" text-anchor="end">2</text>
<text x="37.6" y="966.6" font-size="8.8" text-anchor="end">4</text>
<text x="37.6" y="944.3" font-size="8.8" text-anchor="end">6</text>
<text x="37.6" y="922.1" font-size="8.8" text-anchor="end">8</text>
<text x="37.6" y="899.8" font-size="8.8" text-anchor="end">10</text>
<text x="37.6" y="877.6" font-size="8.8" text-anchor="end">12</text>
<text x="37.6" y="855.3" font-size="8.8" text-anchor="end">14</text>
<text x="37.6" y="833.1" font-size="8.8" text-anchor="end">16</text>
<text x="37.6" y="810.8" font-size="8.8" text-anchor="end">18</text>
<text x="37.6" y="788.6" font-size="8.8" text-anchor="end">20</text>
<text x="37.6" y="766.3" font-size="8.8" text-anchor="end">22</text>
<text x="37.6" y="744" font-size="8.8" text-anchor="end">24</text>
<text x="37.6" y="721.8" font-size="8.8" text-anchor="end">26</text>
<path d="M42.1,711.1H202.7V1008.2" fill="none" stroke="#555" stroke-width="0.5"/>
<path d="M42.1,711.1V1008.2H202.7M42.1,1008.2v3M64.4,1008.2v3M86.7,1008.2v3M109,1008.2v3M131.3,1008.2v3M153.6,1008.2v3M175.9,1008.2v3M198.2,1008.2v3M42.1,1008.2h-3M42.1,985.9h-3M42.1,963.7h-3M42.1,941.4h-3M42.1,919.2h-3M42.1,896.9h-3M42.1,874.7h-3M42.1,852.4h-3M42.1,830.2h-3M42.1,807.9h-3M42.1,785.7h-3M42.1,763.4h-3M42.1,741.1h-3M42.1,718.9h-3M202.7,711.1v-2M202.7,711.1h2" fill="none" stroke="#333" stroke-width="0.6"/>
<text x="129.2" y="1036.6" font-size="13.2" text-anchor="middle">Southing (m)</text>
<text x="17.8" y="856.2" font-size="13.2" text-anchor="middle" transform="rotate(-90 17.8 856.2)">Easting (m)</text>
<text x="230.8" y="728.6" font-size="10.8" font-weight="bold" text-anchor="middle">(g)</text>
<rect x="226.3" y="995.7" width="14.1" height="11.8" fill="#b0fcca"/>
<rect x="226.3" y="984.1" width="14.1" height="11.8" fill="#00cd82"/>
<rect x="226.3" y="972.5" width="14.1" height="11.8" fill="#00e46a"/>
<rect x="226.3" y="960.9" width="14.1" height="11.8" fill="#08f44e"/>
<rect x="226.3" y="949.3" width="14.1" height="11.8" fill="#60f84c"/>
<rect x="226.3" y="937.7" width="14.1" height="11.8" fill="#c4fd50"/>
<rect x="226.3" y="926.1" width="14.1" height="11.8" fill="#f2ff54"/>
<rect x="226.3" y="914.5" width="14.1" height="11.8" fill="#fff850"/>
<rect x="226.3" y="902.9" width="14.1" height="11.8" fill="#ffe75c"/>
<rect x="226.3" y="891.2" width="14.1" height="11.8" fill="#ffd262"/>
<rect x="226.3" y="879.6" width="14.1" height="11.8" fill="#ffbc62"/>
<rect x="226.3" y="868" width="14.1" height="11.8" fill="#ffa562"/>
<rect x="226.3" y="856.4" width="14.1" height="11.8" fill="#ff8f62"/>
<rect x="226.3" y="844.8" width="14.1" height="11.8" fill="#ff7b62"/>
<rect x="226.3" y="833.2" width="14.1" height="11.8" fill="#ff6666"/>
<rect x="226.3" y="821.6" width="14.1" height="11.8" fill="#ff5048"/>
<rect x="226.3" y="810" width="14.1" height="11.8" fill="#ff3a32"/>
<rect x="226.3" y="798.4" width="14.1" height="11.8" fill="#ff2219"/>
<rect x="226.3" y="786.8" width="14.1" height="11.8" fill="#ff0a02"/>
<path d="M226.3,995.7H240.4M226.3,984.1H240.4M226.3,972.5H240.4M226.3,960.9H240.4M226.3,949.3H240.4M226.3,937.7H240.4M226.3,926.1H240.4M226.3,914.5H240.4M226.3,902.9H240.4M226.3,891.2H240.4M226.3,879.6H240.4M226.3,868H240.4M226.3,856.4H240.4M226.3,844.8H240.4M226.3,833.2H240.4M226.3,821.6H240.4M226.3,810H240.4M226.3,798.4H240.4" fill="none" stroke="#3a1a08" stroke-opacity="0.8" stroke-width="0.7"/>
<rect x="226.3" y="786.8" width="14.1" height="220.5" fill="none" stroke="#806050" stroke-opacity="0.5" stroke-width="0.4"/>
<text x="242.6" y="1009.6" font-size="7.2">-100</text>
<text x="242.6" y="986.4" font-size="7.2">400</text>
<text x="242.6" y="963.2" font-size="7.2">800</text>
<text x="242.6" y="940" font-size="7.2">1200</text>
<text x="242.6" y="916.8" font-size="7.2">1600</text>
<text x="242.6" y="893.5" font-size="7.2">2000</text>
<text x="242.6" y="870.3" font-size="7.2">2400</text>
<text x="242.6" y="847.1" font-size="7.2">2800</text>
<text x="242.6" y="823.9" font-size="7.2">3600</text>
<text x="242.6" y="800.7" font-size="7.2">4400</text>
<text x="224" y="778" font-size="11">µg/L</text>
<clipPath id="cp5"><rect x="333.5" y="713.4" width="156.3" height="289.3"/></clipPath>
<g clip-path="url(#cp5)">
<rect x="333.5" y="713.4" width="156.3" height="289.3" fill="#fff"/>
<path fill="#b0fcca" fill-rule="evenodd" d="M331.2,1005L492.4,1005L492.4,710.9L331.2,710.9ZM423.3,831.9L418,830.7L415.5,829.6L414.2,828.5L413.5,827.5L413.1,825.3L413.2,823.1L414.1,819.8L415.6,816.6L416.7,814.7L417.9,813.3L420,811.5L421.1,810.9L423.3,810.6L426.6,811.2L429.9,812.4L433.7,814.4L436.5,816.3L437.8,817.7L439.3,819.8L440,822L440.2,824.2L439.8,827.3L438.9,829.6L437.6,831.3L436.5,832.1L434.3,832.7L432.1,832.8L428.8,832.6Z"/>
<path fill="#00cd82" fill-rule="evenodd" d="M331.2,1005L492.4,1005L492.4,710.9L331.2,710.9ZM442,843.8L432.1,841.2L425.5,840.1L416.7,839.4L404.7,839.7L403.3,839.4L402.5,839L401.9,838.3L401.5,837.3L401.3,835.1L401.5,829.6L402.8,823.1L404.6,817.7L406.8,813.3L409.7,808.9L413.5,804.6L418.1,800.2L418.9,799.8L420,799.7L421.1,800L428.8,803.2L444.2,808.9L446.4,810L448.5,811.4L450.5,813.3L451.8,815.3L452.1,816.6L451.4,820.9L449.8,827.5L447.4,835.1L445.4,840.5L444.3,842.7L443.1,843.9Z"/>
<path fill="#00e46a" fill-rule="evenodd" d="M331.2,1005L492.4,1005L492.4,710.9L331.2,710.9ZM439.8,847.1L423.3,844.7L417.8,844.4L409.1,844.1L404.7,843.6L402.5,842.9L400.4,841.6L399.2,840.5L397.7,838.3L396.9,836.2L396.3,834L396,830.7L395.9,827.5L396.2,824.2L396.8,820.9L398.5,815.5L400,812.2L401.3,810L404.8,805.7L407,803.5L409.6,801.3L412.8,799.1L414.7,798L416.7,797.2L418.9,796.7L421.1,796.6L424.4,797.2L437.6,800.7L449.6,803.3L452.9,804.2L456.1,805.7L457.3,806.8L458,807.9L458.8,810L459.1,812.2L459,815.5L458.5,818.7L457.7,822L456.2,826.5L454,832.4L451.9,837.3L449.6,841.6L448,843.8L446.9,844.9L445.4,846L444.1,846.6L442,847.1Z"/>
<path fill="#08f44e" fill-rule="evenodd" d="M331.2,1005L492.4,1005L492.4,710.9L331.2,710.9ZM434.3,849.3L423.3,847.9L410.2,847.2L405.8,846.7L402.5,845.8L400.4,844.9L398.7,843.8L397,842.2L394.9,839.4L393.5,836.2L392.4,831.8L392,826.4L392.3,820.9L393.2,816.6L394.7,812.2L396.5,808.9L398,806.8L400.3,804.2L402.5,802.2L405.8,799.7L408.5,798L412.3,796.1L415.6,794.9L417.8,794.5L421.1,794.2L424.4,794.5L439.8,797.5L448.5,798.7L458.4,799.3L462.8,799.3L465,799.1L465.2,803.5L465,807.9L464.3,813.3L463.3,817.7L461.6,823.1L459.1,829.6L456.2,836.2L453.9,840.5L452.5,842.7L450.7,844.9L448.5,846.9L446.3,848.2L444.1,849L440.9,849.6L437.6,849.6Z"/>
<path fill="#60f84c" fill-rule="evenodd" d="M331.2,1005L492.4,1005L492.4,710.9L331.2,710.9ZM429.9,851.4L422.2,850.7L410.2,850.1L404.7,849.3L401.4,848.4L398.6,847.1L395.9,845.1L393.7,842.9L391.5,839.4L389.7,835.1L388.7,830.7L388.1,825.3L388.3,819.8L389.2,814.4L390.6,810L392.6,806.4L394.9,803.5L397.3,801.3L400.2,799.1L403.7,797L408,794.9L411,793.7L414.5,792.6L417.8,792.1L421.1,791.9L424.4,792.1L438.7,794.2L446.3,795L462.8,795.5L465,795.9L466.9,797L468,798L468.7,799.1L469.2,800.2L469.7,802.4L469.9,804.6L469.8,806.8L469,812.2L467.1,818.7L463.8,827.5L459.8,836.2L458.1,839.4L456,842.7L453.5,846L451.1,848.1L448.5,849.9L445.2,851.2L442,851.9L438.7,852.1Z"/>
<path fill="#c4fd50" fill-rule="evenodd" d="M331.2,1005L492.4,1005L492.4,710.9L331.2,710.9ZM383.8,963.1L383.3,962.5L383.8,961.9L384.9,962.3L384.9,962.7ZM426.6,853.7L409.1,852.7L405.8,852.3L402.5,851.6L399.2,850.5L395.9,848.8L392.6,846.1L390.6,843.8L389.1,841.6L388,839.4L386.2,835.1L384.9,829.6L384.3,823.1L384.3,817.7L385.1,812.2L386.4,807.9L387.4,805.7L388.8,803.5L390.6,801.3L393.1,799.1L396.5,797L400.6,794.8L404.7,793L408.9,791.5L413.1,790.4L416.7,789.8L420,789.6L424.4,789.7L438.7,791.4L445.2,791.9L461.7,792.2L463.9,792.5L466.1,793.1L467.4,793.7L469.2,794.8L470.5,795.9L472.1,798L473.4,801.3L473.8,803.5L473.9,805.7L473.8,807.9L473.3,811.1L471.4,817.7L467.4,827.5L462.1,838.3L458.4,844.4L456.2,847.1L452.9,850.2L449.6,852.2L446.3,853.5L443.1,854.2L438.7,854.5L434.3,854.4Z"/>
<path fill="#f2ff54" fill-rule="evenodd" d="M331.2,1005L492.4,1005L492.4,710.9L331.2,710.9ZM380.5,965.8L379.5,964.7L379,963.6L378.9,962.5L379.1,961.4L379.7,960.3L380.9,959.2L382.7,958.6L383.8,958.6L384.9,958.8L386,959.4L386.9,960.3L387.4,961.4L387.6,962.5L387.4,963.6L386.9,964.7L385.9,965.8L384.9,966.3L383.8,966.6L382.7,966.6L381.6,966.4ZM436.5,856.9L423.3,855.9L409.1,855.4L405.8,855.1L402.5,854.6L398.1,853.2L394.8,851.6L391.5,849.2L388.3,846L386.8,843.8L384.9,840.5L382.8,835.1L381.9,831.8L381,827.5L380.3,819.8L380.5,813.3L380.9,810L381.7,806.8L382.7,803.6L383.8,801.5L384.9,799.9L386.8,798L389.3,796.3L392.6,794.5L397,792.6L402.5,790.6L406.9,789.3L411.3,788.2L415.6,787.6L418.9,787.3L425.5,787.5L443.1,789L458.4,789.1L462.8,789.3L466.1,789.9L469.4,791.1L471.8,792.6L474.2,794.8L475,795.9L476.3,798L477.2,800.2L477.7,802.4L477.9,806.8L477.3,811.1L475.7,816.6L473,823.1L467.2,835.1L463,842.7L460.6,846.3L458.2,849.2L455.1,852L451.8,854.1L448.5,855.6L445.2,856.4L440.9,856.9Z"/>
<path fill="#fff850" fill-rule="evenodd" d="M331.2,1005L492.4,1005L492.4,710.9L331.2,710.9ZM378.4,969.3L376.2,967.9L375.1,966.5L374.3,964.7L374.1,963.6L374.2,961.4L375.1,959.2L375.9,958.1L377.3,956.9L378.9,956L380.5,955.4L381.6,955.3L383.8,955.4L386,956.1L387.1,956.7L388.2,957.7L389.3,959.1L390.2,961.4L390.2,963.6L389.9,964.7L388.8,966.9L387.8,967.9L386.2,969L383.8,969.9L381.6,970.1L380.5,970ZM433.2,859.1L423.3,858.3L406.9,858L403.6,857.7L400.3,857.1L395.9,855.7L392.6,854L389,851.4L385.9,848.1L384.3,846L382.4,842.7L380.9,839.4L379.7,836.2L377.7,828.5L376.9,824.2L376.4,819.8L376.3,812.2L376.6,807.9L377.2,804.6L378,801.3L379.2,798L380.5,795.9L381.6,794.9L383.9,793.7L389.4,791.5L396,789.3L401.4,787.8L410.2,785.9L414.5,785.3L418.9,785L425.5,785.2L442,786.5L447.4,786.5L459.5,786.3L465,786.6L469.4,787.6L472.7,788.9L475.9,791.1L478.5,793.7L479.9,795.9L480.9,798L481.6,800.2L482,802.4L482.1,806.8L481.8,808.9L481.1,812.2L479.2,817.7L476.7,823.1L467.7,840.5L463.7,847.1L461.2,850.3L457.9,853.6L454,856.2L450.7,857.7L447.4,858.7L443.1,859.3L438.7,859.4Z"/>
<path fill="#ffe75c" fill-rule="evenodd" d="M331.2,1005L492.4,1005L492.4,710.9L331.2,710.9ZM377.3,973.4L375.1,972.7L372.9,971.5L371.3,970.1L369.7,967.9L368.9,965.8L368.6,963.6L369,960.3L370,958.1L371.5,956L372.9,954.7L375.1,953.3L377.3,952.4L379.5,952L382.7,952L384.9,952.4L387.1,953.3L389.3,954.8L390.4,955.8L391.5,957.2L392.5,959.2L393,961.4L393,963.6L392.6,965.5L392.1,966.9L390.7,969L389.7,970.1L388.2,971.3L386,972.5L383.8,973.3L381.6,973.7L379.5,973.7ZM432.1,861.3L422.2,860.6L405.8,860.7L401.4,860.4L398.1,859.8L393.7,858.4L390.4,856.7L388.2,855.2L386.3,853.6L383.3,850.3L381,847.1L379.5,844.3L377.7,840.5L376.5,837.3L375.2,832.9L373.9,827.5L372.9,822L372.3,817.7L372,810L372.3,805.7L372.8,802.4L373.5,799.1L374.6,795.9L375.7,793.7L377.3,791.8L379.5,790.5L382.8,789.3L390.9,787.2L399.2,785.2L404.7,784.1L410.2,783.3L414.5,782.9L418.9,782.7L424.4,782.9L436.5,783.8L442,784L448.5,784L460.6,783.4L467.2,783.8L471.6,784.6L475.9,786.3L479.2,788.3L481.4,790.3L482.5,791.5L484,793.7L485.1,795.9L485.9,798L486.6,801.3L486.7,803.5L486.6,806.8L486.2,808.9L485.4,812.2L483.8,816.6L481.1,822L474.8,833.2L468.6,844.9L465.2,850.3L462.5,853.6L458.8,856.9L455.4,859L451.8,860.5L447.4,861.6L443.1,862L438.7,861.9Z"/>
<path fill="#ffd262" fill-rule="evenodd" d="M331.2,1005L492.4,1005L492.4,710.9L331.2,710.9ZM371.8,976.7L369.3,975.6L366.4,973.4L364.6,971.2L363.1,967.9L362.5,964.7L362.8,961.4L363.8,958.1L365.7,954.9L367.8,952.7L370.8,950.5L374,949.1L377.3,948.4L380.5,948.3L383.8,948.8L387.1,949.9L390.4,951.8L392.6,953.8L394.2,956L395.3,958.1L395.9,960.3L396.1,962.5L395.6,965.8L394.8,967.9L393.6,970.1L391.7,972.3L389.3,974.2L387.1,975.5L383.8,976.8L380.5,977.5L377.3,977.7L374,977.3ZM439.8,864.5L428.8,863.2L424.4,862.9L418.9,862.9L404.7,863.6L400.3,863.4L397,863L392.6,861.8L390.4,860.9L388.2,859.7L384.9,857.3L381.6,854L379.5,851.1L377.3,847.5L375.4,843.8L373.7,839.4L372,834L370.3,827.5L368.9,820.9L368.1,815.5L367.7,811.1L367.7,806.8L368.1,802.4L368.8,799.1L369.8,795.9L370.8,793.7L372.2,791.5L374.2,789.3L376.2,787.9L378.4,786.8L381.6,785.7L386,784.6L404.7,781.4L411.3,780.6L416.7,780.4L422.2,780.5L435.4,781.4L442,781.7L448.5,781.5L462.8,780.5L467.2,780.5L470.5,780.7L474.8,781.5L479.2,783L482.9,785L484.7,786.4L486.7,788.2L488.4,790.4L489.7,792.6L490.6,794.8L491.5,798L491.8,800.2L491.9,803.5L491.5,806.8L490.8,810L489.2,814.4L487.1,818.7L477.1,835.1L469,850.3L466.8,853.6L463.9,857L460.6,859.8L457.3,861.9L454,863.3L449.6,864.4L445.2,864.8Z"/>
<path fill="#ffbc62" fill-rule="evenodd" d="M331.2,1005L492.4,1005L492.4,818.1L489.9,822L482.5,832.1L479.9,836.2L477.5,840.5L472.2,851.4L469.4,856.1L467.2,858.9L465,861.2L462.2,863.4L459.5,865L457.3,866L454,867.1L450.7,867.6L447.4,867.9L442,867.6L429.9,865.6L423.3,865.1L417.8,865.3L403.6,866.8L397,866.7L393.7,866.2L390.4,865.3L387.1,863.9L384.9,862.5L382,860.1L379.5,857.4L377.3,854.5L375.1,851L372.9,846.7L370.8,841.6L369,836.2L366.6,827.5L365,820.9L364.1,816.6L363.4,811.1L363.2,806.8L363.6,801.3L364.5,797L366.2,792.6L368.5,789.1L370.3,787.2L371.6,786.1L375.1,784L379.5,782.4L384.9,781.2L402.5,778.9L411.3,778.1L420,778L435.4,779.2L443.1,779.4L449.6,779L465,777.3L472.7,777.1L475.9,777.4L479.2,777.9L481.4,778.5L484.4,779.5L488.4,781.7L490.2,783L492.4,785.2L492.4,710.9L331.2,710.9ZM367.4,981.1L365.2,980.3L363,979L360.2,976.7L357.8,973.4L356.8,971.2L356.2,969L355.8,966.9L355.8,964.7L356,962.5L356.4,960.3L357.1,958.1L358.1,956L360.3,952.7L363.5,949.4L366.6,947.3L370.7,945.5L375.1,944.6L379.5,944.6L383.8,945.3L388.2,946.9L390.4,948.1L392.6,949.6L394.8,951.6L397.3,954.9L398.3,957.1L399.1,960.3L399.2,963.6L398.6,966.9L397.2,970.1L395.7,972.3L393.7,974.6L390.4,977.2L387.1,979.1L382.7,980.8L378.4,981.8L375.1,982.1L370.7,981.8Z"/>
<path fill="#ffa562" fill-rule="evenodd" d="M331.2,1005L492.4,1005L492.4,825.5L485.8,832.9L483.6,835.7L481.9,838.3L479.6,842.7L474.8,854.2L473.5,856.9L471.4,860.1L469.4,862.8L466.5,865.6L463.9,867.5L460.6,869.3L458.4,870.2L455.1,871L451.8,871.4L448.5,871.5L445.2,871.2L442,870.6L428.8,867.8L425.5,867.4L422.2,867.3L416.7,867.8L405.8,869.8L400.3,870.5L395.9,870.7L391.5,870.3L388.2,869.6L386,868.7L382.7,866.8L380.5,865L378.4,862.7L376.2,860L374,856.8L371.5,852.5L369.5,848.1L367.4,842.7L360.9,820.9L359.8,816.6L359,812.2L358.6,807.9L358.5,804.6L358.8,799.1L359.8,794.8L361.6,790.4L363.6,787.2L366.3,784.3L369.8,781.7L374,779.7L378.4,778.5L384.9,777.6L404.7,775.8L411.3,775.4L420,775.6L436.5,777.1L440.9,777.2L445.2,777L452.9,776.2L469.4,773.4L477,772.8L481.4,772.8L485.8,773.4L489.1,774.3L492.4,775.6L492.4,710.9L331.2,710.9ZM363,986.7L360.8,986.1L358.6,985.1L356.4,983.8L354.2,982L352.4,979.9L350.9,977.7L349.5,974.5L348.8,971.9L348.3,969L348.2,965.8L348.4,963.6L349.1,960.3L350.2,957.1L351.3,954.9L353.1,951.8L355,949.4L358.6,946L360.8,944.4L363.5,942.9L366.1,941.8L368.5,941.1L370.7,940.6L374,940.3L376.2,940.3L379.5,940.7L384.9,942.1L390.4,944.5L393.2,946.2L395.9,948.2L399.1,951.6L401.1,954.9L402.3,958.1L402.7,961.4L402.6,963.6L402.3,965.8L401.3,969L399.6,972.3L397.2,975.6L393.7,978.8L390.4,981L386,983.3L380.5,985.4L376.2,986.5L371.8,987.2L367.4,987.3Z"/>
<path fill="#ff8f62" fill-rule="evenodd" d="M331.2,1005L492.4,1005L492.4,831.2L489.1,834.1L486.9,836.4L485.3,838.3L483.6,841L481.9,844.9L479.2,853.7L477.7,858L476.2,861.2L474.2,864.5L471.6,867.8L469.4,870L466.1,872.4L462.8,874.1L459.5,875.2L456.2,875.8L452.9,876L449.6,875.8L446.3,875.2L443.1,874.4L433.2,871.2L429.9,870.3L426.6,869.7L423.3,869.5L420,869.7L416.7,870.3L403.6,873.7L397,875L393.7,875.4L390.4,875.5L386,875L383.8,874.3L381.6,873.1L379.5,871.3L377.3,869L374.5,865.6L371.8,861.4L369.6,857.4L367.4,852.9L364.3,844.9L360.9,832.9L357.6,824.2L355.9,818.7L354.8,814.4L353.9,810L353.4,805.7L353.3,802.4L353.6,797L354.5,792.6L356.1,788.2L357.9,785L360.6,781.7L364.1,778.8L367.4,776.9L371.8,775.4L375.1,774.7L379.5,774.2L393.7,773.8L405.8,772.9L411.3,772.7L418.9,773L435.4,774.8L439.8,775L444.1,774.9L448.5,774.4L454,773.4L473.8,768.4L480.3,767L486.9,766.2L490.2,766.1L492.4,766.3L492.4,710.9L422.7,710.9L421.6,713.1L419.7,715.3L418,716.4L416.7,716.9L414.5,717.1L412.3,716.8L411.2,716.4L409.3,715.3L406.9,713.1L405.2,710.9L331.2,710.9ZM359.7,994.1L356.4,993.7L353.1,992.6L350.9,991.5L348.8,989.8L346.5,987.6L344.1,984.3L342.3,981L341,977.8L340.2,974.5L339.8,971.2L339.8,967.9L340.3,963.6L341.4,959.2L342.6,956L344.2,952.7L346.4,949.4L348.8,946.6L351.4,944L354.2,941.7L357.3,939.6L359.7,938.3L363,937L366.3,936.1L369.6,935.6L372.9,935.5L376.2,935.8L379.5,936.5L382.7,937.4L387.1,939.2L390.4,940.8L394.1,942.9L397.3,945.1L401,948.3L403.6,951.6L405.3,954.9L406,957.1L406.4,959.2L406.5,961.4L406.4,963.6L405.4,967.9L403.6,972.3L401.4,975.7L398.1,979.4L393.7,982.8L388.2,986L381.6,989.2L375.1,991.8L369.6,993.3L364.1,994.1Z"/>
<path fill="#ff7b62" fill-rule="evenodd" d="M331.2,1005L492.4,1005L492.4,836.1L490.2,837.7L488,839.7L486.9,841.1L486,842.7L484.9,846L483.2,855.8L482.2,860.1L480.7,864.5L478.5,868.8L475.9,872.5L472.7,875.9L469.4,878.3L466.1,880.1L462.8,881.2L459.5,881.9L456.2,882L451.8,881.6L447.4,880.5L444.1,879.2L433.8,874.3L429.9,872.7L426.6,871.9L423.3,871.7L420,872.1L416.7,872.9L402.5,878.2L394.8,880.5L387.1,882.2L380.5,883L376.2,877.6L371.2,869.9L366.3,860.4L362.4,851.4L359.5,842.7L358.4,838.3L357.5,834L355.3,829.6L353.4,825.3L351.4,819.8L350.1,815.5L349,811.1L348.1,806.8L347.6,802.4L347.4,798L347.8,792.6L348.8,788.2L350.4,783.9L352.2,780.6L354.7,777.4L357.5,774.8L360.8,772.6L365.2,770.8L369.6,769.9L374,769.6L378.4,769.7L388.2,770.5L392.6,770.6L406.9,769.9L412.3,769.9L418.9,770.4L431,772.2L435.4,772.6L440.9,772.8L445.2,772.5L449.2,771.9L452.9,771.1L460.6,768.6L473.9,763.2L490.2,755.6L492.4,755.3L492.4,710.9L430.2,710.9L426.5,715.3L424.1,717.5L422.2,718.8L420,720L417.8,720.8L415.6,721.3L413.4,721.4L411.3,721.3L408,720.7L404.9,719.6L402.6,718.5L400.6,717.5L397.4,715.3L394.8,713.1L392.6,710.9L331.2,710.9L331.2,963.7L332.2,960.3L334.2,954.9L336.2,950.5L337.6,948.3L339.2,946.2L342.4,942.9L348.8,937.5L352,935.2L355.3,933.4L358.6,931.9L361.9,930.8L365.2,930.1L368.5,929.8L371.8,929.9L375.1,930.5L378.4,931.4L381.6,932.6L386,934.6L390.4,937L395.9,940.2L400.3,943L404.7,946.6L406.4,948.3L408,950.5L409.2,952.7L410.1,954.9L410.6,957.1L410.9,960.3L410.7,962.5L410.2,965.8L409.2,969L407.8,972.3L405.9,975.6L404.4,977.8L402.6,979.9L400.3,982.1L397.6,984.3L394.8,986.1L376.2,997L369.6,1000.1L363,1002.2L358.6,1003.1L354.2,1003.5L349.8,1003.4L345.3,1002.8L344.4,1001.8L341.5,997.4L333.7,986.5L332.3,983.2L331.2,979.6Z"/>
<path fill="#ff6666" fill-rule="evenodd" d="M331.2,1005L336.7,1005L335.6,1002.8L334.5,1001.3L331.2,998.5ZM374.8,1005L492.4,1005L492.4,840.8L490.2,841.8L489.3,842.7L488.6,843.8L488.4,846L488.9,855.8L488.6,861.2L488,864.5L487.2,867.8L485.2,873.2L483.6,876.3L482.1,878.6L480.3,881L478.5,883L475.9,885.3L473.8,886.9L469.4,889.3L465,890.7L460.6,891.3L456.2,891L452.9,890.3L449.6,889L445.2,886.4L434.9,878.6L431,876L427.7,874.5L424.4,873.8L421.1,874.2L417.9,875.4L402.5,883.3L395.9,886.1L390.4,888.1L387.1,889.1L383.8,889.7L380.5,889.7L378.4,889.2L376.8,888.4L375.2,887.4L373.1,885.2L371,881.9L368.5,876.9L359.2,854.7L356.1,846L353,836.2L347.4,823.1L344.3,814.4L342.7,808.9L341.4,803.5L340.7,799.1L340.3,794.8L340.4,790.4L340.8,786.1L341.8,781.7L342.9,778.4L344.4,775.2L346.4,771.9L348.8,769.1L350.9,767.1L353.4,765.4L356.4,763.8L359.7,762.8L363,762.3L367.4,762.3L371.8,762.8L386,766.4L390.4,767.2L395.9,767.4L406.9,766.7L413.4,766.8L420,767.7L432.1,770L437.6,770.6L443.1,770.5L447.4,769.9L452.2,768.6L457.9,766.5L464.3,763.2L471.1,758.8L475.5,755.6L486.9,746L492.4,741.8L492.4,710.9L440.3,710.9L430.8,718.5L427.6,720.7L423.8,722.9L420,724.5L416.7,725.4L413.4,726L410.2,726.1L405.8,725.8L400.3,724.8L394.8,723.3L389.3,721.4L383.8,719.1L378.5,716.4L375,714.2L370.7,710.9L331.2,710.9L331.2,942.6L334.5,939.3L341.1,934.2L347.7,929.6L353.1,926.6L358.6,924.3L363,923.1L367.4,922.6L370.7,922.9L375.1,924L379.5,926L383.8,928.6L394.3,935.3L407,942.9L410.2,945.3L413,948.3L414.9,951.6L415.8,954.9L416.1,958.1L415.9,961.4L415.2,964.7L414.2,967.9L412.9,971.2L411.2,974.5L409.3,977.8L406.9,981L404.7,983.4L401.4,986.2L398.1,988.4L392.6,991.4L389.3,993.5L378.4,1002.4Z"/>
<path fill="#ff5048" fill-rule="evenodd" d="M392.4,1005L492.4,1005L492.4,921.7L490.2,924.4L455.1,935.3L449.5,937.5L447.4,938.5L445.2,940.1L443.5,941.8L442,944L436.8,953.8L433.6,959.2L430.4,963.6L427.7,966.9L425.6,971.2L423.7,974.5L421.1,977.8L418.9,979.9L417.2,984.3L415.9,986.5L414.3,988.6L412.3,990.9L410.2,992.8L408,994.4L405.8,995.7L403.6,996.7L400.3,997.7L398.1,998.2L394.8,998.4ZM406.3,933.1L410.2,933.8L414.5,934.1L418.9,933.8L423.1,933.1L426.7,932L428.8,930.9L430,929.8L430.8,928.7L431.4,927.7L431.8,925.5L431.8,923.3L431.3,920L429.7,913.5L428.9,909.1L428.5,904.8L428.1,897.2L427.7,892.6L426.6,886.8L424.4,878.6L424,879.7L423.3,880.6L422.7,881.9L420.5,885.2L418.6,887.4L416.7,889.1L414.5,890.9L411.6,892.8L399.7,899.3L394.8,902.6L392.6,904.5L391.4,905.9L389.9,908L389,910.2L388.5,913.5L389,916.8L389.7,918.9L390.7,921.1L392.8,924.4L395.7,927.7L398.5,929.8L402.5,931.9ZM331.2,922.2L331.2,922.5L333.4,921.1L344.8,912.4L349.8,908L352.8,904.8L355,901.5L356.4,898.2L357.4,893.9L357.7,889.5L357.3,883L356.3,875.4L354.8,868.8L352.7,862.3L349.7,854.7L345.5,844.7L337.1,827.5L333.4,818.7L331.2,815.2ZM432.7,765.4L436.5,766.1L440.9,766.4L444.1,766L447.4,765.2L451.8,763.2L455.2,761L457.8,758.8L460.8,755.6L463.2,752.3L465.4,748L466.7,743.6L467.1,740.3L466.9,737.1L466.1,733.8L464.3,730.5L461.7,727.9L459.5,726.6L457.3,725.6L455.1,725L452.9,724.7L450.7,724.5L447.4,724.7L442,725.7L435.4,727.9L421.1,734L414.5,736.4L409.1,737.8L399.2,739.5L394.8,740.8L391.5,742.3L389.6,743.6L388.2,745L387,746.9L386.6,748L386.2,750.1L386.4,752.3L387.1,754.5L388.2,756.7L389.9,758.8L391.3,759.9L392.6,760.5L394.8,760.6L401.4,759.2L405.8,758.7L409.1,758.6L412.3,758.8L414.5,759.2L417.8,760.1L429.1,764.3Z"/>
<path fill="#ff3a32" fill-rule="evenodd" d="M433.4,1005L492.4,1005L492.4,964.7L488,967L483.6,969.6L479.5,972.3L475.9,975.1L472.7,978.1L469.9,981L467.3,984.3L465,987.8L455.1,991.2L447.4,994.9L443.1,997.4L438.3,1000.6L435.4,1002.8ZM403,924.4L403.6,924.6L404.7,924.7L405.8,924.4L407.3,923.3L408,922.2L408.3,921.1L408.3,920L407.9,918.9L406.9,917.8L405.8,917.4L404.7,917.4L403.6,917.7L402.1,918.9L401.4,920.4L401.3,922.2L401.7,923.3L402.5,924.1ZM331.2,901.5L331.2,902L334.4,899.3L336.7,897.1L340,892.9L342,889.5L343.4,886.3L344.7,881.9L345.4,877.6L345.6,873.2L345.4,871L344.4,867.3L342.9,863.4L341,859L338.9,855L336.7,851.3L331.2,843.5ZM435.1,761L437.6,761.8L439.8,762.1L442,762L444.1,761.5L446.3,760.5L448.5,758.9L449.7,757.8L451.4,755.6L452.5,753.4L453.2,751.2L453.5,749L453.3,746.9L452.8,744.7L451.7,742.5L450.7,741.3L448.5,739.6L446.3,738.5L443.1,737.8L439.8,737.9L436.5,738.6L433.2,739.8L430.4,741.4L427.8,743.6L426.1,745.8L425.2,748L425.1,749L425.3,751.2L426.2,753.4L427.7,755.6L429.9,757.8L432.9,759.9Z"/>
<path fill="#ff2219" fill-rule="evenodd" d="M490.1,1005L492.4,1005L492.4,1003.5L490.2,1002.8ZM331.2,879.7L331.2,880.7L332.4,878.6L333.1,876.5L333.7,873.2L333.9,871L333.3,867.8L332.3,865.6L331.2,863.8ZM438,756.7L439.8,757.6L440.9,757.7L442,757.5L443.3,756.7L444,755.6L444.4,754.5L444.5,753.4L444.1,751.9L443.1,750.4L442,749.7L440.9,749.4L439.8,749.5L438.7,749.9L437.6,750.7L436.7,752.3L436.5,753.4L436.7,754.5L437.2,755.6Z"/>
<path fill="none" stroke="#b8b49c" stroke-opacity="0.75" stroke-width="0.6" d="M439.8,847.1L423.3,844.7L417.8,844.4L409.1,844.1L404.7,843.6L402.5,842.9L400.4,841.6L399.2,840.5L397.7,838.3L396.9,836.2L396.3,834L396,830.7L395.9,827.5L396.2,824.2L396.8,820.9L398.5,815.5L400,812.2L401.3,810L404.8,805.7L407,803.5L409.6,801.3L412.8,799.1L414.7,798L416.7,797.2L418.9,796.7L421.1,796.6L424.4,797.2L437.6,800.7L449.6,803.3L452.9,804.2L456.1,805.7L457.3,806.8L458,807.9L458.8,810L459.1,812.2L459,815.5L458.5,818.7L457.7,822L456.2,826.5L454,832.4L451.9,837.3L449.6,841.6L448,843.8L446.9,844.9L445.4,846L444.1,846.6L442,847.1L439.8,847.1M434.3,849.3L423.3,847.9L410.2,847.2L405.8,846.7L402.5,845.8L400.4,844.9L398.7,843.8L397,842.2L394.9,839.4L393.5,836.2L392.4,831.8L392,826.4L392.3,820.9L393.2,816.6L394.7,812.2L396.5,808.9L398,806.8L400.3,804.2L402.5,802.2L405.8,799.7L408.5,798L412.3,796.1L415.6,794.9L417.8,794.5L421.1,794.2L424.4,794.5L439.8,797.5L448.5,798.7L458.4,799.3L462.8,799.3L465,799.1L465.2,803.5L465,807.9L464.3,813.3L463.3,817.7L461.6,823.1L459.1,829.6L456.2,836.2L453.9,840.5L452.5,842.7L450.7,844.9L448.5,846.9L446.3,848.2L444.1,849L440.9,849.6L437.6,849.6L434.3,849.3M429.9,851.4L422.2,850.7L410.2,850.1L404.7,849.3L401.4,848.4L398.6,847.1L395.9,845.1L393.7,842.9L391.5,839.4L389.7,835.1L388.7,830.7L388.1,825.3L388.3,819.8L389.2,814.4L390.6,810L392.6,806.4L394.9,803.5L397.3,801.3L400.2,799.1L403.7,797L408,794.9L411,793.7L414.5,792.6L417.8,792.1L421.1,791.9L424.4,792.1L438.7,794.2L446.3,795L462.8,795.5L465,795.9L466.9,797L468,798L468.7,799.1L469.2,800.2L469.7,802.4L469.9,804.6L469.8,806.8L469,812.2L467.1,818.7L463.8,827.5L459.8,836.2L458.1,839.4L456,842.7L453.5,846L451.1,848.1L448.5,849.9L445.2,851.2L442,851.9L438.7,852.1L429.9,851.4M383.8,963.1L383.3,962.5L383.8,961.9L384.9,962.3L384.9,962.7L383.8,963.1M426.6,853.7L409.1,852.7L405.8,852.3L402.5,851.6L399.2,850.5L395.9,848.8L392.6,846.1L390.6,843.8L389.1,841.6L388,839.4L386.2,835.1L384.9,829.6L384.3,823.1L384.3,817.7L385.1,812.2L386.4,807.9L387.4,805.7L388.8,803.5L390.6,801.3L393.1,799.1L396.5,797L400.6,794.8L404.7,793L408.9,791.5L413.1,790.4L416.7,789.8L420,789.6L424.4,789.7L438.7,791.4L445.2,791.9L461.7,792.2L463.9,792.5L466.1,793.1L467.4,793.7L469.2,794.8L470.5,795.9L472.1,798L473.4,801.3L473.8,803.5L473.9,805.7L473.8,807.9L473.3,811.1L471.4,817.7L467.4,827.5L462.1,838.3L458.4,844.4L456.2,847.1L452.9,850.2L449.6,852.2L446.3,853.5L443.1,854.2L438.7,854.5L434.3,854.4L426.6,853.7M380.5,965.8L379.5,964.7L379,963.6L378.9,962.5L379.1,961.4L379.7,960.3L380.9,959.2L382.7,958.6L383.8,958.6L384.9,958.8L386,959.4L386.9,960.3L387.4,961.4L387.6,962.5L387.4,963.6L386.9,964.7L385.9,965.8L384.9,966.3L383.8,966.6L382.7,966.6L381.6,966.4L380.5,965.8M436.5,856.9L423.3,855.9L409.1,855.4L405.8,855.1L402.5,854.6L398.1,853.2L394.8,851.6L391.5,849.2L388.3,846L386.8,843.8L384.9,840.5L382.8,835.1L381.9,831.8L381,827.5L380.3,819.8L380.5,813.3L380.9,810L381.7,806.8L382.7,803.6L383.8,801.5L384.9,799.9L386.8,798L389.3,796.3L392.6,794.5L397,792.6L402.5,790.6L406.9,789.3L411.3,788.2L415.6,787.6L418.9,787.3L425.5,787.5L443.1,789L458.4,789.1L462.8,789.3L466.1,789.9L469.4,791.1L471.8,792.6L474.2,794.8L475,795.9L476.3,798L477.2,800.2L477.7,802.4L477.9,806.8L477.3,811.1L475.7,816.6L473,823.1L467.2,835.1L463,842.7L460.6,846.3L458.2,849.2L455.1,852L451.8,854.1L448.5,855.6L445.2,856.4L440.9,856.9L436.5,856.9M378.4,969.3L376.2,967.9L375.1,966.5L374.3,964.7L374.1,963.6L374.2,961.4L375.1,959.2L375.9,958.1L377.3,956.9L378.9,956L380.5,955.4L381.6,955.3L383.8,955.4L386,956.1L387.1,956.7L388.2,957.7L389.3,959.1L390.2,961.4L390.2,963.6L389.9,964.7L388.8,966.9L387.8,967.9L386.2,969L383.8,969.9L381.6,970.1L380.5,970L378.4,969.3M433.2,859.1L423.3,858.3L406.9,858L403.6,857.7L400.3,857.1L395.9,855.7L392.6,854L389,851.4L385.9,848.1L384.3,846L382.4,842.7L380.9,839.4L379.7,836.2L377.7,828.5L376.9,824.2L376.4,819.8L376.3,812.2L376.6,807.9L377.2,804.6L378,801.3L379.2,798L380.5,795.9L381.6,794.9L383.9,793.7L389.4,791.5L396,789.3L401.4,787.8L410.2,785.9L414.5,785.3L418.9,785L425.5,785.2L442,786.5L447.4,786.5L459.5,786.3L465,786.6L469.4,787.6L472.7,788.9L475.9,791.1L478.5,793.7L479.9,795.9L480.9,798L481.6,800.2L482,802.4L482.1,806.8L481.8,808.9L481.1,812.2L479.2,817.7L476.7,823.1L467.7,840.5L463.7,847.1L461.2,850.3L457.9,853.6L454,856.2L450.7,857.7L447.4,858.7L443.1,859.3L438.7,859.4L433.2,859.1M377.3,973.4L375.1,972.7L372.9,971.5L371.3,970.1L369.7,967.9L368.9,965.8L368.6,963.6L369,960.3L370,958.1L371.5,956L372.9,954.7L375.1,953.3L377.3,952.4L379.5,952L382.7,952L384.9,952.4L387.1,953.3L389.3,954.8L390.4,955.8L391.5,957.2L392.5,959.2L393,961.4L393,963.6L392.6,965.5L392.1,966.9L390.7,969L389.7,970.1L388.2,971.3L386,972.5L383.8,973.3L381.6,973.7L379.5,973.7L377.3,973.4M432.1,861.3L422.2,860.6L405.8,860.7L401.4,860.4L398.1,859.8L393.7,858.4L390.4,856.7L388.2,855.2L386.3,853.6L383.3,850.3L381,847.1L379.5,844.3L377.7,840.5L376.5,837.3L375.2,832.9L373.9,827.5L372.9,822L372.3,817.7L372,810L372.3,805.7L372.8,802.4L373.5,799.1L374.6,795.9L375.7,793.7L377.3,791.8L379.5,790.5L382.8,789.3L390.9,787.2L399.2,785.2L404.7,784.1L410.2,783.3L414.5,782.9L418.9,782.7L424.4,782.9L436.5,783.8L442,784L448.5,784L460.6,783.4L467.2,783.8L471.6,784.6L475.9,786.3L479.2,788.3L481.4,790.3L482.5,791.5L484,793.7L485.1,795.9L485.9,798L486.6,801.3L486.7,803.5L486.6,806.8L486.2,808.9L485.4,812.2L483.8,816.6L481.1,822L474.8,833.2L468.6,844.9L465.2,850.3L462.5,853.6L458.8,856.9L455.4,859L451.8,860.5L447.4,861.6L443.1,862L438.7,861.9L432.1,861.3M371.8,976.7L369.3,975.6L366.4,973.4L364.6,971.2L363.1,967.9L362.5,964.7L362.8,961.4L363.8,958.1L365.7,954.9L367.8,952.7L370.8,950.5L374,949.1L377.3,948.4L380.5,948.3L383.8,948.8L387.1,949.9L390.4,951.8L392.6,953.8L394.2,956L395.3,958.1L395.9,960.3L396.1,962.5L395.6,965.8L394.8,967.9L393.6,970.1L391.7,972.3L389.3,974.2L387.1,975.5L383.8,976.8L380.5,977.5L377.3,977.7L374,977.3L371.8,976.7M439.8,864.5L428.8,863.2L424.4,862.9L418.9,862.9L404.7,863.6L400.3,863.4L397,863L392.6,861.8L390.4,860.9L388.2,859.7L384.9,857.3L381.6,854L379.5,851.1L377.3,847.5L375.4,843.8L373.7,839.4L372,834L370.3,827.5L368.9,820.9L368.1,815.5L367.7,811.1L367.7,806.8L368.1,802.4L368.8,799.1L369.8,795.9L370.8,793.7L372.2,791.5L374.2,789.3L376.2,787.9L378.4,786.8L381.6,785.7L386,784.6L404.7,781.4L411.3,780.6L416.7,780.4L422.2,780.5L435.4,781.4L442,781.7L448.5,781.5L462.8,780.5L467.2,780.5L470.5,780.7L474.8,781.5L479.2,783L482.9,785L484.7,786.4L486.7,788.2L488.4,790.4L489.7,792.6L490.6,794.8L491.5,798L491.8,800.2L491.9,803.5L491.5,806.8L490.8,810L489.2,814.4L487.1,818.7L477.1,835.1L469,850.3L466.8,853.6L463.9,857L460.6,859.8L457.3,861.9L454,863.3L449.6,864.4L445.2,864.8L439.8,864.5M367.4,981.1L365.2,980.3L363,979L360.2,976.7L357.8,973.4L356.8,971.2L356.2,969L355.8,966.9L355.8,964.7L356,962.5L356.4,960.3L357.1,958.1L358.1,956L360.3,952.7L363.5,949.4L366.6,947.3L370.7,945.5L375.1,944.6L379.5,944.6L383.8,945.3L388.2,946.9L390.4,948.1L392.6,949.6L394.8,951.6L397.3,954.9L398.3,957.1L399.1,960.3L399.2,963.6L398.6,966.9L397.2,970.1L395.7,972.3L393.7,974.6L390.4,977.2L387.1,979.1L382.7,980.8L378.4,981.8L375.1,982.1L370.7,981.8L367.4,981.1M492.4,818.1L489.9,822L482.5,832.1L479.9,836.2L477.5,840.5L472.2,851.4L469.4,856.1L467.2,858.9L465,861.2L462.2,863.4L459.5,865L457.3,866L454,867.1L450.7,867.6L447.4,867.9L442,867.6L429.9,865.6L423.3,865.1L417.8,865.3L403.6,866.8L397,866.7L393.7,866.2L390.4,865.3L387.1,863.9L384.9,862.5L382,860.1L379.5,857.4L377.3,854.5L375.1,851L372.9,846.7L370.8,841.6L369,836.2L366.6,827.5L365,820.9L364.1,816.6L363.4,811.1L363.2,806.8L363.6,801.3L364.5,797L366.2,792.6L368.5,789.1L370.3,787.2L371.6,786.1L375.1,784L379.5,782.4L384.9,781.2L402.5,778.9L411.3,778.1L420,778L435.4,779.2L443.1,779.4L449.6,779L465,777.3L472.7,777.1L475.9,777.4L479.2,777.9L481.4,778.5L484.4,779.5L488.4,781.7L490.2,783L492.4,785.2M363,986.7L360.8,986.1L358.6,985.1L356.4,983.8L354.2,982L352.4,979.9L350.9,977.7L349.5,974.5L348.8,971.9L348.3,969L348.2,965.8L348.4,963.6L349.1,960.3L350.2,957.1L351.3,954.9L353.1,951.8L355,949.4L358.6,946L360.8,944.4L363.5,942.9L366.1,941.8L368.5,941.1L370.7,940.6L374,940.3L376.2,940.3L379.5,940.7L384.9,942.1L390.4,944.5L393.2,946.2L395.9,948.2L399.1,951.6L401.1,954.9L402.3,958.1L402.7,961.4L402.6,963.6L402.3,965.8L401.3,969L399.6,972.3L397.2,975.6L393.7,978.8L390.4,981L386,983.3L380.5,985.4L376.2,986.5L371.8,987.2L367.4,987.3L363,986.7M492.4,825.5L485.8,832.9L483.6,835.7L481.9,838.3L479.6,842.7L474.8,854.2L473.5,856.9L471.4,860.1L469.4,862.8L466.5,865.6L463.9,867.5L460.6,869.3L458.4,870.2L455.1,871L451.8,871.4L448.5,871.5L445.2,871.2L442,870.6L428.8,867.8L425.5,867.4L422.2,867.3L416.7,867.8L405.8,869.8L400.3,870.5L395.9,870.7L391.5,870.3L388.2,869.6L386,868.7L382.7,866.8L380.5,865L378.4,862.7L376.2,860L374,856.8L371.5,852.5L369.5,848.1L367.4,842.7L360.9,820.9L359.8,816.6L359,812.2L358.6,807.9L358.5,804.6L358.8,799.1L359.8,794.8L361.6,790.4L363.6,787.2L366.3,784.3L369.8,781.7L374,779.7L378.4,778.5L384.9,777.6L404.7,775.8L411.3,775.4L420,775.6L436.5,777.1L440.9,777.2L445.2,777L452.9,776.2L469.4,773.4L477,772.8L481.4,772.8L485.8,773.4L489.1,774.3L492.4,775.6M415.6,713.1L415.6,713.1M359.7,994.1L356.4,993.7L353.1,992.6L350.9,991.5L348.8,989.8L346.5,987.6L344.1,984.3L342.3,981L341,977.8L340.2,974.5L339.8,971.2L339.8,967.9L340.3,963.6L341.4,959.2L342.6,956L344.2,952.7L346.4,949.4L348.8,946.6L351.4,944L354.2,941.7L357.3,939.6L359.7,938.3L363,937L366.3,936.1L369.6,935.6L372.9,935.5L376.2,935.8L379.5,936.5L382.7,937.4L387.1,939.2L390.4,940.8L394.1,942.9L397.3,945.1L401,948.3L403.6,951.6L405.3,954.9L406,957.1L406.4,959.2L406.5,961.4L406.4,963.6L405.4,967.9L403.6,972.3L401.4,975.7L398.1,979.4L393.7,982.8L388.2,986L381.6,989.2L375.1,991.8L369.6,993.3L364.1,994.1L359.7,994.1M492.4,831.2L489.1,834.1L486.9,836.4L485.3,838.3L483.6,841L481.9,844.9L479.2,853.7L477.7,858L476.2,861.2L474.2,864.5L471.6,867.8L469.4,870L466.1,872.4L462.8,874.1L459.5,875.2L456.2,875.8L452.9,876L449.6,875.8L446.3,875.2L443.1,874.4L433.2,871.2L429.9,870.3L426.6,869.7L423.3,869.5L420,869.7L416.7,870.3L403.6,873.7L397,875L393.7,875.4L390.4,875.5L386,875L383.8,874.3L381.6,873.1L379.5,871.3L377.3,869L374.5,865.6L371.8,861.4L369.6,857.4L367.4,852.9L364.3,844.9L360.9,832.9L357.6,824.2L355.9,818.7L354.8,814.4L353.9,810L353.4,805.7L353.3,802.4L353.6,797L354.5,792.6L356.1,788.2L357.9,785L360.6,781.7L364.1,778.8L367.4,776.9L371.8,775.4L375.1,774.7L379.5,774.2L393.7,773.8L405.8,772.9L411.3,772.7L418.9,773L435.4,774.8L439.8,775L444.1,774.9L448.5,774.4L454,773.4L473.8,768.4L480.3,767L486.9,766.2L490.2,766.1L492.4,766.3M422.7,710.9L421.6,713.1L419.7,715.3L418,716.4L416.7,716.9L414.5,717.1L412.3,716.8L411.2,716.4L409.3,715.3L406.9,713.1L405.2,710.9M336.7,1005L335.6,1002.8L334.5,1001.3L331.2,998.5M331.2,942.6L334.5,939.3L341,934.2L346.6,930.3L352,927.1L356.4,925.1L360.8,923.6L365.2,922.7L368.5,922.6L371.8,923.1L375.1,924L378.4,925.5L381.6,927.3L393.7,934.9L407,942.9L410.2,945.3L413,948.3L414.4,950.5L415.6,953.8L416.1,957.1L415.9,961.4L415.2,964.7L413.8,969L411.8,973.4L409.1,978.1L406,982.1L402.5,985.4L399.2,987.7L391.8,991.9L388.5,994.1L379.5,1001.5L374.8,1005M492.4,840.8L490.2,841.8L489.3,842.7L488.6,843.8L488.4,846L488.9,855.8L488.6,861.2L488,864.5L487.2,867.8L485.2,873.2L483.6,876.3L482.1,878.6L480.3,881L478.5,883L475.9,885.3L473.8,886.9L469.4,889.3L465,890.7L460.6,891.3L456.2,891L452.9,890.3L449.6,889L445.2,886.4L434.9,878.6L431,876L427.7,874.5L424.4,873.8L421.1,874.2L417.9,875.4L402.5,883.3L395.9,886.1L390.4,888.1L387.1,889.1L383.8,889.7L380.5,889.7L378.4,889.2L376.2,888.1L374.1,886.3L372.3,884.1L371,881.9L367.4,874.4L360.1,856.9L356.8,848.1L353,836.2L347.4,823.1L343.6,812.2L342.1,806.8L341,801.3L340.5,797L340.3,792.6L340.7,787.2L341.5,782.8L342.9,778.4L345,774.1L347.7,770.3L350.4,767.6L352,766.3L354.2,764.9L357.5,763.4L361.9,762.4L364.1,762.2L367.4,762.3L372.9,763.1L386,766.4L391.5,767.3L395.9,767.4L406.9,766.7L412.3,766.8L418.9,767.5L430.4,769.7L435.4,770.4L440.9,770.7L446.3,770.1L450.7,769.1L455.3,767.6L460.2,765.4L466.1,762.1L469.5,759.9L474.1,756.7L486.9,746L492.4,741.8M440.3,710.9L430.8,718.5L427.6,720.7L423.8,722.9L420,724.5L416.7,725.4L413.4,726L410.2,726.1L405.8,725.8L400.3,724.8L394.8,723.3L389.3,721.4L383.8,719.1L378.5,716.4L375,714.2L370.7,710.9M492.4,964.7L488,967L483.6,969.6L479.5,972.3L475.9,975.1L472.7,978.1L469.9,981L467.3,984.3L465,987.8L455.1,991.2L447.4,994.9L443.1,997.4L438.3,1000.6L435.4,1002.8L433.4,1005M403,924.4L403.6,924.6L404.7,924.7L405.8,924.4L407.3,923.3L408,922.2L408.3,921.1L408.3,920L407.9,918.9L406.9,917.8L405.8,917.4L404.7,917.4L403.6,917.7L402.1,918.9L401.4,920.4L401.3,922.2L401.7,923.3L402.5,924.1L403,924.4M331.2,902L334.5,899.3L337.6,896.1L340,892.9L342,889.5L343.4,886.3L344.7,881.9L345.4,877.6L345.6,873.2L345.4,871L344.4,867.3L342.9,863.4L341,859L338.9,855L336.7,851.3L331.2,843.5M435.1,761L437.6,761.8L439.8,762.1L442,762L444.1,761.5L446.3,760.5L448.5,758.9L449.7,757.8L451.4,755.6L452.5,753.4L453.2,751.2L453.5,749L453.3,746.9L452.8,744.7L451.7,742.5L450.7,741.3L448.5,739.6L446.3,738.5L443.1,737.8L439.8,737.9L436.5,738.6L433.2,739.8L430.4,741.4L427.8,743.6L426.1,745.8L425.2,748L425.1,749L425.3,751.2L426.2,753.4L427.7,755.6L429.9,757.8L432.9,759.9L435.1,761M492.4,1003.5L490.2,1002.8L490.1,1005M331.2,880.7L332.4,878.6L333.1,876.5L333.7,873.2L333.9,871L333.3,867.8L332.3,865.6L331.2,863.8M438,756.7L439.8,757.6L440.9,757.7L442,757.5L443.3,756.7L444,755.6L444.4,754.5L444.5,753.4L444.1,751.9L443.1,750.4L442,749.7L440.9,749.4L439.8,749.5L438.7,749.9L437.6,750.7L436.7,752.3L436.5,753.4L436.7,754.5L437.2,755.6L438,756.7"/>
<path fill="none" stroke="#222" stroke-width="0.7" d="M331.2,963.7L332.5,959.2L335.1,952.7L337.6,948.3L340,945.3L343.6,941.8L349.8,936.7L354.2,934L359.7,931.5L364.1,930.3L368.5,929.8L371.8,929.9L376.2,930.7L380.5,932.2L384.9,934.1L390.4,937L397,940.8M409.1,952.4L410.1,954.9L410.7,958.1L410.8,961.4L410.4,964.7L409.6,967.9L407.8,972.3L405.9,975.6L403.5,978.8L401.5,981L399.2,983.1L394.3,986.5L376.2,997L371.8,999.2L367.4,1000.9L361.9,1002.5L356.4,1003.3L350.9,1003.5L347.7,1003.2L345.3,1002.8L344.4,1001.8L341.5,997.4L333.7,986.5L332.3,983.2L331.2,979.6M492.4,836.1L490.2,837.7L488,839.7L486.9,841.1L486,842.7L484.9,846L483.2,855.8L482.2,860.1L480.3,865.3L478.1,869.4L475.3,873.2L472.7,875.9L469.4,878.3L467.2,879.6L465,880.5L461.7,881.5L458.4,882L455.1,882L450.7,881.4L447.4,880.5L444.1,879.2L431,873.1L427.7,872.1L424.4,871.7L421.1,871.9L417.8,872.6L399.2,879.3L392.6,881.1L386,882.4L380.5,883L377.3,879.1L374,874.4L370.7,869L367.2,862.3L363.7,854.7L361.6,849.2L359.8,843.8L358.4,838.3L357.5,834L354.8,828.5L353,824.2L351.1,818.7L349.5,813.3L348.3,807.9L347.7,803.5L347.4,799.1L347.6,794.8L348.2,790.4L349.1,787.2L350.4,783.9L352,780.8L353.8,778.4L355.3,776.7L357.5,774.8L359.7,773.3L362.3,771.9L365.2,770.8L367.4,770.3L370.7,769.8L374,769.6L377.3,769.6L388.2,770.5L392.6,770.6L408,769.9L413.4,769.9L420,770.5L434.3,772.5L438.7,772.8L443.1,772.7M459.5,769L466.2,766.5L473.9,763.2L490.2,755.6L492.4,755.3M430.2,710.9L426.5,715.3L424.1,717.5L422.2,718.8L420,720L417.8,720.8L415.6,721.3L413.4,721.4L411.3,721.3L408,720.7L404.9,719.6L402.6,718.5L400.6,717.5L397.4,715.3L394.8,713.1L392.6,710.9M406.3,933.1L410.2,933.8L414.5,934.1L418.9,933.8L423.1,933.1L426.7,932L428.8,930.9L430,929.8L430.8,928.7L431.4,927.7L431.8,925.5L431.8,923.3L431.3,920L429.7,913.5L428.9,909.1L428.5,904.8L428.1,897.2L427.7,892.6L426.6,886.8L424.4,878.6L424,879.7L423.3,880.6L422.7,881.9L420.5,885.2L418.6,887.4L416.7,889.1L414.5,890.9L411.6,892.8L401.6,898.2M389.4,909.1L389,910.2L388.6,912.4L388.8,915.7L389.7,918.9L390.7,921.1L392,923.3L394.6,926.6L398.1,929.6L400.3,930.9L402.5,931.9L406.3,933.1M331.2,922.5L333.4,921.1L346.2,911.3L349.8,908L352.8,904.8L355,901.5L356.4,898.2L357.4,893.9L357.7,889.5L357.3,883L356.3,875.4L354.8,868.8L352.7,862.3L349.7,854.7L345.5,844.7L337.1,827.5L333.4,818.7L331.2,815.2M492.4,921.7L490.2,924.4L457.3,934.5L451.8,936.5L447.4,938.5L444.5,940.7L442.7,942.9L440.9,946L435.4,956.3M425.6,971.2L422.9,975.6L421.1,977.8L418.9,979.9L418.2,982.1L416.6,985.4L414.5,988.4L412.4,990.8L409.1,993.7L406.9,995.1L404.7,996.2L400.3,997.7L398.1,998.2L394.8,998.4L392.4,1005M432.7,765.4L436.5,766.1L440.9,766.4L444.1,766L447.4,765.2L451.8,763.2L455.2,761L457.8,758.8L460.8,755.6L463.2,752.3L465.4,748L466.7,743.6L467.1,740.3L466.9,737.1L466.1,733.8L464.3,730.5L461.7,727.9L459.5,726.6L457.3,725.6L455.1,725L452.9,724.7L450.7,724.5L447.4,724.7L442,725.7L435.4,727.9L421.1,734L414.5,736.4L409.1,737.8L399.2,739.5L394.8,740.8L391.5,742.3L389.6,743.6L388.2,745L387,746.9L386.6,748L386.2,750.1L386.3,751.2L386.7,753.4L387.6,755.6L389,757.8L389.9,758.8L391.5,760L392.6,760.5L394.8,760.6L402.5,759L408,758.6L411.3,758.7L415.6,759.4M431,764.9L432.1,765.2L432.7,765.4"/>
<text x="451.8" y="773.7" font-size="7.2" text-anchor="middle" transform="rotate(-11.8 451.8 771.3)" fill="#222">2600</text>
<text x="403.6" y="948" font-size="7.2" text-anchor="middle" transform="rotate(43.3 403.6 945.6)" fill="#222">2600</text>
<text x="423.3" y="764.5" font-size="7.2" text-anchor="middle" transform="rotate(17.9 423.3 762.1)" fill="#222">3200</text>
<text x="394.8" y="905" font-size="7.2" text-anchor="middle" transform="rotate(-42.7 394.8 902.6)" fill="#222">3200</text>
<text x="430.4" y="966" font-size="7.2" text-anchor="middle" transform="rotate(-56.9 430.4 963.6)" fill="#222">3200</text>
</g>
<circle cx="415.6" cy="713.4" r="1.9" fill="none" stroke="#222" stroke-width="1.05"/>
<circle cx="440.9" cy="755.6" r="1.9" fill="none" stroke="#222" stroke-width="1.05"/>
<circle cx="393.3" cy="758.8" r="1.9" fill="none" stroke="#222" stroke-width="1.05"/>
<circle cx="378.4" cy="793.1" r="1.9" fill="none" stroke="#222" stroke-width="1.05"/>
<circle cx="419.5" cy="800.2" r="1.9" fill="none" stroke="#222" stroke-width="1.05"/>
<circle cx="465" cy="799.1" r="1.9" fill="none" stroke="#222" stroke-width="1.05"/>
<circle cx="357.5" cy="834" r="1.9" fill="none" stroke="#222" stroke-width="1.05"/>
<circle cx="403" cy="838.3" r="1.9" fill="none" stroke="#222" stroke-width="1.05"/>
<circle cx="443.1" cy="843.2" r="1.9" fill="none" stroke="#222" stroke-width="1.05"/>
<circle cx="489.8" cy="843.8" r="1.9" fill="none" stroke="#222" stroke-width="1.05"/>
<circle cx="333.5" cy="874.3" r="1.9" fill="none" stroke="#222" stroke-width="1.05"/>
<circle cx="380.5" cy="883" r="1.9" fill="none" stroke="#222" stroke-width="1.05"/>
<circle cx="424.4" cy="878.1" r="1.9" fill="none" stroke="#222" stroke-width="1.05"/>
<circle cx="438.1" cy="909.1" r="1.9" fill="none" stroke="#222" stroke-width="1.05"/>
<circle cx="359.7" cy="919.5" r="1.9" fill="none" stroke="#222" stroke-width="1.05"/>
<circle cx="403.6" cy="922.8" r="1.9" fill="none" stroke="#222" stroke-width="1.05"/>
<circle cx="384.4" cy="962.5" r="1.9" fill="none" stroke="#222" stroke-width="1.05"/>
<circle cx="427.2" cy="967.4" r="1.9" fill="none" stroke="#222" stroke-width="1.05"/>
<circle cx="408" cy="1002.7" r="1.9" fill="none" stroke="#222" stroke-width="1.05"/>
<text x="333.5" y="1014.2" font-size="8.8" text-anchor="middle">0</text>
<text x="355.2" y="1014.2" font-size="8.8" text-anchor="middle">2</text>
<text x="376.9" y="1014.2" font-size="8.8" text-anchor="middle">4</text>
<text x="398.6" y="1014.2" font-size="8.8" text-anchor="middle">6</text>
<text x="420.3" y="1014.2" font-size="8.8" text-anchor="middle">8</text>
<text x="442" y="1014.2" font-size="8.8" text-anchor="middle">10</text>
<text x="463.8" y="1014.2" font-size="8.8" text-anchor="middle">12</text>
<text x="485.5" y="1014.2" font-size="8.8" text-anchor="middle">14</text>
<text x="329" y="1005.6" font-size="8.8" text-anchor="end">0</text>
<text x="329" y="983.9" font-size="8.8" text-anchor="end">2</text>
<text x="329" y="962.3" font-size="8.8" text-anchor="end">4</text>
<text x="329" y="940.6" font-size="8.8" text-anchor="end">6</text>
<text x="329" y="918.9" font-size="8.8" text-anchor="end">8</text>
<text x="329" y="897.2" font-size="8.8" text-anchor="end">10</text>
<text x="329" y="875.6" font-size="8.8" text-anchor="end">12</text>
<text x="329" y="853.9" font-size="8.8" text-anchor="end">14</text>
<text x="329" y="832.2" font-size="8.8" text-anchor="end">16</text>
<text x="329" y="810.6" font-size="8.8" text-anchor="end">18</text>
<text x="329" y="788.9" font-size="8.8" text-anchor="end">20</text>
<text x="329" y="767.2" font-size="8.8" text-anchor="end">22</text>
<text x="329" y="745.6" font-size="8.8" text-anchor="end">24</text>
<text x="329" y="723.9" font-size="8.8" text-anchor="end">26</text>
<path d="M333.5,713.4H489.8V1002.7" fill="none" stroke="#555" stroke-width="0.5"/>
<path d="M333.5,713.4V1002.7H489.8M333.5,1002.7v3M355.2,1002.7v3M376.9,1002.7v3M398.6,1002.7v3M420.3,1002.7v3M442,1002.7v3M463.8,1002.7v3M485.5,1002.7v3M333.5,1002.7h-3M333.5,981h-3M333.5,959.4h-3M333.5,937.7h-3M333.5,916h-3M333.5,894.3h-3M333.5,872.7h-3M333.5,851h-3M333.5,829.3h-3M333.5,807.7h-3M333.5,786h-3M333.5,764.3h-3M333.5,742.7h-3M333.5,721h-3M489.8,713.4v-2M489.8,713.4h2" fill="none" stroke="#333" stroke-width="0.6"/>
<text x="418.4" y="1031" font-size="13.2" text-anchor="middle">Southing (m)</text>
<text x="309.5" y="854.5" font-size="13.2" text-anchor="middle" transform="rotate(-90 309.5 854.5)">Easting (m)</text>
<text x="518.8" y="731.7" font-size="10.8" font-weight="bold" text-anchor="middle">(h)</text>
<rect x="512.8" y="990.4" width="14" height="11.5" fill="#b0fcca"/>
<rect x="512.8" y="979.1" width="14" height="11.5" fill="#00cd82"/>
<rect x="512.8" y="967.8" width="14" height="11.5" fill="#00e46a"/>
<rect x="512.8" y="956.5" width="14" height="11.5" fill="#08f44e"/>
<rect x="512.8" y="945.1" width="14" height="11.5" fill="#60f84c"/>
<rect x="512.8" y="933.8" width="14" height="11.5" fill="#c4fd50"/>
<rect x="512.8" y="922.5" width="14" height="11.5" fill="#f2ff54"/>
<rect x="512.8" y="911.2" width="14" height="11.5" fill="#fff850"/>
<rect x="512.8" y="899.9" width="14" height="11.5" fill="#ffe75c"/>
<rect x="512.8" y="888.6" width="14" height="11.5" fill="#ffd262"/>
<rect x="512.8" y="877.3" width="14" height="11.5" fill="#ffbc62"/>
<rect x="512.8" y="866" width="14" height="11.5" fill="#ffa562"/>
<rect x="512.8" y="854.7" width="14" height="11.5" fill="#ff8f62"/>
<rect x="512.8" y="843.4" width="14" height="11.5" fill="#ff7b62"/>
<rect x="512.8" y="832" width="14" height="11.5" fill="#ff6666"/>
<rect x="512.8" y="820.7" width="14" height="11.5" fill="#ff5048"/>
<rect x="512.8" y="809.4" width="14" height="11.5" fill="#ff3a32"/>
<rect x="512.8" y="798.1" width="14" height="11.5" fill="#ff2219"/>
<rect x="512.8" y="786.8" width="14" height="11.5" fill="#ff0a02"/>
<path d="M512.8,990.4H526.8M512.8,979.1H526.8M512.8,967.8H526.8M512.8,956.5H526.8M512.8,945.1H526.8M512.8,933.8H526.8M512.8,922.5H526.8M512.8,911.2H526.8M512.8,899.9H526.8M512.8,888.6H526.8M512.8,877.3H526.8M512.8,866H526.8M512.8,854.7H526.8M512.8,843.4H526.8M512.8,832H526.8M512.8,820.7H526.8M512.8,809.4H526.8M512.8,798.1H526.8" fill="none" stroke="#3a1a08" stroke-opacity="0.8" stroke-width="0.7"/>
<rect x="512.8" y="786.8" width="14" height="214.9" fill="none" stroke="#806050" stroke-opacity="0.5" stroke-width="0.4"/>
<text x="529" y="1004" font-size="7.2">-100</text>
<text x="529" y="981.4" font-size="7.2">400</text>
<text x="529" y="958.8" font-size="7.2">800</text>
<text x="529" y="936.1" font-size="7.2">1200</text>
<text x="529" y="913.5" font-size="7.2">1600</text>
<text x="529" y="890.9" font-size="7.2">2000</text>
<text x="529" y="868.3" font-size="7.2">2400</text>
<text x="529" y="845.7" font-size="7.2">2800</text>
<text x="529" y="823" font-size="7.2">3600</text>
<text x="529" y="800.4" font-size="7.2">4400</text>
<text x="511.3" y="778" font-size="11">µg/L</text>
</svg>
</body></html>
